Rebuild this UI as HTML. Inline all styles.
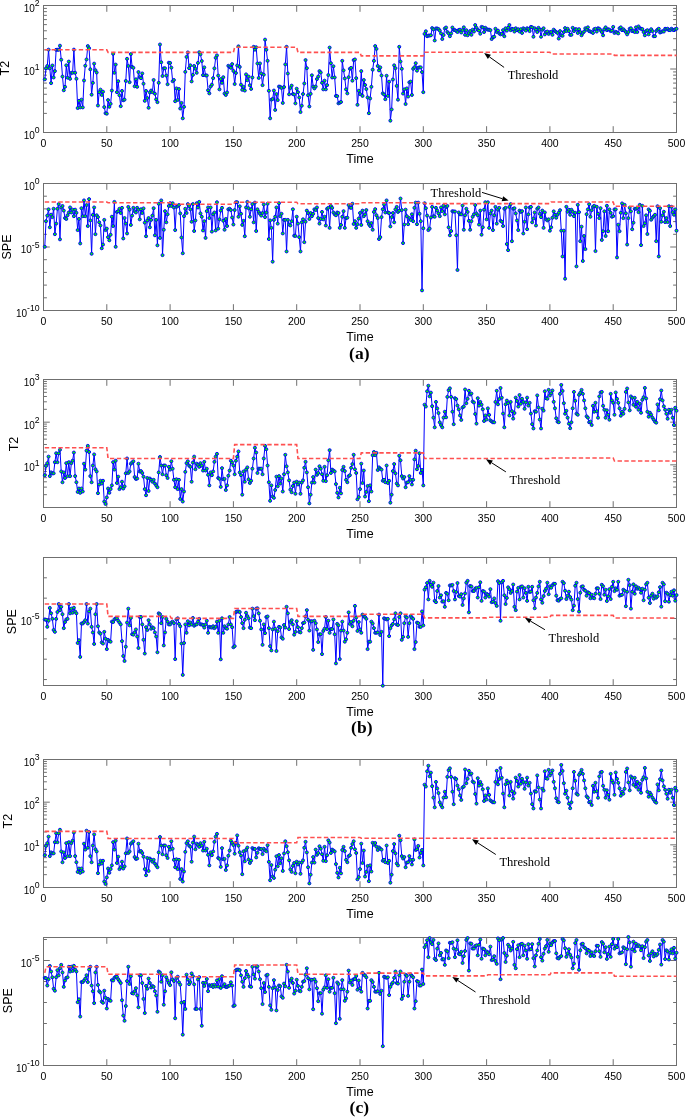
<!DOCTYPE html>
<html><head><meta charset="utf-8"><style>
html,body{margin:0;padding:0;background:#fff;}
svg{display:block;}
.tl{font-family:"Liberation Sans",Arial,sans-serif;font-size:10.5px;fill:#000;}
.tly{font-family:"Liberation Sans",Arial,sans-serif;font-size:10px;fill:#000;}
.sup{font-size:8.7px;}
.al{font-family:"Liberation Sans",Arial,sans-serif;font-size:12.5px;fill:#000;}
.th{font-family:"Liberation Serif","Times New Roman",serif;font-size:12.5px;fill:#000;}
.lt{font-family:"Liberation Serif","Times New Roman",serif;font-size:17.5px;font-weight:bold;fill:#000;}
</style></head><body>
<svg width="685" height="1119" viewBox="0 0 685 1119">
<rect width="685" height="1119" fill="#fff"/>
<path d="M43.5 132.5v-6.3M43.5 5.5v6.3M106.8 132.5v-6.3M106.8 5.5v6.3M170.1 132.5v-6.3M170.1 5.5v6.3M233.4 132.5v-6.3M233.4 5.5v6.3M296.7 132.5v-6.3M296.7 5.5v6.3M360 132.5v-6.3M360 5.5v6.3M423.3 132.5v-6.3M423.3 5.5v6.3M486.6 132.5v-6.3M486.6 5.5v6.3M549.9 132.5v-6.3M549.9 5.5v6.3M613.2 132.5v-6.3M613.2 5.5v6.3M676.5 132.5v-6.3M676.5 5.5v6.3M43.5 132.5h6.3M676.5 132.5h-6.3M43.5 113.38h3.4M676.5 113.38h-3.4M43.5 102.2h3.4M676.5 102.2h-3.4M43.5 94.27h3.4M676.5 94.27h-3.4M43.5 88.12h3.4M676.5 88.12h-3.4M43.5 83.09h3.4M676.5 83.09h-3.4M43.5 78.84h3.4M676.5 78.84h-3.4M43.5 75.15h3.4M676.5 75.15h-3.4M43.5 71.91h3.4M676.5 71.91h-3.4M43.5 69h6.3M676.5 69h-6.3M43.5 49.88h3.4M676.5 49.88h-3.4M43.5 38.7h3.4M676.5 38.7h-3.4M43.5 30.77h3.4M676.5 30.77h-3.4M43.5 24.62h3.4M676.5 24.62h-3.4M43.5 19.59h3.4M676.5 19.59h-3.4M43.5 15.34h3.4M676.5 15.34h-3.4M43.5 11.65h3.4M676.5 11.65h-3.4M43.5 8.41h3.4M676.5 8.41h-3.4M43.5 5.5h6.3M676.5 5.5h-6.3" stroke="#6f6f6f" stroke-width="1" fill="none"/>
<rect x="43.5" y="5.5" width="633" height="127" stroke="#6f6f6f" stroke-width="1" fill="none"/>
<text x="43.5" y="147" class="tl" text-anchor="middle">0</text>
<text x="106.8" y="147" class="tl" text-anchor="middle">50</text>
<text x="170.1" y="147" class="tl" text-anchor="middle">100</text>
<text x="233.4" y="147" class="tl" text-anchor="middle">150</text>
<text x="296.7" y="147" class="tl" text-anchor="middle">200</text>
<text x="360" y="147" class="tl" text-anchor="middle">250</text>
<text x="423.3" y="147" class="tl" text-anchor="middle">300</text>
<text x="486.6" y="147" class="tl" text-anchor="middle">350</text>
<text x="549.9" y="147" class="tl" text-anchor="middle">400</text>
<text x="613.2" y="147" class="tl" text-anchor="middle">450</text>
<text x="676.5" y="147" class="tl" text-anchor="middle">500</text>
<text x="360" y="163.3" class="al" text-anchor="middle">Time</text>
<text x="39.6" y="11.9" class="tly" text-anchor="end">10<tspan class="sup" dy="-5.6">2</tspan></text>
<text x="39.6" y="75.4" class="tly" text-anchor="end">10<tspan class="sup" dy="-5.6">1</tspan></text>
<text x="39.6" y="138.9" class="tly" text-anchor="end">10<tspan class="sup" dy="-5.6">0</tspan></text>
<text class="al" text-anchor="middle" transform="translate(8.9 68.2) rotate(-90)">T2</text>
<path d="M43.5 310.5v-6.3M43.5 183.5v6.3M106.8 310.5v-6.3M106.8 183.5v6.3M170.1 310.5v-6.3M170.1 183.5v6.3M233.4 310.5v-6.3M233.4 183.5v6.3M296.7 310.5v-6.3M296.7 183.5v6.3M360 310.5v-6.3M360 183.5v6.3M423.3 310.5v-6.3M423.3 183.5v6.3M486.6 310.5v-6.3M486.6 183.5v6.3M549.9 310.5v-6.3M549.9 183.5v6.3M613.2 310.5v-6.3M613.2 183.5v6.3M676.5 310.5v-6.3M676.5 183.5v6.3M43.5 310.5h6.3M676.5 310.5h-6.3M43.5 297.8h3.4M676.5 297.8h-3.4M43.5 285.1h3.4M676.5 285.1h-3.4M43.5 272.4h3.4M676.5 272.4h-3.4M43.5 259.7h3.4M676.5 259.7h-3.4M43.5 247h6.3M676.5 247h-6.3M43.5 234.3h3.4M676.5 234.3h-3.4M43.5 221.6h3.4M676.5 221.6h-3.4M43.5 208.9h3.4M676.5 208.9h-3.4M43.5 196.2h3.4M676.5 196.2h-3.4M43.5 183.5h6.3M676.5 183.5h-6.3" stroke="#6f6f6f" stroke-width="1" fill="none"/>
<rect x="43.5" y="183.5" width="633" height="127" stroke="#6f6f6f" stroke-width="1" fill="none"/>
<text x="43.5" y="325" class="tl" text-anchor="middle">0</text>
<text x="106.8" y="325" class="tl" text-anchor="middle">50</text>
<text x="170.1" y="325" class="tl" text-anchor="middle">100</text>
<text x="233.4" y="325" class="tl" text-anchor="middle">150</text>
<text x="296.7" y="325" class="tl" text-anchor="middle">200</text>
<text x="360" y="325" class="tl" text-anchor="middle">250</text>
<text x="423.3" y="325" class="tl" text-anchor="middle">300</text>
<text x="486.6" y="325" class="tl" text-anchor="middle">350</text>
<text x="549.9" y="325" class="tl" text-anchor="middle">400</text>
<text x="613.2" y="325" class="tl" text-anchor="middle">450</text>
<text x="676.5" y="325" class="tl" text-anchor="middle">500</text>
<text x="360" y="341.3" class="al" text-anchor="middle">Time</text>
<text x="39.6" y="189.9" class="tly" text-anchor="end">10<tspan class="sup" dy="-5.6">0</tspan></text>
<text x="39.6" y="253.4" class="tly" text-anchor="end">10<tspan class="sup" dy="-5.6">-5</tspan></text>
<text x="39.6" y="316.9" class="tly" text-anchor="end">10<tspan class="sup" dy="-5.6">-10</tspan></text>
<text class="al" text-anchor="middle" transform="translate(10.9 247) rotate(-90)">SPE</text>
<path d="M43.5 507.5v-6.3M43.5 379.5v6.3M106.8 507.5v-6.3M106.8 379.5v6.3M170.1 507.5v-6.3M170.1 379.5v6.3M233.4 507.5v-6.3M233.4 379.5v6.3M296.7 507.5v-6.3M296.7 379.5v6.3M360 507.5v-6.3M360 379.5v6.3M423.3 507.5v-6.3M423.3 379.5v6.3M486.6 507.5v-6.3M486.6 379.5v6.3M549.9 507.5v-6.3M549.9 379.5v6.3M613.2 507.5v-6.3M613.2 379.5v6.3M676.5 507.5v-6.3M676.5 379.5v6.3M43.5 507.5h3.4M676.5 507.5h-3.4M43.5 494.66h3.4M676.5 494.66h-3.4M43.5 487.14h3.4M676.5 487.14h-3.4M43.5 481.81h3.4M676.5 481.81h-3.4M43.5 477.68h3.4M676.5 477.68h-3.4M43.5 474.3h3.4M676.5 474.3h-3.4M43.5 471.44h3.4M676.5 471.44h-3.4M43.5 468.97h3.4M676.5 468.97h-3.4M43.5 466.79h3.4M676.5 466.79h-3.4M43.5 464.83h6.3M676.5 464.83h-6.3M43.5 451.99h3.4M676.5 451.99h-3.4M43.5 444.48h3.4M676.5 444.48h-3.4M43.5 439.15h3.4M676.5 439.15h-3.4M43.5 435.01h3.4M676.5 435.01h-3.4M43.5 431.63h3.4M676.5 431.63h-3.4M43.5 428.78h3.4M676.5 428.78h-3.4M43.5 426.3h3.4M676.5 426.3h-3.4M43.5 424.12h3.4M676.5 424.12h-3.4M43.5 422.17h6.3M676.5 422.17h-6.3M43.5 409.32h3.4M676.5 409.32h-3.4M43.5 401.81h3.4M676.5 401.81h-3.4M43.5 396.48h3.4M676.5 396.48h-3.4M43.5 392.34h3.4M676.5 392.34h-3.4M43.5 388.97h3.4M676.5 388.97h-3.4M43.5 386.11h3.4M676.5 386.11h-3.4M43.5 383.63h3.4M676.5 383.63h-3.4M43.5 381.45h3.4M676.5 381.45h-3.4M43.5 379.5h6.3M676.5 379.5h-6.3" stroke="#6f6f6f" stroke-width="1" fill="none"/>
<rect x="43.5" y="379.5" width="633" height="128" stroke="#6f6f6f" stroke-width="1" fill="none"/>
<text x="43.5" y="522" class="tl" text-anchor="middle">0</text>
<text x="106.8" y="522" class="tl" text-anchor="middle">50</text>
<text x="170.1" y="522" class="tl" text-anchor="middle">100</text>
<text x="233.4" y="522" class="tl" text-anchor="middle">150</text>
<text x="296.7" y="522" class="tl" text-anchor="middle">200</text>
<text x="360" y="522" class="tl" text-anchor="middle">250</text>
<text x="423.3" y="522" class="tl" text-anchor="middle">300</text>
<text x="486.6" y="522" class="tl" text-anchor="middle">350</text>
<text x="549.9" y="522" class="tl" text-anchor="middle">400</text>
<text x="613.2" y="522" class="tl" text-anchor="middle">450</text>
<text x="676.5" y="522" class="tl" text-anchor="middle">500</text>
<text x="360" y="538.3" class="al" text-anchor="middle">Time</text>
<text x="39.6" y="385.9" class="tly" text-anchor="end">10<tspan class="sup" dy="-5.6">3</tspan></text>
<text x="39.6" y="428.57" class="tly" text-anchor="end">10<tspan class="sup" dy="-5.6">2</tspan></text>
<text x="39.6" y="471.23" class="tly" text-anchor="end">10<tspan class="sup" dy="-5.6">1</tspan></text>
<text class="al" text-anchor="middle" transform="translate(17.9 444) rotate(-90)">T2</text>
<path d="M43.5 685.5v-6.3M43.5 557.5v6.3M106.8 685.5v-6.3M106.8 557.5v6.3M170.1 685.5v-6.3M170.1 557.5v6.3M233.4 685.5v-6.3M233.4 557.5v6.3M296.7 685.5v-6.3M296.7 557.5v6.3M360 685.5v-6.3M360 557.5v6.3M423.3 685.5v-6.3M423.3 557.5v6.3M486.6 685.5v-6.3M486.6 557.5v6.3M549.9 685.5v-6.3M549.9 557.5v6.3M613.2 685.5v-6.3M613.2 557.5v6.3M676.5 685.5v-6.3M676.5 557.5v6.3M43.5 679.55h3.4M676.5 679.55h-3.4M43.5 659.2h3.4M676.5 659.2h-3.4M43.5 638.85h3.4M676.5 638.85h-3.4M43.5 618.5h6.3M676.5 618.5h-6.3M43.5 598.15h3.4M676.5 598.15h-3.4M43.5 577.8h3.4M676.5 577.8h-3.4" stroke="#6f6f6f" stroke-width="1" fill="none"/>
<rect x="43.5" y="557.5" width="633" height="128" stroke="#6f6f6f" stroke-width="1" fill="none"/>
<text x="43.5" y="700" class="tl" text-anchor="middle">0</text>
<text x="106.8" y="700" class="tl" text-anchor="middle">50</text>
<text x="170.1" y="700" class="tl" text-anchor="middle">100</text>
<text x="233.4" y="700" class="tl" text-anchor="middle">150</text>
<text x="296.7" y="700" class="tl" text-anchor="middle">200</text>
<text x="360" y="700" class="tl" text-anchor="middle">250</text>
<text x="423.3" y="700" class="tl" text-anchor="middle">300</text>
<text x="486.6" y="700" class="tl" text-anchor="middle">350</text>
<text x="549.9" y="700" class="tl" text-anchor="middle">400</text>
<text x="613.2" y="700" class="tl" text-anchor="middle">450</text>
<text x="676.5" y="700" class="tl" text-anchor="middle">500</text>
<text x="360" y="716.3" class="al" text-anchor="middle">Time</text>
<text x="39.6" y="624.9" class="tly" text-anchor="end">10<tspan class="sup" dy="-5.6">-5</tspan></text>
<text class="al" text-anchor="middle" transform="translate(15.8 621.7) rotate(-90)">SPE</text>
<path d="M43.5 887.5v-6.3M43.5 759.5v6.3M106.8 887.5v-6.3M106.8 759.5v6.3M170.1 887.5v-6.3M170.1 759.5v6.3M233.4 887.5v-6.3M233.4 759.5v6.3M296.7 887.5v-6.3M296.7 759.5v6.3M360 887.5v-6.3M360 759.5v6.3M423.3 887.5v-6.3M423.3 759.5v6.3M486.6 887.5v-6.3M486.6 759.5v6.3M549.9 887.5v-6.3M549.9 759.5v6.3M613.2 887.5v-6.3M613.2 759.5v6.3M676.5 887.5v-6.3M676.5 759.5v6.3M43.5 887.5h6.3M676.5 887.5h-6.3M43.5 874.66h3.4M676.5 874.66h-3.4M43.5 867.14h3.4M676.5 867.14h-3.4M43.5 861.81h3.4M676.5 861.81h-3.4M43.5 857.68h3.4M676.5 857.68h-3.4M43.5 854.3h3.4M676.5 854.3h-3.4M43.5 851.44h3.4M676.5 851.44h-3.4M43.5 848.97h3.4M676.5 848.97h-3.4M43.5 846.79h3.4M676.5 846.79h-3.4M43.5 844.83h6.3M676.5 844.83h-6.3M43.5 831.99h3.4M676.5 831.99h-3.4M43.5 824.48h3.4M676.5 824.48h-3.4M43.5 819.15h3.4M676.5 819.15h-3.4M43.5 815.01h3.4M676.5 815.01h-3.4M43.5 811.63h3.4M676.5 811.63h-3.4M43.5 808.78h3.4M676.5 808.78h-3.4M43.5 806.3h3.4M676.5 806.3h-3.4M43.5 804.12h3.4M676.5 804.12h-3.4M43.5 802.17h6.3M676.5 802.17h-6.3M43.5 789.32h3.4M676.5 789.32h-3.4M43.5 781.81h3.4M676.5 781.81h-3.4M43.5 776.48h3.4M676.5 776.48h-3.4M43.5 772.34h3.4M676.5 772.34h-3.4M43.5 768.97h3.4M676.5 768.97h-3.4M43.5 766.11h3.4M676.5 766.11h-3.4M43.5 763.63h3.4M676.5 763.63h-3.4M43.5 761.45h3.4M676.5 761.45h-3.4M43.5 759.5h6.3M676.5 759.5h-6.3" stroke="#6f6f6f" stroke-width="1" fill="none"/>
<rect x="43.5" y="759.5" width="633" height="128" stroke="#6f6f6f" stroke-width="1" fill="none"/>
<text x="43.5" y="902" class="tl" text-anchor="middle">0</text>
<text x="106.8" y="902" class="tl" text-anchor="middle">50</text>
<text x="170.1" y="902" class="tl" text-anchor="middle">100</text>
<text x="233.4" y="902" class="tl" text-anchor="middle">150</text>
<text x="296.7" y="902" class="tl" text-anchor="middle">200</text>
<text x="360" y="902" class="tl" text-anchor="middle">250</text>
<text x="423.3" y="902" class="tl" text-anchor="middle">300</text>
<text x="486.6" y="902" class="tl" text-anchor="middle">350</text>
<text x="549.9" y="902" class="tl" text-anchor="middle">400</text>
<text x="613.2" y="902" class="tl" text-anchor="middle">450</text>
<text x="676.5" y="902" class="tl" text-anchor="middle">500</text>
<text x="360" y="918.3" class="al" text-anchor="middle">Time</text>
<text x="39.6" y="765.9" class="tly" text-anchor="end">10<tspan class="sup" dy="-5.6">3</tspan></text>
<text x="39.6" y="808.57" class="tly" text-anchor="end">10<tspan class="sup" dy="-5.6">2</tspan></text>
<text x="39.6" y="851.23" class="tly" text-anchor="end">10<tspan class="sup" dy="-5.6">1</tspan></text>
<text x="39.6" y="893.9" class="tly" text-anchor="end">10<tspan class="sup" dy="-5.6">0</tspan></text>
<text class="al" text-anchor="middle" transform="translate(11.8 821.2) rotate(-90)">T2</text>
<path d="M43.5 1065.5v-6.3M43.5 937.5v6.3M106.8 1065.5v-6.3M106.8 937.5v6.3M170.1 1065.5v-6.3M170.1 937.5v6.3M233.4 1065.5v-6.3M233.4 937.5v6.3M296.7 1065.5v-6.3M296.7 937.5v6.3M360 1065.5v-6.3M360 937.5v6.3M423.3 1065.5v-6.3M423.3 937.5v6.3M486.6 1065.5v-6.3M486.6 937.5v6.3M549.9 1065.5v-6.3M549.9 937.5v6.3M613.2 1065.5v-6.3M613.2 937.5v6.3M676.5 1065.5v-6.3M676.5 937.5v6.3M43.5 1065.5h6.3M676.5 1065.5h-6.3M43.5 1044.5h3.4M676.5 1044.5h-3.4M43.5 1023.5h3.4M676.5 1023.5h-3.4M43.5 1002.5h3.4M676.5 1002.5h-3.4M43.5 981.5h3.4M676.5 981.5h-3.4M43.5 960.5h6.3M676.5 960.5h-6.3M43.5 939.5h3.4M676.5 939.5h-3.4" stroke="#6f6f6f" stroke-width="1" fill="none"/>
<rect x="43.5" y="937.5" width="633" height="128" stroke="#6f6f6f" stroke-width="1" fill="none"/>
<text x="43.5" y="1080" class="tl" text-anchor="middle">0</text>
<text x="106.8" y="1080" class="tl" text-anchor="middle">50</text>
<text x="170.1" y="1080" class="tl" text-anchor="middle">100</text>
<text x="233.4" y="1080" class="tl" text-anchor="middle">150</text>
<text x="296.7" y="1080" class="tl" text-anchor="middle">200</text>
<text x="360" y="1080" class="tl" text-anchor="middle">250</text>
<text x="423.3" y="1080" class="tl" text-anchor="middle">300</text>
<text x="486.6" y="1080" class="tl" text-anchor="middle">350</text>
<text x="549.9" y="1080" class="tl" text-anchor="middle">400</text>
<text x="613.2" y="1080" class="tl" text-anchor="middle">450</text>
<text x="676.5" y="1080" class="tl" text-anchor="middle">500</text>
<text x="360" y="1096.3" class="al" text-anchor="middle">Time</text>
<text x="39.6" y="966.9" class="tly" text-anchor="end">10<tspan class="sup" dy="-5.6">-5</tspan></text>
<text x="39.6" y="1071.9" class="tly" text-anchor="end">10<tspan class="sup" dy="-5.6">-10</tspan></text>
<text class="al" text-anchor="middle" transform="translate(12.4 1000.7) rotate(-90)">SPE</text>
<polyline points="44.77,79.35 46.03,68.32 47.3,65.98 48.56,49.63 49.83,68.32 51.1,83.08 52.36,65.51 53.63,77.48 54.89,71.12 56.16,49.81 57.43,49.81 58.69,49.81 59.96,45.7 61.22,59.72 62.49,76.54 63.76,90.28 65.02,86.82 66.29,65.33 67.55,77.66 68.82,61.59 70.09,78.79 71.35,72.8 72.62,72.8 73.88,49.63 75.15,72.8 76.42,78.79 77.68,108.04 78.95,100.84 80.21,107.38 81.48,99.63 82.75,107.38 84.01,80.47 85.28,65.7 86.54,59.44 87.81,46.07 89.08,48.22 90.34,69.25 91.61,94.67 92.87,82.8 94.14,63.64 95.41,70.19 96.67,72.52 97.94,105.51 99.2,92.15 100.47,89.63 101.74,94.95 103,91.68 104.27,107.1 105.53,113.18 106.8,113.64 108.07,100.09 109.33,106.82 110.6,103.83 111.86,90.56 113.13,53.83 114.4,72.8 115.66,64.58 116.93,92.15 118.19,81.21 119.46,95.23 120.73,106.17 121.99,90.93 123.26,100.28 124.52,99.63 125.79,80.93 127.06,58.79 128.32,65.98 129.59,82.15 130.85,54.11 132.12,66.92 133.39,67.85 134.65,86.26 135.92,79.35 137.18,86.82 138.45,72.06 139.72,77.2 140.98,78.13 142.25,73.46 143.51,83.74 144.78,100.84 146.05,90.93 147.31,98.04 148.58,107.76 149.84,92.43 151.11,90.56 152.38,92.15 153.64,80 154.91,93.74 156.17,99.35 157.44,102.15 158.71,82.8 159.97,44.49 161.24,62.24 162.5,75.98 163.77,68.32 165.04,68.32 166.3,75.61 167.57,84.21 168.83,62.71 170.1,62.9 171.37,67.66 172.63,81.21 173.9,80 175.16,101.21 176.43,88.41 177.7,99.91 178.96,89.07 180.23,108.5 181.49,102.9 182.76,118.32 184.03,106.82 185.29,71.87 186.56,56.92 187.82,52.43 189.09,68.13 190.36,65.33 191.62,81.4 192.89,74.86 194.15,65.98 195.42,68.79 196.69,72.8 197.95,62.9 199.22,52.24 200.48,54.3 201.75,61.03 203.02,75.14 204.28,67.38 205.55,75.33 206.81,75.51 208.08,90.28 209.35,93.36 210.61,86.54 211.88,84.67 213.14,78.13 214.41,68.32 215.68,57.85 216.94,55.42 218.21,75.61 219.47,89.35 220.74,79.07 222.01,82.8 223.27,77.2 224.54,93.55 225.8,94.95 227.07,92.43 228.34,65.79 229.6,66.92 230.87,67.85 232.13,64.11 233.4,70.93 234.67,84.02 235.93,72.99 237.2,65.51 238.46,46.36 239.73,66.92 241,84.67 242.26,89.81 243.53,86.82 244.79,90.56 246.06,74.39 247.33,80.28 248.59,76.54 249.86,85.33 251.12,88.88 252.39,77.48 253.66,46.82 254.92,49.63 256.19,47.29 257.45,63.46 258.72,77.94 259.99,63.46 261.25,73.46 262.52,85.14 263.78,74.67 265.05,39.63 266.32,49.81 267.58,60.84 268.85,90.75 270.11,118.32 271.38,99.63 272.65,98.97 273.91,90.56 275.18,109.91 276.44,94.02 277.71,100.09 278.98,86.54 280.24,86.82 281.51,87.94 282.77,102.9 284.04,87.01 285.31,64.39 286.57,46.82 287.84,73.46 289.1,94.3 290.37,87.94 291.64,85.61 292.9,94.02 294.17,94.49 295.43,103.36 296.7,88.69 297.97,92.15 299.23,97.48 300.5,112.06 301.76,105.7 303.03,94.02 304.3,83.46 305.56,60.09 306.83,68.13 308.09,95.23 309.36,106.45 310.63,93.83 311.89,75.33 313.16,86.54 314.42,88.41 315.69,86.54 316.96,79.07 318.22,76.54 319.49,71.12 320.75,72.52 322.02,82.8 323.29,89.35 324.55,80.65 325.82,89.35 327.08,85.14 328.35,75.05 329.62,47.57 330.88,63.18 332.15,77.48 333.41,66.26 334.68,77.48 335.95,95.89 337.21,96.17 338.48,103.36 339.74,102.71 341.01,101.96 342.28,60.84 343.54,70.37 344.81,78.41 346.07,89.35 347.34,93.36 348.61,77.2 349.87,68.79 351.14,67.85 352.4,80.65 353.67,60.09 354.94,59.44 356.2,78.13 357.47,104.77 358.73,90.75 360,94.02 361.27,71.12 362.53,95.89 363.8,80 365.06,84.95 366.33,89.07 367.6,97.48 368.86,113.18 370.13,98.41 371.39,86.82 372.66,69.72 373.93,60.84 375.19,46.07 376.46,48.88 377.72,65.98 378.99,70.37 380.26,67.38 381.52,75.51 382.79,93.36 384.05,94.49 385.32,99.16 386.59,75.79 387.85,95.89 389.12,81.68 390.38,120.65 391.65,109.44 392.92,79.53 394.18,65.33 395.45,68.13 396.71,85.89 397.98,99.63 399.25,46.82 400.51,61.5 401.78,68.79 403.04,93.55 404.31,89.35 405.58,104.02 406.84,88.41 408.11,96.54 409.37,82.34 410.64,81.59 411.91,94.95 413.17,68.79 414.44,67.2 415.7,63.18 416.97,70.65 418.24,67.85 419.5,67.38 420.77,67.38 422.03,72.06 423.3,92.15 424.57,33.89 425.83,31.27 427.1,36.22 428.36,35.57 429.63,35.57 430.9,35.29 432.16,28.09 433.43,29.4 434.69,40.43 435.96,28.47 437.23,28.47 438.49,29.03 439.76,30.62 441.02,33.42 442.29,39.03 443.56,35.01 444.82,28.47 446.09,27.53 447.35,32.02 448.62,33.42 449.89,36.22 451.15,33.42 452.42,27.53 453.68,29.96 454.95,30.15 456.22,30.9 457.48,32.02 458.75,29.96 460.01,29.68 461.28,32.49 462.55,30.15 463.81,27.35 465.08,34.82 466.34,30.15 467.61,35.29 468.88,32.95 470.14,31.08 471.41,34.82 472.67,29.68 473.94,31.55 475.21,25.01 476.47,27.81 477.74,29.96 479,30.62 480.27,33.7 481.54,26.88 482.8,27.35 484.07,32.02 485.33,27.81 486.6,29.21 487.87,29.68 489.13,29.68 490.4,30.15 491.66,39.03 492.93,37.16 494.2,36.69 495.46,28.75 496.73,32.02 497.99,30.62 499.26,33.42 500.53,34.36 501.79,33.89 503.06,30.15 504.32,36.22 505.59,28.28 506.86,30.62 508.12,27.81 509.39,25.01 510.65,30.15 511.92,28.75 513.19,29.21 514.45,31.55 515.72,28.28 516.98,30.15 518.25,29.21 519.52,31.55 520.78,29.21 522.05,32.95 523.31,28.28 524.58,29.21 525.85,30.62 527.11,28.28 528.38,29.03 529.64,31.08 530.91,26.88 532.18,27.35 533.44,36.69 534.71,28.28 535.97,29.68 537.24,32.02 538.51,27.81 539.77,29.68 541.04,36.69 542.3,29.68 543.57,28.28 544.84,34.36 546.1,32.02 547.37,31.55 548.63,33.89 549.9,32.21 551.17,32.02 552.43,34.82 553.7,29.68 554.96,31.08 556.23,32.02 557.5,32.95 558.76,38.56 560.03,31.08 561.29,35.29 562.56,35.76 563.83,32.02 565.09,28.09 566.36,31.08 567.62,28.75 568.89,31.08 570.16,34.82 571.42,34.82 572.69,27.81 573.95,31.08 575.22,29.21 576.49,29.21 577.75,32.95 579.02,29.21 580.28,32.02 581.55,35.29 582.82,32.95 584.08,31.55 585.35,28.28 586.61,29.68 587.88,27.35 589.15,31.08 590.41,31.55 591.68,32.02 592.94,32.95 594.21,29.21 595.48,28.75 596.74,31.55 598.01,28.28 599.27,28.75 600.54,30.15 601.81,32.02 603.07,35.29 604.34,29.21 605.6,27.35 606.87,30.15 608.14,29.21 609.4,29.68 610.67,31.08 611.93,30.62 613.2,26.88 614.47,32.95 615.73,31.83 617,32.49 618.26,33.42 619.53,28.28 620.8,27.35 622.06,30.15 623.33,29.21 624.59,30.62 625.86,32.02 627.13,34.36 628.39,32.02 629.66,28.75 630.92,28.28 632.19,31.08 633.46,30.62 634.72,32.02 635.99,27.35 637.25,32.02 638.52,26.41 639.79,28.28 641.05,28.75 642.32,29.03 643.58,32.02 644.85,35.29 646.12,31.08 647.38,30.15 648.65,34.36 649.91,31.08 651.18,29.21 652.45,31.08 653.71,36.22 654.98,36.22 656.24,31.08 657.51,29.68 658.78,28.75 660.04,32.49 661.31,32.02 662.57,31.08 663.84,31.55 665.11,28.75 666.37,29.21 667.64,28.75 668.9,30.15 670.17,30.15 671.44,28.75 672.7,29.68 673.97,30.15 675.23,29.21 676.5,28.75" fill="none" stroke="#0000ff" stroke-width="1" stroke-linejoin="round"/>
<g fill="#00ff00" stroke="#0000ff" stroke-width="1"><circle cx="44.77" cy="79.35" r="1.5"/><circle cx="46.03" cy="68.32" r="1.5"/><circle cx="47.3" cy="65.98" r="1.5"/><circle cx="48.56" cy="49.63" r="1.5"/><circle cx="49.83" cy="68.32" r="1.5"/><circle cx="51.1" cy="83.08" r="1.5"/><circle cx="52.36" cy="65.51" r="1.5"/><circle cx="53.63" cy="77.48" r="1.5"/><circle cx="54.89" cy="71.12" r="1.5"/><circle cx="56.16" cy="49.81" r="1.5"/><circle cx="57.43" cy="49.81" r="1.5"/><circle cx="58.69" cy="49.81" r="1.5"/><circle cx="59.96" cy="45.7" r="1.5"/><circle cx="61.22" cy="59.72" r="1.5"/><circle cx="62.49" cy="76.54" r="1.5"/><circle cx="63.76" cy="90.28" r="1.5"/><circle cx="65.02" cy="86.82" r="1.5"/><circle cx="66.29" cy="65.33" r="1.5"/><circle cx="67.55" cy="77.66" r="1.5"/><circle cx="68.82" cy="61.59" r="1.5"/><circle cx="70.09" cy="78.79" r="1.5"/><circle cx="71.35" cy="72.8" r="1.5"/><circle cx="72.62" cy="72.8" r="1.5"/><circle cx="73.88" cy="49.63" r="1.5"/><circle cx="75.15" cy="72.8" r="1.5"/><circle cx="76.42" cy="78.79" r="1.5"/><circle cx="77.68" cy="108.04" r="1.5"/><circle cx="78.95" cy="100.84" r="1.5"/><circle cx="80.21" cy="107.38" r="1.5"/><circle cx="81.48" cy="99.63" r="1.5"/><circle cx="82.75" cy="107.38" r="1.5"/><circle cx="84.01" cy="80.47" r="1.5"/><circle cx="85.28" cy="65.7" r="1.5"/><circle cx="86.54" cy="59.44" r="1.5"/><circle cx="87.81" cy="46.07" r="1.5"/><circle cx="89.08" cy="48.22" r="1.5"/><circle cx="90.34" cy="69.25" r="1.5"/><circle cx="91.61" cy="94.67" r="1.5"/><circle cx="92.87" cy="82.8" r="1.5"/><circle cx="94.14" cy="63.64" r="1.5"/><circle cx="95.41" cy="70.19" r="1.5"/><circle cx="96.67" cy="72.52" r="1.5"/><circle cx="97.94" cy="105.51" r="1.5"/><circle cx="99.2" cy="92.15" r="1.5"/><circle cx="100.47" cy="89.63" r="1.5"/><circle cx="101.74" cy="94.95" r="1.5"/><circle cx="103" cy="91.68" r="1.5"/><circle cx="104.27" cy="107.1" r="1.5"/><circle cx="105.53" cy="113.18" r="1.5"/><circle cx="106.8" cy="113.64" r="1.5"/><circle cx="108.07" cy="100.09" r="1.5"/><circle cx="109.33" cy="106.82" r="1.5"/><circle cx="110.6" cy="103.83" r="1.5"/><circle cx="111.86" cy="90.56" r="1.5"/><circle cx="113.13" cy="53.83" r="1.5"/><circle cx="114.4" cy="72.8" r="1.5"/><circle cx="115.66" cy="64.58" r="1.5"/><circle cx="116.93" cy="92.15" r="1.5"/><circle cx="118.19" cy="81.21" r="1.5"/><circle cx="119.46" cy="95.23" r="1.5"/><circle cx="120.73" cy="106.17" r="1.5"/><circle cx="121.99" cy="90.93" r="1.5"/><circle cx="123.26" cy="100.28" r="1.5"/><circle cx="124.52" cy="99.63" r="1.5"/><circle cx="125.79" cy="80.93" r="1.5"/><circle cx="127.06" cy="58.79" r="1.5"/><circle cx="128.32" cy="65.98" r="1.5"/><circle cx="129.59" cy="82.15" r="1.5"/><circle cx="130.85" cy="54.11" r="1.5"/><circle cx="132.12" cy="66.92" r="1.5"/><circle cx="133.39" cy="67.85" r="1.5"/><circle cx="134.65" cy="86.26" r="1.5"/><circle cx="135.92" cy="79.35" r="1.5"/><circle cx="137.18" cy="86.82" r="1.5"/><circle cx="138.45" cy="72.06" r="1.5"/><circle cx="139.72" cy="77.2" r="1.5"/><circle cx="140.98" cy="78.13" r="1.5"/><circle cx="142.25" cy="73.46" r="1.5"/><circle cx="143.51" cy="83.74" r="1.5"/><circle cx="144.78" cy="100.84" r="1.5"/><circle cx="146.05" cy="90.93" r="1.5"/><circle cx="147.31" cy="98.04" r="1.5"/><circle cx="148.58" cy="107.76" r="1.5"/><circle cx="149.84" cy="92.43" r="1.5"/><circle cx="151.11" cy="90.56" r="1.5"/><circle cx="152.38" cy="92.15" r="1.5"/><circle cx="153.64" cy="80" r="1.5"/><circle cx="154.91" cy="93.74" r="1.5"/><circle cx="156.17" cy="99.35" r="1.5"/><circle cx="157.44" cy="102.15" r="1.5"/><circle cx="158.71" cy="82.8" r="1.5"/><circle cx="159.97" cy="44.49" r="1.5"/><circle cx="161.24" cy="62.24" r="1.5"/><circle cx="162.5" cy="75.98" r="1.5"/><circle cx="163.77" cy="68.32" r="1.5"/><circle cx="165.04" cy="68.32" r="1.5"/><circle cx="166.3" cy="75.61" r="1.5"/><circle cx="167.57" cy="84.21" r="1.5"/><circle cx="168.83" cy="62.71" r="1.5"/><circle cx="170.1" cy="62.9" r="1.5"/><circle cx="171.37" cy="67.66" r="1.5"/><circle cx="172.63" cy="81.21" r="1.5"/><circle cx="173.9" cy="80" r="1.5"/><circle cx="175.16" cy="101.21" r="1.5"/><circle cx="176.43" cy="88.41" r="1.5"/><circle cx="177.7" cy="99.91" r="1.5"/><circle cx="178.96" cy="89.07" r="1.5"/><circle cx="180.23" cy="108.5" r="1.5"/><circle cx="181.49" cy="102.9" r="1.5"/><circle cx="182.76" cy="118.32" r="1.5"/><circle cx="184.03" cy="106.82" r="1.5"/><circle cx="185.29" cy="71.87" r="1.5"/><circle cx="186.56" cy="56.92" r="1.5"/><circle cx="187.82" cy="52.43" r="1.5"/><circle cx="189.09" cy="68.13" r="1.5"/><circle cx="190.36" cy="65.33" r="1.5"/><circle cx="191.62" cy="81.4" r="1.5"/><circle cx="192.89" cy="74.86" r="1.5"/><circle cx="194.15" cy="65.98" r="1.5"/><circle cx="195.42" cy="68.79" r="1.5"/><circle cx="196.69" cy="72.8" r="1.5"/><circle cx="197.95" cy="62.9" r="1.5"/><circle cx="199.22" cy="52.24" r="1.5"/><circle cx="200.48" cy="54.3" r="1.5"/><circle cx="201.75" cy="61.03" r="1.5"/><circle cx="203.02" cy="75.14" r="1.5"/><circle cx="204.28" cy="67.38" r="1.5"/><circle cx="205.55" cy="75.33" r="1.5"/><circle cx="206.81" cy="75.51" r="1.5"/><circle cx="208.08" cy="90.28" r="1.5"/><circle cx="209.35" cy="93.36" r="1.5"/><circle cx="210.61" cy="86.54" r="1.5"/><circle cx="211.88" cy="84.67" r="1.5"/><circle cx="213.14" cy="78.13" r="1.5"/><circle cx="214.41" cy="68.32" r="1.5"/><circle cx="215.68" cy="57.85" r="1.5"/><circle cx="216.94" cy="55.42" r="1.5"/><circle cx="218.21" cy="75.61" r="1.5"/><circle cx="219.47" cy="89.35" r="1.5"/><circle cx="220.74" cy="79.07" r="1.5"/><circle cx="222.01" cy="82.8" r="1.5"/><circle cx="223.27" cy="77.2" r="1.5"/><circle cx="224.54" cy="93.55" r="1.5"/><circle cx="225.8" cy="94.95" r="1.5"/><circle cx="227.07" cy="92.43" r="1.5"/><circle cx="228.34" cy="65.79" r="1.5"/><circle cx="229.6" cy="66.92" r="1.5"/><circle cx="230.87" cy="67.85" r="1.5"/><circle cx="232.13" cy="64.11" r="1.5"/><circle cx="233.4" cy="70.93" r="1.5"/><circle cx="234.67" cy="84.02" r="1.5"/><circle cx="235.93" cy="72.99" r="1.5"/><circle cx="237.2" cy="65.51" r="1.5"/><circle cx="238.46" cy="46.36" r="1.5"/><circle cx="239.73" cy="66.92" r="1.5"/><circle cx="241" cy="84.67" r="1.5"/><circle cx="242.26" cy="89.81" r="1.5"/><circle cx="243.53" cy="86.82" r="1.5"/><circle cx="244.79" cy="90.56" r="1.5"/><circle cx="246.06" cy="74.39" r="1.5"/><circle cx="247.33" cy="80.28" r="1.5"/><circle cx="248.59" cy="76.54" r="1.5"/><circle cx="249.86" cy="85.33" r="1.5"/><circle cx="251.12" cy="88.88" r="1.5"/><circle cx="252.39" cy="77.48" r="1.5"/><circle cx="253.66" cy="46.82" r="1.5"/><circle cx="254.92" cy="49.63" r="1.5"/><circle cx="256.19" cy="47.29" r="1.5"/><circle cx="257.45" cy="63.46" r="1.5"/><circle cx="258.72" cy="77.94" r="1.5"/><circle cx="259.99" cy="63.46" r="1.5"/><circle cx="261.25" cy="73.46" r="1.5"/><circle cx="262.52" cy="85.14" r="1.5"/><circle cx="263.78" cy="74.67" r="1.5"/><circle cx="265.05" cy="39.63" r="1.5"/><circle cx="266.32" cy="49.81" r="1.5"/><circle cx="267.58" cy="60.84" r="1.5"/><circle cx="268.85" cy="90.75" r="1.5"/><circle cx="270.11" cy="118.32" r="1.5"/><circle cx="271.38" cy="99.63" r="1.5"/><circle cx="272.65" cy="98.97" r="1.5"/><circle cx="273.91" cy="90.56" r="1.5"/><circle cx="275.18" cy="109.91" r="1.5"/><circle cx="276.44" cy="94.02" r="1.5"/><circle cx="277.71" cy="100.09" r="1.5"/><circle cx="278.98" cy="86.54" r="1.5"/><circle cx="280.24" cy="86.82" r="1.5"/><circle cx="281.51" cy="87.94" r="1.5"/><circle cx="282.77" cy="102.9" r="1.5"/><circle cx="284.04" cy="87.01" r="1.5"/><circle cx="285.31" cy="64.39" r="1.5"/><circle cx="286.57" cy="46.82" r="1.5"/><circle cx="287.84" cy="73.46" r="1.5"/><circle cx="289.1" cy="94.3" r="1.5"/><circle cx="290.37" cy="87.94" r="1.5"/><circle cx="291.64" cy="85.61" r="1.5"/><circle cx="292.9" cy="94.02" r="1.5"/><circle cx="294.17" cy="94.49" r="1.5"/><circle cx="295.43" cy="103.36" r="1.5"/><circle cx="296.7" cy="88.69" r="1.5"/><circle cx="297.97" cy="92.15" r="1.5"/><circle cx="299.23" cy="97.48" r="1.5"/><circle cx="300.5" cy="112.06" r="1.5"/><circle cx="301.76" cy="105.7" r="1.5"/><circle cx="303.03" cy="94.02" r="1.5"/><circle cx="304.3" cy="83.46" r="1.5"/><circle cx="305.56" cy="60.09" r="1.5"/><circle cx="306.83" cy="68.13" r="1.5"/><circle cx="308.09" cy="95.23" r="1.5"/><circle cx="309.36" cy="106.45" r="1.5"/><circle cx="310.63" cy="93.83" r="1.5"/><circle cx="311.89" cy="75.33" r="1.5"/><circle cx="313.16" cy="86.54" r="1.5"/><circle cx="314.42" cy="88.41" r="1.5"/><circle cx="315.69" cy="86.54" r="1.5"/><circle cx="316.96" cy="79.07" r="1.5"/><circle cx="318.22" cy="76.54" r="1.5"/><circle cx="319.49" cy="71.12" r="1.5"/><circle cx="320.75" cy="72.52" r="1.5"/><circle cx="322.02" cy="82.8" r="1.5"/><circle cx="323.29" cy="89.35" r="1.5"/><circle cx="324.55" cy="80.65" r="1.5"/><circle cx="325.82" cy="89.35" r="1.5"/><circle cx="327.08" cy="85.14" r="1.5"/><circle cx="328.35" cy="75.05" r="1.5"/><circle cx="329.62" cy="47.57" r="1.5"/><circle cx="330.88" cy="63.18" r="1.5"/><circle cx="332.15" cy="77.48" r="1.5"/><circle cx="333.41" cy="66.26" r="1.5"/><circle cx="334.68" cy="77.48" r="1.5"/><circle cx="335.95" cy="95.89" r="1.5"/><circle cx="337.21" cy="96.17" r="1.5"/><circle cx="338.48" cy="103.36" r="1.5"/><circle cx="339.74" cy="102.71" r="1.5"/><circle cx="341.01" cy="101.96" r="1.5"/><circle cx="342.28" cy="60.84" r="1.5"/><circle cx="343.54" cy="70.37" r="1.5"/><circle cx="344.81" cy="78.41" r="1.5"/><circle cx="346.07" cy="89.35" r="1.5"/><circle cx="347.34" cy="93.36" r="1.5"/><circle cx="348.61" cy="77.2" r="1.5"/><circle cx="349.87" cy="68.79" r="1.5"/><circle cx="351.14" cy="67.85" r="1.5"/><circle cx="352.4" cy="80.65" r="1.5"/><circle cx="353.67" cy="60.09" r="1.5"/><circle cx="354.94" cy="59.44" r="1.5"/><circle cx="356.2" cy="78.13" r="1.5"/><circle cx="357.47" cy="104.77" r="1.5"/><circle cx="358.73" cy="90.75" r="1.5"/><circle cx="360" cy="94.02" r="1.5"/><circle cx="361.27" cy="71.12" r="1.5"/><circle cx="362.53" cy="95.89" r="1.5"/><circle cx="363.8" cy="80" r="1.5"/><circle cx="365.06" cy="84.95" r="1.5"/><circle cx="366.33" cy="89.07" r="1.5"/><circle cx="367.6" cy="97.48" r="1.5"/><circle cx="368.86" cy="113.18" r="1.5"/><circle cx="370.13" cy="98.41" r="1.5"/><circle cx="371.39" cy="86.82" r="1.5"/><circle cx="372.66" cy="69.72" r="1.5"/><circle cx="373.93" cy="60.84" r="1.5"/><circle cx="375.19" cy="46.07" r="1.5"/><circle cx="376.46" cy="48.88" r="1.5"/><circle cx="377.72" cy="65.98" r="1.5"/><circle cx="378.99" cy="70.37" r="1.5"/><circle cx="380.26" cy="67.38" r="1.5"/><circle cx="381.52" cy="75.51" r="1.5"/><circle cx="382.79" cy="93.36" r="1.5"/><circle cx="384.05" cy="94.49" r="1.5"/><circle cx="385.32" cy="99.16" r="1.5"/><circle cx="386.59" cy="75.79" r="1.5"/><circle cx="387.85" cy="95.89" r="1.5"/><circle cx="389.12" cy="81.68" r="1.5"/><circle cx="390.38" cy="120.65" r="1.5"/><circle cx="391.65" cy="109.44" r="1.5"/><circle cx="392.92" cy="79.53" r="1.5"/><circle cx="394.18" cy="65.33" r="1.5"/><circle cx="395.45" cy="68.13" r="1.5"/><circle cx="396.71" cy="85.89" r="1.5"/><circle cx="397.98" cy="99.63" r="1.5"/><circle cx="399.25" cy="46.82" r="1.5"/><circle cx="400.51" cy="61.5" r="1.5"/><circle cx="401.78" cy="68.79" r="1.5"/><circle cx="403.04" cy="93.55" r="1.5"/><circle cx="404.31" cy="89.35" r="1.5"/><circle cx="405.58" cy="104.02" r="1.5"/><circle cx="406.84" cy="88.41" r="1.5"/><circle cx="408.11" cy="96.54" r="1.5"/><circle cx="409.37" cy="82.34" r="1.5"/><circle cx="410.64" cy="81.59" r="1.5"/><circle cx="411.91" cy="94.95" r="1.5"/><circle cx="413.17" cy="68.79" r="1.5"/><circle cx="414.44" cy="67.2" r="1.5"/><circle cx="415.7" cy="63.18" r="1.5"/><circle cx="416.97" cy="70.65" r="1.5"/><circle cx="418.24" cy="67.85" r="1.5"/><circle cx="419.5" cy="67.38" r="1.5"/><circle cx="420.77" cy="67.38" r="1.5"/><circle cx="422.03" cy="72.06" r="1.5"/><circle cx="423.3" cy="92.15" r="1.5"/><circle cx="424.57" cy="33.89" r="1.5"/><circle cx="425.83" cy="31.27" r="1.5"/><circle cx="427.1" cy="36.22" r="1.5"/><circle cx="428.36" cy="35.57" r="1.5"/><circle cx="429.63" cy="35.57" r="1.5"/><circle cx="430.9" cy="35.29" r="1.5"/><circle cx="432.16" cy="28.09" r="1.5"/><circle cx="433.43" cy="29.4" r="1.5"/><circle cx="434.69" cy="40.43" r="1.5"/><circle cx="435.96" cy="28.47" r="1.5"/><circle cx="437.23" cy="28.47" r="1.5"/><circle cx="438.49" cy="29.03" r="1.5"/><circle cx="439.76" cy="30.62" r="1.5"/><circle cx="441.02" cy="33.42" r="1.5"/><circle cx="442.29" cy="39.03" r="1.5"/><circle cx="443.56" cy="35.01" r="1.5"/><circle cx="444.82" cy="28.47" r="1.5"/><circle cx="446.09" cy="27.53" r="1.5"/><circle cx="447.35" cy="32.02" r="1.5"/><circle cx="448.62" cy="33.42" r="1.5"/><circle cx="449.89" cy="36.22" r="1.5"/><circle cx="451.15" cy="33.42" r="1.5"/><circle cx="452.42" cy="27.53" r="1.5"/><circle cx="453.68" cy="29.96" r="1.5"/><circle cx="454.95" cy="30.15" r="1.5"/><circle cx="456.22" cy="30.9" r="1.5"/><circle cx="457.48" cy="32.02" r="1.5"/><circle cx="458.75" cy="29.96" r="1.5"/><circle cx="460.01" cy="29.68" r="1.5"/><circle cx="461.28" cy="32.49" r="1.5"/><circle cx="462.55" cy="30.15" r="1.5"/><circle cx="463.81" cy="27.35" r="1.5"/><circle cx="465.08" cy="34.82" r="1.5"/><circle cx="466.34" cy="30.15" r="1.5"/><circle cx="467.61" cy="35.29" r="1.5"/><circle cx="468.88" cy="32.95" r="1.5"/><circle cx="470.14" cy="31.08" r="1.5"/><circle cx="471.41" cy="34.82" r="1.5"/><circle cx="472.67" cy="29.68" r="1.5"/><circle cx="473.94" cy="31.55" r="1.5"/><circle cx="475.21" cy="25.01" r="1.5"/><circle cx="476.47" cy="27.81" r="1.5"/><circle cx="477.74" cy="29.96" r="1.5"/><circle cx="479" cy="30.62" r="1.5"/><circle cx="480.27" cy="33.7" r="1.5"/><circle cx="481.54" cy="26.88" r="1.5"/><circle cx="482.8" cy="27.35" r="1.5"/><circle cx="484.07" cy="32.02" r="1.5"/><circle cx="485.33" cy="27.81" r="1.5"/><circle cx="486.6" cy="29.21" r="1.5"/><circle cx="487.87" cy="29.68" r="1.5"/><circle cx="489.13" cy="29.68" r="1.5"/><circle cx="490.4" cy="30.15" r="1.5"/><circle cx="491.66" cy="39.03" r="1.5"/><circle cx="492.93" cy="37.16" r="1.5"/><circle cx="494.2" cy="36.69" r="1.5"/><circle cx="495.46" cy="28.75" r="1.5"/><circle cx="496.73" cy="32.02" r="1.5"/><circle cx="497.99" cy="30.62" r="1.5"/><circle cx="499.26" cy="33.42" r="1.5"/><circle cx="500.53" cy="34.36" r="1.5"/><circle cx="501.79" cy="33.89" r="1.5"/><circle cx="503.06" cy="30.15" r="1.5"/><circle cx="504.32" cy="36.22" r="1.5"/><circle cx="505.59" cy="28.28" r="1.5"/><circle cx="506.86" cy="30.62" r="1.5"/><circle cx="508.12" cy="27.81" r="1.5"/><circle cx="509.39" cy="25.01" r="1.5"/><circle cx="510.65" cy="30.15" r="1.5"/><circle cx="511.92" cy="28.75" r="1.5"/><circle cx="513.19" cy="29.21" r="1.5"/><circle cx="514.45" cy="31.55" r="1.5"/><circle cx="515.72" cy="28.28" r="1.5"/><circle cx="516.98" cy="30.15" r="1.5"/><circle cx="518.25" cy="29.21" r="1.5"/><circle cx="519.52" cy="31.55" r="1.5"/><circle cx="520.78" cy="29.21" r="1.5"/><circle cx="522.05" cy="32.95" r="1.5"/><circle cx="523.31" cy="28.28" r="1.5"/><circle cx="524.58" cy="29.21" r="1.5"/><circle cx="525.85" cy="30.62" r="1.5"/><circle cx="527.11" cy="28.28" r="1.5"/><circle cx="528.38" cy="29.03" r="1.5"/><circle cx="529.64" cy="31.08" r="1.5"/><circle cx="530.91" cy="26.88" r="1.5"/><circle cx="532.18" cy="27.35" r="1.5"/><circle cx="533.44" cy="36.69" r="1.5"/><circle cx="534.71" cy="28.28" r="1.5"/><circle cx="535.97" cy="29.68" r="1.5"/><circle cx="537.24" cy="32.02" r="1.5"/><circle cx="538.51" cy="27.81" r="1.5"/><circle cx="539.77" cy="29.68" r="1.5"/><circle cx="541.04" cy="36.69" r="1.5"/><circle cx="542.3" cy="29.68" r="1.5"/><circle cx="543.57" cy="28.28" r="1.5"/><circle cx="544.84" cy="34.36" r="1.5"/><circle cx="546.1" cy="32.02" r="1.5"/><circle cx="547.37" cy="31.55" r="1.5"/><circle cx="548.63" cy="33.89" r="1.5"/><circle cx="549.9" cy="32.21" r="1.5"/><circle cx="551.17" cy="32.02" r="1.5"/><circle cx="552.43" cy="34.82" r="1.5"/><circle cx="553.7" cy="29.68" r="1.5"/><circle cx="554.96" cy="31.08" r="1.5"/><circle cx="556.23" cy="32.02" r="1.5"/><circle cx="557.5" cy="32.95" r="1.5"/><circle cx="558.76" cy="38.56" r="1.5"/><circle cx="560.03" cy="31.08" r="1.5"/><circle cx="561.29" cy="35.29" r="1.5"/><circle cx="562.56" cy="35.76" r="1.5"/><circle cx="563.83" cy="32.02" r="1.5"/><circle cx="565.09" cy="28.09" r="1.5"/><circle cx="566.36" cy="31.08" r="1.5"/><circle cx="567.62" cy="28.75" r="1.5"/><circle cx="568.89" cy="31.08" r="1.5"/><circle cx="570.16" cy="34.82" r="1.5"/><circle cx="571.42" cy="34.82" r="1.5"/><circle cx="572.69" cy="27.81" r="1.5"/><circle cx="573.95" cy="31.08" r="1.5"/><circle cx="575.22" cy="29.21" r="1.5"/><circle cx="576.49" cy="29.21" r="1.5"/><circle cx="577.75" cy="32.95" r="1.5"/><circle cx="579.02" cy="29.21" r="1.5"/><circle cx="580.28" cy="32.02" r="1.5"/><circle cx="581.55" cy="35.29" r="1.5"/><circle cx="582.82" cy="32.95" r="1.5"/><circle cx="584.08" cy="31.55" r="1.5"/><circle cx="585.35" cy="28.28" r="1.5"/><circle cx="586.61" cy="29.68" r="1.5"/><circle cx="587.88" cy="27.35" r="1.5"/><circle cx="589.15" cy="31.08" r="1.5"/><circle cx="590.41" cy="31.55" r="1.5"/><circle cx="591.68" cy="32.02" r="1.5"/><circle cx="592.94" cy="32.95" r="1.5"/><circle cx="594.21" cy="29.21" r="1.5"/><circle cx="595.48" cy="28.75" r="1.5"/><circle cx="596.74" cy="31.55" r="1.5"/><circle cx="598.01" cy="28.28" r="1.5"/><circle cx="599.27" cy="28.75" r="1.5"/><circle cx="600.54" cy="30.15" r="1.5"/><circle cx="601.81" cy="32.02" r="1.5"/><circle cx="603.07" cy="35.29" r="1.5"/><circle cx="604.34" cy="29.21" r="1.5"/><circle cx="605.6" cy="27.35" r="1.5"/><circle cx="606.87" cy="30.15" r="1.5"/><circle cx="608.14" cy="29.21" r="1.5"/><circle cx="609.4" cy="29.68" r="1.5"/><circle cx="610.67" cy="31.08" r="1.5"/><circle cx="611.93" cy="30.62" r="1.5"/><circle cx="613.2" cy="26.88" r="1.5"/><circle cx="614.47" cy="32.95" r="1.5"/><circle cx="615.73" cy="31.83" r="1.5"/><circle cx="617" cy="32.49" r="1.5"/><circle cx="618.26" cy="33.42" r="1.5"/><circle cx="619.53" cy="28.28" r="1.5"/><circle cx="620.8" cy="27.35" r="1.5"/><circle cx="622.06" cy="30.15" r="1.5"/><circle cx="623.33" cy="29.21" r="1.5"/><circle cx="624.59" cy="30.62" r="1.5"/><circle cx="625.86" cy="32.02" r="1.5"/><circle cx="627.13" cy="34.36" r="1.5"/><circle cx="628.39" cy="32.02" r="1.5"/><circle cx="629.66" cy="28.75" r="1.5"/><circle cx="630.92" cy="28.28" r="1.5"/><circle cx="632.19" cy="31.08" r="1.5"/><circle cx="633.46" cy="30.62" r="1.5"/><circle cx="634.72" cy="32.02" r="1.5"/><circle cx="635.99" cy="27.35" r="1.5"/><circle cx="637.25" cy="32.02" r="1.5"/><circle cx="638.52" cy="26.41" r="1.5"/><circle cx="639.79" cy="28.28" r="1.5"/><circle cx="641.05" cy="28.75" r="1.5"/><circle cx="642.32" cy="29.03" r="1.5"/><circle cx="643.58" cy="32.02" r="1.5"/><circle cx="644.85" cy="35.29" r="1.5"/><circle cx="646.12" cy="31.08" r="1.5"/><circle cx="647.38" cy="30.15" r="1.5"/><circle cx="648.65" cy="34.36" r="1.5"/><circle cx="649.91" cy="31.08" r="1.5"/><circle cx="651.18" cy="29.21" r="1.5"/><circle cx="652.45" cy="31.08" r="1.5"/><circle cx="653.71" cy="36.22" r="1.5"/><circle cx="654.98" cy="36.22" r="1.5"/><circle cx="656.24" cy="31.08" r="1.5"/><circle cx="657.51" cy="29.68" r="1.5"/><circle cx="658.78" cy="28.75" r="1.5"/><circle cx="660.04" cy="32.49" r="1.5"/><circle cx="661.31" cy="32.02" r="1.5"/><circle cx="662.57" cy="31.08" r="1.5"/><circle cx="663.84" cy="31.55" r="1.5"/><circle cx="665.11" cy="28.75" r="1.5"/><circle cx="666.37" cy="29.21" r="1.5"/><circle cx="667.64" cy="28.75" r="1.5"/><circle cx="668.9" cy="30.15" r="1.5"/><circle cx="670.17" cy="30.15" r="1.5"/><circle cx="671.44" cy="28.75" r="1.5"/><circle cx="672.7" cy="29.68" r="1.5"/><circle cx="673.97" cy="30.15" r="1.5"/><circle cx="675.23" cy="29.21" r="1.5"/><circle cx="676.5" cy="28.75" r="1.5"/></g>
<polyline points="44.77,49.8 106.8,49.8 108.07,52.4 170.1,52.4 171.37,52.4 233.4,52.4 234.67,47.2 296.7,47.2 297.97,52.4 360,52.4 361.27,55.9 423.3,55.9 424.57,52.3 486.6,52.3 487.87,52.3 549.9,52.3 551.17,54 613.2,54 614.47,55.4 676.5,55.4" fill="none" stroke="#ff5050" stroke-width="1.6" stroke-dasharray="4.4 2.4"/>
<polyline points="44.77,246.79 46.03,221.19 47.3,215.62 48.56,209.31 49.83,227.31 51.1,214.69 52.36,217.11 53.63,208.76 54.89,234.17 56.16,223.6 57.43,208.76 58.69,204.12 59.96,239.37 61.22,207.46 62.49,205.97 63.76,210.61 65.02,218.03 66.29,218.96 67.55,215.25 68.82,212.47 70.09,207.46 71.35,212.47 72.62,209.68 73.88,216.18 75.15,209.68 76.42,212.84 77.68,230.09 78.95,218.96 80.21,243.45 81.48,208.2 82.75,216.18 84.01,200.41 85.28,216.18 86.54,205.05 87.81,226.01 89.08,199.11 90.34,220.45 91.61,253.84 92.87,214.88 94.14,207.46 95.41,234.17 96.67,215.25 97.94,217.11 99.2,222.3 100.47,225.45 101.74,248.27 103,244.56 104.27,219.89 105.53,230.09 106.8,228.61 108.07,237.14 109.33,240.3 110.6,234.73 111.86,216.73 113.13,226.01 114.4,201.89 115.66,246.79 116.93,211.91 118.19,211.17 119.46,208.76 120.73,213.02 121.99,207.83 123.26,238.44 124.52,218.03 125.79,223.6 127.06,233.43 128.32,206.9 129.59,209.68 130.85,224.9 132.12,215.62 133.39,207.83 134.65,211.17 135.92,212.47 137.18,207.83 138.45,209.68 139.72,219.33 140.98,209.31 142.25,213.02 143.51,208.39 144.78,222.67 146.05,236.22 147.31,220.45 148.58,218.03 149.84,227.31 151.11,219.89 152.38,215.62 153.64,208.2 154.91,235.29 156.17,219.89 157.44,245.31 158.71,203.75 159.97,237.88 161.24,200.41 162.5,255.14 163.77,229.72 165.04,211.17 166.3,222.3 167.57,214.32 168.83,205.97 170.1,203.19 171.37,205.97 172.63,203.19 173.9,207.46 175.16,230.09 176.43,206.9 177.7,205.97 178.96,205.05 180.23,213.4 181.49,237.51 182.76,253.28 184.03,216.18 185.29,208.76 186.56,213.02 187.82,204.12 189.09,205.97 190.36,209.31 191.62,221.74 192.89,204.12 194.15,231.02 195.42,220.45 196.69,203.19 197.95,207.46 199.22,201.89 200.48,213.4 201.75,216.73 203.02,230.46 204.28,221.19 205.55,237.88 206.81,211.17 208.08,207.46 209.35,218.03 210.61,207.46 211.88,231.58 213.14,214.32 214.41,212.47 215.68,230.46 216.94,202.26 218.21,228.61 219.47,219.33 220.74,210.61 222.01,207.83 223.27,220.82 224.54,229.72 225.8,218.96 227.07,226.01 228.34,209.31 229.6,208.76 230.87,210.06 232.13,217.48 233.4,224.53 234.67,210.06 235.93,202.26 237.2,202.26 238.46,216.73 239.73,206.35 241,213.77 242.26,224.9 243.53,220.82 244.79,236.22 246.06,207.46 247.33,201.89 248.59,208.2 249.86,216.73 251.12,209.31 252.39,204.12 253.66,222.3 254.92,202.63 256.19,231.02 257.45,209.31 258.72,211.91 259.99,213.77 261.25,215.62 262.52,213.02 263.78,204.49 265.05,217.11 266.32,212.47 267.58,203.75 268.85,239 270.11,220.45 271.38,227.87 272.65,261.63 273.91,219.89 275.18,216.73 276.44,207.46 277.71,223.6 278.98,203.19 280.24,216.18 281.51,213.77 282.77,233.43 284.04,219.89 285.31,219.89 286.57,251.43 287.84,219.89 289.1,224.53 290.37,225.45 291.64,221.19 292.9,209.31 294.17,235.66 295.43,236.03 296.7,216.73 297.97,223.6 299.23,237.14 300.5,251.43 301.76,222.3 303.03,219.33 304.3,242.15 305.56,221.74 306.83,210.61 308.09,213.02 309.36,218.96 310.63,213.02 311.89,216.18 313.16,213.77 314.42,209.31 315.69,210.06 316.96,207.46 318.22,218.03 319.49,223.6 320.75,218.96 322.02,211.91 323.29,219.33 324.55,216.73 325.82,225.45 327.08,208.76 328.35,207.83 329.62,227.87 330.88,205.97 332.15,207.83 333.41,212.47 334.68,214.32 335.95,215.25 337.21,212.47 338.48,213.02 339.74,227.87 341.01,224.9 342.28,216.73 343.54,211.17 344.81,227.87 346.07,218.03 347.34,217.66 348.61,205.05 349.87,207.46 351.14,207.83 352.4,203.75 353.67,223.97 354.94,221.19 356.2,227.87 357.47,224.16 358.73,218.59 360,213.02 361.27,224.9 362.53,210.61 363.8,216.18 365.06,214.32 366.33,210.06 367.6,221.19 368.86,224.16 370.13,226.01 371.39,223.04 372.66,229.72 373.93,211.91 375.19,209.13 376.46,215.25 377.72,218.03 378.99,239 380.26,237.14 381.52,217.11 382.79,209.31 384.05,204.49 385.32,212.47 386.59,200.41 387.85,212.47 389.12,213.02 390.38,226.38 391.65,217.11 392.92,213.02 394.18,222.3 395.45,209.31 396.71,206.9 397.98,211.91 399.25,210.61 400.51,198.55 401.78,210.06 403.04,243.08 404.31,224.53 405.58,209.68 406.84,216.18 408.11,224.16 409.37,218.03 410.64,219.89 411.91,214.32 413.17,221.19 414.44,207.83 415.7,202.63 416.97,224.16 418.24,202.63 419.5,213.77 420.77,221.19 422.03,290.39 423.3,228.24 424.57,203.19 425.83,208.2 427.1,215.62 428.36,230.09 429.63,228.61 430.9,217.48 432.16,206.9 433.43,216.18 434.69,216.73 435.96,207.83 437.23,210.61 438.49,213.4 439.76,216.18 441.02,207.46 442.29,211.17 443.56,205.6 444.82,214.32 446.09,206.9 447.35,205.97 448.62,227.31 449.89,235.29 451.15,231.02 452.42,211.17 453.68,211.54 454.95,211.54 456.22,235.29 457.48,269.98 458.75,212.47 460.01,214.32 461.28,214.32 462.55,205.6 463.81,229.72 465.08,215.25 466.34,208.76 467.61,211.91 468.88,220.82 470.14,229.72 471.41,221.19 472.67,216.73 473.94,214.32 475.21,205.05 476.47,213.4 477.74,215.25 479,224.53 480.27,210.61 481.54,234.73 482.8,227.31 484.07,209.68 485.33,202.26 486.6,219.33 487.87,202.26 489.13,227.87 490.4,213.4 491.66,210.61 492.93,230.09 494.2,215.25 495.46,206.9 496.73,223.6 497.99,209.68 499.26,207.83 500.53,220.82 501.79,221.74 503.06,226.01 504.32,208.76 505.59,207.83 506.86,244.01 508.12,250.13 509.39,206.9 510.65,204.12 511.92,241.22 513.19,208.76 514.45,208.2 515.72,213.4 516.98,220.45 518.25,230.09 519.52,210.61 520.78,211.91 522.05,211.17 523.31,233.43 524.58,221.74 525.85,207.46 527.11,229.17 528.38,214.32 529.64,207.46 530.91,206.9 532.18,222.3 533.44,218.59 534.71,212.47 535.97,225.45 537.24,208.76 538.51,207.46 539.77,213.77 541.04,217.11 542.3,210.61 543.57,227.87 544.84,212.47 546.1,219.33 547.37,220.45 548.63,219.33 549.9,230.63 551.17,227.25 552.43,217.72 553.7,211.37 554.96,214.74 556.23,217.72 557.5,214.74 558.76,212.76 560.03,210.18 561.29,230.63 562.56,256.43 563.83,230.63 565.09,278.67 566.36,206.8 567.62,211.76 568.89,209.78 570.16,214.74 571.42,209.78 572.69,211.76 573.95,216.13 575.22,212.76 576.49,266.36 577.75,204.82 579.02,212.16 580.28,241.15 581.55,226.65 582.82,261 584.08,235.99 585.35,249.09 586.61,214.15 587.88,209.38 589.15,204.22 590.41,216.73 591.68,210.18 592.94,206.8 594.21,205.81 595.48,251.07 596.74,206.8 598.01,213.75 599.27,218.12 600.54,208.19 601.81,239.96 603.07,231.22 604.34,211.37 605.6,235.99 606.87,205.81 608.14,231.22 609.4,209.38 610.67,212.76 611.93,216.73 613.2,216.13 614.47,209.38 615.73,209.38 617,257.43 618.26,224.67 619.53,231.22 620.8,212.76 622.06,203.43 623.33,218.12 624.59,204.82 625.86,213.35 627.13,244.52 628.39,218.12 629.66,207.79 630.92,211.37 632.19,229.24 633.46,222.68 634.72,208.79 635.99,208.79 637.25,207.79 638.52,212.16 639.79,204.82 641.05,245.12 642.32,205.81 643.58,226.06 644.85,223.28 646.12,215.34 647.38,234 648.65,209.38 649.91,210.77 651.18,219.71 652.45,217.72 653.71,216.13 654.98,214.74 656.24,241.15 657.51,206.21 658.78,256.43 660.04,208.19 661.31,221.69 662.57,215.34 663.84,211.76 665.11,222.09 666.37,218.12 667.64,222.09 668.9,206.21 670.17,226.06 671.44,206.8 672.7,212.16 673.97,214.74 675.23,209.38 676.5,230.63" fill="none" stroke="#0000ff" stroke-width="1" stroke-linejoin="round"/>
<g fill="#00ff00" stroke="#0000ff" stroke-width="1"><circle cx="44.77" cy="246.79" r="1.5"/><circle cx="46.03" cy="221.19" r="1.5"/><circle cx="47.3" cy="215.62" r="1.5"/><circle cx="48.56" cy="209.31" r="1.5"/><circle cx="49.83" cy="227.31" r="1.5"/><circle cx="51.1" cy="214.69" r="1.5"/><circle cx="52.36" cy="217.11" r="1.5"/><circle cx="53.63" cy="208.76" r="1.5"/><circle cx="54.89" cy="234.17" r="1.5"/><circle cx="56.16" cy="223.6" r="1.5"/><circle cx="57.43" cy="208.76" r="1.5"/><circle cx="58.69" cy="204.12" r="1.5"/><circle cx="59.96" cy="239.37" r="1.5"/><circle cx="61.22" cy="207.46" r="1.5"/><circle cx="62.49" cy="205.97" r="1.5"/><circle cx="63.76" cy="210.61" r="1.5"/><circle cx="65.02" cy="218.03" r="1.5"/><circle cx="66.29" cy="218.96" r="1.5"/><circle cx="67.55" cy="215.25" r="1.5"/><circle cx="68.82" cy="212.47" r="1.5"/><circle cx="70.09" cy="207.46" r="1.5"/><circle cx="71.35" cy="212.47" r="1.5"/><circle cx="72.62" cy="209.68" r="1.5"/><circle cx="73.88" cy="216.18" r="1.5"/><circle cx="75.15" cy="209.68" r="1.5"/><circle cx="76.42" cy="212.84" r="1.5"/><circle cx="77.68" cy="230.09" r="1.5"/><circle cx="78.95" cy="218.96" r="1.5"/><circle cx="80.21" cy="243.45" r="1.5"/><circle cx="81.48" cy="208.2" r="1.5"/><circle cx="82.75" cy="216.18" r="1.5"/><circle cx="84.01" cy="200.41" r="1.5"/><circle cx="85.28" cy="216.18" r="1.5"/><circle cx="86.54" cy="205.05" r="1.5"/><circle cx="87.81" cy="226.01" r="1.5"/><circle cx="89.08" cy="199.11" r="1.5"/><circle cx="90.34" cy="220.45" r="1.5"/><circle cx="91.61" cy="253.84" r="1.5"/><circle cx="92.87" cy="214.88" r="1.5"/><circle cx="94.14" cy="207.46" r="1.5"/><circle cx="95.41" cy="234.17" r="1.5"/><circle cx="96.67" cy="215.25" r="1.5"/><circle cx="97.94" cy="217.11" r="1.5"/><circle cx="99.2" cy="222.3" r="1.5"/><circle cx="100.47" cy="225.45" r="1.5"/><circle cx="101.74" cy="248.27" r="1.5"/><circle cx="103" cy="244.56" r="1.5"/><circle cx="104.27" cy="219.89" r="1.5"/><circle cx="105.53" cy="230.09" r="1.5"/><circle cx="106.8" cy="228.61" r="1.5"/><circle cx="108.07" cy="237.14" r="1.5"/><circle cx="109.33" cy="240.3" r="1.5"/><circle cx="110.6" cy="234.73" r="1.5"/><circle cx="111.86" cy="216.73" r="1.5"/><circle cx="113.13" cy="226.01" r="1.5"/><circle cx="114.4" cy="201.89" r="1.5"/><circle cx="115.66" cy="246.79" r="1.5"/><circle cx="116.93" cy="211.91" r="1.5"/><circle cx="118.19" cy="211.17" r="1.5"/><circle cx="119.46" cy="208.76" r="1.5"/><circle cx="120.73" cy="213.02" r="1.5"/><circle cx="121.99" cy="207.83" r="1.5"/><circle cx="123.26" cy="238.44" r="1.5"/><circle cx="124.52" cy="218.03" r="1.5"/><circle cx="125.79" cy="223.6" r="1.5"/><circle cx="127.06" cy="233.43" r="1.5"/><circle cx="128.32" cy="206.9" r="1.5"/><circle cx="129.59" cy="209.68" r="1.5"/><circle cx="130.85" cy="224.9" r="1.5"/><circle cx="132.12" cy="215.62" r="1.5"/><circle cx="133.39" cy="207.83" r="1.5"/><circle cx="134.65" cy="211.17" r="1.5"/><circle cx="135.92" cy="212.47" r="1.5"/><circle cx="137.18" cy="207.83" r="1.5"/><circle cx="138.45" cy="209.68" r="1.5"/><circle cx="139.72" cy="219.33" r="1.5"/><circle cx="140.98" cy="209.31" r="1.5"/><circle cx="142.25" cy="213.02" r="1.5"/><circle cx="143.51" cy="208.39" r="1.5"/><circle cx="144.78" cy="222.67" r="1.5"/><circle cx="146.05" cy="236.22" r="1.5"/><circle cx="147.31" cy="220.45" r="1.5"/><circle cx="148.58" cy="218.03" r="1.5"/><circle cx="149.84" cy="227.31" r="1.5"/><circle cx="151.11" cy="219.89" r="1.5"/><circle cx="152.38" cy="215.62" r="1.5"/><circle cx="153.64" cy="208.2" r="1.5"/><circle cx="154.91" cy="235.29" r="1.5"/><circle cx="156.17" cy="219.89" r="1.5"/><circle cx="157.44" cy="245.31" r="1.5"/><circle cx="158.71" cy="203.75" r="1.5"/><circle cx="159.97" cy="237.88" r="1.5"/><circle cx="161.24" cy="200.41" r="1.5"/><circle cx="162.5" cy="255.14" r="1.5"/><circle cx="163.77" cy="229.72" r="1.5"/><circle cx="165.04" cy="211.17" r="1.5"/><circle cx="166.3" cy="222.3" r="1.5"/><circle cx="167.57" cy="214.32" r="1.5"/><circle cx="168.83" cy="205.97" r="1.5"/><circle cx="170.1" cy="203.19" r="1.5"/><circle cx="171.37" cy="205.97" r="1.5"/><circle cx="172.63" cy="203.19" r="1.5"/><circle cx="173.9" cy="207.46" r="1.5"/><circle cx="175.16" cy="230.09" r="1.5"/><circle cx="176.43" cy="206.9" r="1.5"/><circle cx="177.7" cy="205.97" r="1.5"/><circle cx="178.96" cy="205.05" r="1.5"/><circle cx="180.23" cy="213.4" r="1.5"/><circle cx="181.49" cy="237.51" r="1.5"/><circle cx="182.76" cy="253.28" r="1.5"/><circle cx="184.03" cy="216.18" r="1.5"/><circle cx="185.29" cy="208.76" r="1.5"/><circle cx="186.56" cy="213.02" r="1.5"/><circle cx="187.82" cy="204.12" r="1.5"/><circle cx="189.09" cy="205.97" r="1.5"/><circle cx="190.36" cy="209.31" r="1.5"/><circle cx="191.62" cy="221.74" r="1.5"/><circle cx="192.89" cy="204.12" r="1.5"/><circle cx="194.15" cy="231.02" r="1.5"/><circle cx="195.42" cy="220.45" r="1.5"/><circle cx="196.69" cy="203.19" r="1.5"/><circle cx="197.95" cy="207.46" r="1.5"/><circle cx="199.22" cy="201.89" r="1.5"/><circle cx="200.48" cy="213.4" r="1.5"/><circle cx="201.75" cy="216.73" r="1.5"/><circle cx="203.02" cy="230.46" r="1.5"/><circle cx="204.28" cy="221.19" r="1.5"/><circle cx="205.55" cy="237.88" r="1.5"/><circle cx="206.81" cy="211.17" r="1.5"/><circle cx="208.08" cy="207.46" r="1.5"/><circle cx="209.35" cy="218.03" r="1.5"/><circle cx="210.61" cy="207.46" r="1.5"/><circle cx="211.88" cy="231.58" r="1.5"/><circle cx="213.14" cy="214.32" r="1.5"/><circle cx="214.41" cy="212.47" r="1.5"/><circle cx="215.68" cy="230.46" r="1.5"/><circle cx="216.94" cy="202.26" r="1.5"/><circle cx="218.21" cy="228.61" r="1.5"/><circle cx="219.47" cy="219.33" r="1.5"/><circle cx="220.74" cy="210.61" r="1.5"/><circle cx="222.01" cy="207.83" r="1.5"/><circle cx="223.27" cy="220.82" r="1.5"/><circle cx="224.54" cy="229.72" r="1.5"/><circle cx="225.8" cy="218.96" r="1.5"/><circle cx="227.07" cy="226.01" r="1.5"/><circle cx="228.34" cy="209.31" r="1.5"/><circle cx="229.6" cy="208.76" r="1.5"/><circle cx="230.87" cy="210.06" r="1.5"/><circle cx="232.13" cy="217.48" r="1.5"/><circle cx="233.4" cy="224.53" r="1.5"/><circle cx="234.67" cy="210.06" r="1.5"/><circle cx="235.93" cy="202.26" r="1.5"/><circle cx="237.2" cy="202.26" r="1.5"/><circle cx="238.46" cy="216.73" r="1.5"/><circle cx="239.73" cy="206.35" r="1.5"/><circle cx="241" cy="213.77" r="1.5"/><circle cx="242.26" cy="224.9" r="1.5"/><circle cx="243.53" cy="220.82" r="1.5"/><circle cx="244.79" cy="236.22" r="1.5"/><circle cx="246.06" cy="207.46" r="1.5"/><circle cx="247.33" cy="201.89" r="1.5"/><circle cx="248.59" cy="208.2" r="1.5"/><circle cx="249.86" cy="216.73" r="1.5"/><circle cx="251.12" cy="209.31" r="1.5"/><circle cx="252.39" cy="204.12" r="1.5"/><circle cx="253.66" cy="222.3" r="1.5"/><circle cx="254.92" cy="202.63" r="1.5"/><circle cx="256.19" cy="231.02" r="1.5"/><circle cx="257.45" cy="209.31" r="1.5"/><circle cx="258.72" cy="211.91" r="1.5"/><circle cx="259.99" cy="213.77" r="1.5"/><circle cx="261.25" cy="215.62" r="1.5"/><circle cx="262.52" cy="213.02" r="1.5"/><circle cx="263.78" cy="204.49" r="1.5"/><circle cx="265.05" cy="217.11" r="1.5"/><circle cx="266.32" cy="212.47" r="1.5"/><circle cx="267.58" cy="203.75" r="1.5"/><circle cx="268.85" cy="239" r="1.5"/><circle cx="270.11" cy="220.45" r="1.5"/><circle cx="271.38" cy="227.87" r="1.5"/><circle cx="272.65" cy="261.63" r="1.5"/><circle cx="273.91" cy="219.89" r="1.5"/><circle cx="275.18" cy="216.73" r="1.5"/><circle cx="276.44" cy="207.46" r="1.5"/><circle cx="277.71" cy="223.6" r="1.5"/><circle cx="278.98" cy="203.19" r="1.5"/><circle cx="280.24" cy="216.18" r="1.5"/><circle cx="281.51" cy="213.77" r="1.5"/><circle cx="282.77" cy="233.43" r="1.5"/><circle cx="284.04" cy="219.89" r="1.5"/><circle cx="285.31" cy="219.89" r="1.5"/><circle cx="286.57" cy="251.43" r="1.5"/><circle cx="287.84" cy="219.89" r="1.5"/><circle cx="289.1" cy="224.53" r="1.5"/><circle cx="290.37" cy="225.45" r="1.5"/><circle cx="291.64" cy="221.19" r="1.5"/><circle cx="292.9" cy="209.31" r="1.5"/><circle cx="294.17" cy="235.66" r="1.5"/><circle cx="295.43" cy="236.03" r="1.5"/><circle cx="296.7" cy="216.73" r="1.5"/><circle cx="297.97" cy="223.6" r="1.5"/><circle cx="299.23" cy="237.14" r="1.5"/><circle cx="300.5" cy="251.43" r="1.5"/><circle cx="301.76" cy="222.3" r="1.5"/><circle cx="303.03" cy="219.33" r="1.5"/><circle cx="304.3" cy="242.15" r="1.5"/><circle cx="305.56" cy="221.74" r="1.5"/><circle cx="306.83" cy="210.61" r="1.5"/><circle cx="308.09" cy="213.02" r="1.5"/><circle cx="309.36" cy="218.96" r="1.5"/><circle cx="310.63" cy="213.02" r="1.5"/><circle cx="311.89" cy="216.18" r="1.5"/><circle cx="313.16" cy="213.77" r="1.5"/><circle cx="314.42" cy="209.31" r="1.5"/><circle cx="315.69" cy="210.06" r="1.5"/><circle cx="316.96" cy="207.46" r="1.5"/><circle cx="318.22" cy="218.03" r="1.5"/><circle cx="319.49" cy="223.6" r="1.5"/><circle cx="320.75" cy="218.96" r="1.5"/><circle cx="322.02" cy="211.91" r="1.5"/><circle cx="323.29" cy="219.33" r="1.5"/><circle cx="324.55" cy="216.73" r="1.5"/><circle cx="325.82" cy="225.45" r="1.5"/><circle cx="327.08" cy="208.76" r="1.5"/><circle cx="328.35" cy="207.83" r="1.5"/><circle cx="329.62" cy="227.87" r="1.5"/><circle cx="330.88" cy="205.97" r="1.5"/><circle cx="332.15" cy="207.83" r="1.5"/><circle cx="333.41" cy="212.47" r="1.5"/><circle cx="334.68" cy="214.32" r="1.5"/><circle cx="335.95" cy="215.25" r="1.5"/><circle cx="337.21" cy="212.47" r="1.5"/><circle cx="338.48" cy="213.02" r="1.5"/><circle cx="339.74" cy="227.87" r="1.5"/><circle cx="341.01" cy="224.9" r="1.5"/><circle cx="342.28" cy="216.73" r="1.5"/><circle cx="343.54" cy="211.17" r="1.5"/><circle cx="344.81" cy="227.87" r="1.5"/><circle cx="346.07" cy="218.03" r="1.5"/><circle cx="347.34" cy="217.66" r="1.5"/><circle cx="348.61" cy="205.05" r="1.5"/><circle cx="349.87" cy="207.46" r="1.5"/><circle cx="351.14" cy="207.83" r="1.5"/><circle cx="352.4" cy="203.75" r="1.5"/><circle cx="353.67" cy="223.97" r="1.5"/><circle cx="354.94" cy="221.19" r="1.5"/><circle cx="356.2" cy="227.87" r="1.5"/><circle cx="357.47" cy="224.16" r="1.5"/><circle cx="358.73" cy="218.59" r="1.5"/><circle cx="360" cy="213.02" r="1.5"/><circle cx="361.27" cy="224.9" r="1.5"/><circle cx="362.53" cy="210.61" r="1.5"/><circle cx="363.8" cy="216.18" r="1.5"/><circle cx="365.06" cy="214.32" r="1.5"/><circle cx="366.33" cy="210.06" r="1.5"/><circle cx="367.6" cy="221.19" r="1.5"/><circle cx="368.86" cy="224.16" r="1.5"/><circle cx="370.13" cy="226.01" r="1.5"/><circle cx="371.39" cy="223.04" r="1.5"/><circle cx="372.66" cy="229.72" r="1.5"/><circle cx="373.93" cy="211.91" r="1.5"/><circle cx="375.19" cy="209.13" r="1.5"/><circle cx="376.46" cy="215.25" r="1.5"/><circle cx="377.72" cy="218.03" r="1.5"/><circle cx="378.99" cy="239" r="1.5"/><circle cx="380.26" cy="237.14" r="1.5"/><circle cx="381.52" cy="217.11" r="1.5"/><circle cx="382.79" cy="209.31" r="1.5"/><circle cx="384.05" cy="204.49" r="1.5"/><circle cx="385.32" cy="212.47" r="1.5"/><circle cx="386.59" cy="200.41" r="1.5"/><circle cx="387.85" cy="212.47" r="1.5"/><circle cx="389.12" cy="213.02" r="1.5"/><circle cx="390.38" cy="226.38" r="1.5"/><circle cx="391.65" cy="217.11" r="1.5"/><circle cx="392.92" cy="213.02" r="1.5"/><circle cx="394.18" cy="222.3" r="1.5"/><circle cx="395.45" cy="209.31" r="1.5"/><circle cx="396.71" cy="206.9" r="1.5"/><circle cx="397.98" cy="211.91" r="1.5"/><circle cx="399.25" cy="210.61" r="1.5"/><circle cx="400.51" cy="198.55" r="1.5"/><circle cx="401.78" cy="210.06" r="1.5"/><circle cx="403.04" cy="243.08" r="1.5"/><circle cx="404.31" cy="224.53" r="1.5"/><circle cx="405.58" cy="209.68" r="1.5"/><circle cx="406.84" cy="216.18" r="1.5"/><circle cx="408.11" cy="224.16" r="1.5"/><circle cx="409.37" cy="218.03" r="1.5"/><circle cx="410.64" cy="219.89" r="1.5"/><circle cx="411.91" cy="214.32" r="1.5"/><circle cx="413.17" cy="221.19" r="1.5"/><circle cx="414.44" cy="207.83" r="1.5"/><circle cx="415.7" cy="202.63" r="1.5"/><circle cx="416.97" cy="224.16" r="1.5"/><circle cx="418.24" cy="202.63" r="1.5"/><circle cx="419.5" cy="213.77" r="1.5"/><circle cx="420.77" cy="221.19" r="1.5"/><circle cx="422.03" cy="290.39" r="1.5"/><circle cx="423.3" cy="228.24" r="1.5"/><circle cx="424.57" cy="203.19" r="1.5"/><circle cx="425.83" cy="208.2" r="1.5"/><circle cx="427.1" cy="215.62" r="1.5"/><circle cx="428.36" cy="230.09" r="1.5"/><circle cx="429.63" cy="228.61" r="1.5"/><circle cx="430.9" cy="217.48" r="1.5"/><circle cx="432.16" cy="206.9" r="1.5"/><circle cx="433.43" cy="216.18" r="1.5"/><circle cx="434.69" cy="216.73" r="1.5"/><circle cx="435.96" cy="207.83" r="1.5"/><circle cx="437.23" cy="210.61" r="1.5"/><circle cx="438.49" cy="213.4" r="1.5"/><circle cx="439.76" cy="216.18" r="1.5"/><circle cx="441.02" cy="207.46" r="1.5"/><circle cx="442.29" cy="211.17" r="1.5"/><circle cx="443.56" cy="205.6" r="1.5"/><circle cx="444.82" cy="214.32" r="1.5"/><circle cx="446.09" cy="206.9" r="1.5"/><circle cx="447.35" cy="205.97" r="1.5"/><circle cx="448.62" cy="227.31" r="1.5"/><circle cx="449.89" cy="235.29" r="1.5"/><circle cx="451.15" cy="231.02" r="1.5"/><circle cx="452.42" cy="211.17" r="1.5"/><circle cx="453.68" cy="211.54" r="1.5"/><circle cx="454.95" cy="211.54" r="1.5"/><circle cx="456.22" cy="235.29" r="1.5"/><circle cx="457.48" cy="269.98" r="1.5"/><circle cx="458.75" cy="212.47" r="1.5"/><circle cx="460.01" cy="214.32" r="1.5"/><circle cx="461.28" cy="214.32" r="1.5"/><circle cx="462.55" cy="205.6" r="1.5"/><circle cx="463.81" cy="229.72" r="1.5"/><circle cx="465.08" cy="215.25" r="1.5"/><circle cx="466.34" cy="208.76" r="1.5"/><circle cx="467.61" cy="211.91" r="1.5"/><circle cx="468.88" cy="220.82" r="1.5"/><circle cx="470.14" cy="229.72" r="1.5"/><circle cx="471.41" cy="221.19" r="1.5"/><circle cx="472.67" cy="216.73" r="1.5"/><circle cx="473.94" cy="214.32" r="1.5"/><circle cx="475.21" cy="205.05" r="1.5"/><circle cx="476.47" cy="213.4" r="1.5"/><circle cx="477.74" cy="215.25" r="1.5"/><circle cx="479" cy="224.53" r="1.5"/><circle cx="480.27" cy="210.61" r="1.5"/><circle cx="481.54" cy="234.73" r="1.5"/><circle cx="482.8" cy="227.31" r="1.5"/><circle cx="484.07" cy="209.68" r="1.5"/><circle cx="485.33" cy="202.26" r="1.5"/><circle cx="486.6" cy="219.33" r="1.5"/><circle cx="487.87" cy="202.26" r="1.5"/><circle cx="489.13" cy="227.87" r="1.5"/><circle cx="490.4" cy="213.4" r="1.5"/><circle cx="491.66" cy="210.61" r="1.5"/><circle cx="492.93" cy="230.09" r="1.5"/><circle cx="494.2" cy="215.25" r="1.5"/><circle cx="495.46" cy="206.9" r="1.5"/><circle cx="496.73" cy="223.6" r="1.5"/><circle cx="497.99" cy="209.68" r="1.5"/><circle cx="499.26" cy="207.83" r="1.5"/><circle cx="500.53" cy="220.82" r="1.5"/><circle cx="501.79" cy="221.74" r="1.5"/><circle cx="503.06" cy="226.01" r="1.5"/><circle cx="504.32" cy="208.76" r="1.5"/><circle cx="505.59" cy="207.83" r="1.5"/><circle cx="506.86" cy="244.01" r="1.5"/><circle cx="508.12" cy="250.13" r="1.5"/><circle cx="509.39" cy="206.9" r="1.5"/><circle cx="510.65" cy="204.12" r="1.5"/><circle cx="511.92" cy="241.22" r="1.5"/><circle cx="513.19" cy="208.76" r="1.5"/><circle cx="514.45" cy="208.2" r="1.5"/><circle cx="515.72" cy="213.4" r="1.5"/><circle cx="516.98" cy="220.45" r="1.5"/><circle cx="518.25" cy="230.09" r="1.5"/><circle cx="519.52" cy="210.61" r="1.5"/><circle cx="520.78" cy="211.91" r="1.5"/><circle cx="522.05" cy="211.17" r="1.5"/><circle cx="523.31" cy="233.43" r="1.5"/><circle cx="524.58" cy="221.74" r="1.5"/><circle cx="525.85" cy="207.46" r="1.5"/><circle cx="527.11" cy="229.17" r="1.5"/><circle cx="528.38" cy="214.32" r="1.5"/><circle cx="529.64" cy="207.46" r="1.5"/><circle cx="530.91" cy="206.9" r="1.5"/><circle cx="532.18" cy="222.3" r="1.5"/><circle cx="533.44" cy="218.59" r="1.5"/><circle cx="534.71" cy="212.47" r="1.5"/><circle cx="535.97" cy="225.45" r="1.5"/><circle cx="537.24" cy="208.76" r="1.5"/><circle cx="538.51" cy="207.46" r="1.5"/><circle cx="539.77" cy="213.77" r="1.5"/><circle cx="541.04" cy="217.11" r="1.5"/><circle cx="542.3" cy="210.61" r="1.5"/><circle cx="543.57" cy="227.87" r="1.5"/><circle cx="544.84" cy="212.47" r="1.5"/><circle cx="546.1" cy="219.33" r="1.5"/><circle cx="547.37" cy="220.45" r="1.5"/><circle cx="548.63" cy="219.33" r="1.5"/><circle cx="549.9" cy="230.63" r="1.5"/><circle cx="551.17" cy="227.25" r="1.5"/><circle cx="552.43" cy="217.72" r="1.5"/><circle cx="553.7" cy="211.37" r="1.5"/><circle cx="554.96" cy="214.74" r="1.5"/><circle cx="556.23" cy="217.72" r="1.5"/><circle cx="557.5" cy="214.74" r="1.5"/><circle cx="558.76" cy="212.76" r="1.5"/><circle cx="560.03" cy="210.18" r="1.5"/><circle cx="561.29" cy="230.63" r="1.5"/><circle cx="562.56" cy="256.43" r="1.5"/><circle cx="563.83" cy="230.63" r="1.5"/><circle cx="565.09" cy="278.67" r="1.5"/><circle cx="566.36" cy="206.8" r="1.5"/><circle cx="567.62" cy="211.76" r="1.5"/><circle cx="568.89" cy="209.78" r="1.5"/><circle cx="570.16" cy="214.74" r="1.5"/><circle cx="571.42" cy="209.78" r="1.5"/><circle cx="572.69" cy="211.76" r="1.5"/><circle cx="573.95" cy="216.13" r="1.5"/><circle cx="575.22" cy="212.76" r="1.5"/><circle cx="576.49" cy="266.36" r="1.5"/><circle cx="577.75" cy="204.82" r="1.5"/><circle cx="579.02" cy="212.16" r="1.5"/><circle cx="580.28" cy="241.15" r="1.5"/><circle cx="581.55" cy="226.65" r="1.5"/><circle cx="582.82" cy="261" r="1.5"/><circle cx="584.08" cy="235.99" r="1.5"/><circle cx="585.35" cy="249.09" r="1.5"/><circle cx="586.61" cy="214.15" r="1.5"/><circle cx="587.88" cy="209.38" r="1.5"/><circle cx="589.15" cy="204.22" r="1.5"/><circle cx="590.41" cy="216.73" r="1.5"/><circle cx="591.68" cy="210.18" r="1.5"/><circle cx="592.94" cy="206.8" r="1.5"/><circle cx="594.21" cy="205.81" r="1.5"/><circle cx="595.48" cy="251.07" r="1.5"/><circle cx="596.74" cy="206.8" r="1.5"/><circle cx="598.01" cy="213.75" r="1.5"/><circle cx="599.27" cy="218.12" r="1.5"/><circle cx="600.54" cy="208.19" r="1.5"/><circle cx="601.81" cy="239.96" r="1.5"/><circle cx="603.07" cy="231.22" r="1.5"/><circle cx="604.34" cy="211.37" r="1.5"/><circle cx="605.6" cy="235.99" r="1.5"/><circle cx="606.87" cy="205.81" r="1.5"/><circle cx="608.14" cy="231.22" r="1.5"/><circle cx="609.4" cy="209.38" r="1.5"/><circle cx="610.67" cy="212.76" r="1.5"/><circle cx="611.93" cy="216.73" r="1.5"/><circle cx="613.2" cy="216.13" r="1.5"/><circle cx="614.47" cy="209.38" r="1.5"/><circle cx="615.73" cy="209.38" r="1.5"/><circle cx="617" cy="257.43" r="1.5"/><circle cx="618.26" cy="224.67" r="1.5"/><circle cx="619.53" cy="231.22" r="1.5"/><circle cx="620.8" cy="212.76" r="1.5"/><circle cx="622.06" cy="203.43" r="1.5"/><circle cx="623.33" cy="218.12" r="1.5"/><circle cx="624.59" cy="204.82" r="1.5"/><circle cx="625.86" cy="213.35" r="1.5"/><circle cx="627.13" cy="244.52" r="1.5"/><circle cx="628.39" cy="218.12" r="1.5"/><circle cx="629.66" cy="207.79" r="1.5"/><circle cx="630.92" cy="211.37" r="1.5"/><circle cx="632.19" cy="229.24" r="1.5"/><circle cx="633.46" cy="222.68" r="1.5"/><circle cx="634.72" cy="208.79" r="1.5"/><circle cx="635.99" cy="208.79" r="1.5"/><circle cx="637.25" cy="207.79" r="1.5"/><circle cx="638.52" cy="212.16" r="1.5"/><circle cx="639.79" cy="204.82" r="1.5"/><circle cx="641.05" cy="245.12" r="1.5"/><circle cx="642.32" cy="205.81" r="1.5"/><circle cx="643.58" cy="226.06" r="1.5"/><circle cx="644.85" cy="223.28" r="1.5"/><circle cx="646.12" cy="215.34" r="1.5"/><circle cx="647.38" cy="234" r="1.5"/><circle cx="648.65" cy="209.38" r="1.5"/><circle cx="649.91" cy="210.77" r="1.5"/><circle cx="651.18" cy="219.71" r="1.5"/><circle cx="652.45" cy="217.72" r="1.5"/><circle cx="653.71" cy="216.13" r="1.5"/><circle cx="654.98" cy="214.74" r="1.5"/><circle cx="656.24" cy="241.15" r="1.5"/><circle cx="657.51" cy="206.21" r="1.5"/><circle cx="658.78" cy="256.43" r="1.5"/><circle cx="660.04" cy="208.19" r="1.5"/><circle cx="661.31" cy="221.69" r="1.5"/><circle cx="662.57" cy="215.34" r="1.5"/><circle cx="663.84" cy="211.76" r="1.5"/><circle cx="665.11" cy="222.09" r="1.5"/><circle cx="666.37" cy="218.12" r="1.5"/><circle cx="667.64" cy="222.09" r="1.5"/><circle cx="668.9" cy="206.21" r="1.5"/><circle cx="670.17" cy="226.06" r="1.5"/><circle cx="671.44" cy="206.8" r="1.5"/><circle cx="672.7" cy="212.16" r="1.5"/><circle cx="673.97" cy="214.74" r="1.5"/><circle cx="675.23" cy="209.38" r="1.5"/><circle cx="676.5" cy="230.63" r="1.5"/></g>
<polyline points="44.77,202 106.8,202 108.07,202.7 170.1,202.7 171.37,204.3 233.4,204.3 234.67,202.3 296.7,202.3 297.97,203.7 360,203.7 361.27,202.8 423.3,202.8 424.57,203.6 486.6,203.6 487.87,203.6 549.9,203.6 551.17,202 613.2,202 614.47,206.2 676.5,206.2" fill="none" stroke="#ff5050" stroke-width="1.6" stroke-dasharray="4.4 2.4"/>
<polyline points="44.77,475.19 46.03,465.91 47.3,463.13 48.56,456.63 49.83,476.11 51.1,472.4 52.36,473.33 53.63,473.33 54.89,462.2 56.16,453.29 57.43,462.2 58.69,453.29 59.96,449.77 61.22,471.47 62.49,482.24 63.76,472.4 65.02,477.97 66.29,463.13 67.55,476.11 68.82,462.2 70.09,476.11 71.35,463.13 72.62,460.71 73.88,452.55 75.15,476.11 76.42,482.24 77.68,491.88 78.95,488.54 80.21,492.81 81.48,488.54 82.75,491.51 84.01,463.68 85.28,469.62 86.54,450.7 87.81,445.87 89.08,451.99 90.34,476.11 91.61,482.24 92.87,465.54 94.14,454.41 95.41,469.25 96.67,471.47 97.94,493.18 99.2,484.46 100.47,480.75 101.74,483.53 103,480.75 104.27,501.53 105.53,503.94 106.8,497.45 108.07,488.54 109.33,492.81 110.6,489.1 111.86,485.39 113.13,462.2 114.4,469.62 115.66,460.71 116.93,482.98 118.19,476.67 119.46,489.1 120.73,487.24 121.99,481.68 123.26,488.54 124.52,486.32 125.79,473.33 127.06,458.49 128.32,472.96 129.59,471.47 130.85,463.68 132.12,462.57 133.39,461.27 134.65,477.04 135.92,478.9 137.18,478.53 138.45,463.68 139.72,471.47 140.98,471.1 142.25,472.96 143.51,476.67 144.78,489.1 146.05,495.22 147.31,477.97 148.58,490.96 149.84,478.53 151.11,479.82 152.38,481.68 153.64,479.82 154.91,483.53 156.17,485.39 157.44,487.24 158.71,472.4 159.97,457 161.24,465.54 162.5,474.26 163.77,465.54 165.04,465.54 166.3,475.19 167.57,477.97 168.83,466.84 170.1,469.62 171.37,461.27 172.63,468.69 173.9,479.82 175.16,487.24 176.43,479.27 177.7,489.1 178.96,479.82 180.23,498.93 181.49,489.1 182.76,501.53 184.03,491.51 185.29,471.85 186.56,463.13 187.82,461.27 189.09,465.54 190.36,466.84 191.62,481.68 192.89,462.57 194.15,456.63 195.42,469.25 196.69,463.68 197.95,464.98 199.22,466.84 200.48,463.13 201.75,465.54 203.02,470.55 204.28,461.83 205.55,470.55 206.81,468.69 208.08,474.81 209.35,485.39 210.61,472.4 211.88,475.19 213.14,471.47 214.41,461.83 215.68,456.63 216.94,453.85 218.21,477.97 219.47,478.9 220.74,486.87 222.01,468.14 223.27,479.27 224.54,478.9 225.8,490.03 227.07,485.39 228.34,475.74 229.6,470.55 230.87,460.71 232.13,462.57 233.4,465.54 234.67,474.26 235.93,460.71 237.2,456.63 238.46,451.44 239.73,472.4 241,475.19 242.26,494.67 243.53,471.47 244.79,481.68 246.06,469.62 247.33,467.39 248.59,479.27 249.86,482.98 251.12,480.75 252.39,468.69 253.66,458.49 254.92,447.73 256.19,452.55 257.45,472.96 258.72,468.69 259.99,468.69 261.25,468.69 262.52,474.26 263.78,458.49 265.05,445.87 266.32,449.21 267.58,465.54 268.85,482.24 270.11,500.79 271.38,485.39 272.65,496.52 273.91,497.82 275.18,490.03 276.44,476.67 277.71,486.32 278.98,476.11 280.24,483.53 281.51,478.53 282.77,491.51 284.04,474.26 285.31,454.78 286.57,466.28 287.84,472.4 289.1,480.38 290.37,489.66 291.64,492.25 292.9,485.95 294.17,482.61 295.43,493.74 296.7,481.68 297.97,484.46 299.23,482.61 300.5,493.74 301.76,482.61 303.03,480.38 304.3,467.76 305.56,461.83 306.83,472.4 308.09,487.24 309.36,503.39 310.63,494.67 311.89,482.61 313.16,477.04 314.42,482.61 315.69,469.62 316.96,474.81 318.22,472.96 319.49,466.28 320.75,468.69 322.02,474.26 323.29,480.75 324.55,466.84 325.82,481.12 327.08,475.19 328.35,460.34 329.62,450.14 330.88,472.96 332.15,469.62 333.41,470.55 334.68,471.47 335.95,484.09 337.21,492.81 338.48,497.45 339.74,487.8 341.01,493.37 342.28,469.99 343.54,466.84 344.81,471.1 346.07,479.82 347.34,482.24 348.61,476.11 349.87,475.19 351.14,467.76 352.4,464.05 353.67,454.78 354.94,469.25 356.2,472.96 357.47,499.3 358.73,497.08 360,489.1 361.27,463.68 362.53,482.98 363.8,470.55 365.06,496.52 366.33,491.88 367.6,485.95 368.86,501.16 370.13,485.39 371.39,491.51 372.66,455.15 373.93,451.99 375.19,455.15 376.46,452.92 377.72,469.99 378.99,467.39 380.26,468.69 381.52,469.62 382.79,480.75 384.05,479.82 385.32,482.24 386.59,465.54 387.85,482.98 389.12,480.75 390.38,502.64 391.65,494.67 392.92,471.1 394.18,464.05 395.45,473.33 396.71,483.53 397.98,485.39 399.25,455.71 400.51,460.34 401.78,476.11 403.04,478.53 404.31,477.04 405.58,487.24 406.84,482.61 408.11,482.24 409.37,476.11 410.64,479.82 411.91,484.46 413.17,479.82 414.44,459.42 415.7,450.7 416.97,469.25 418.24,465.91 419.5,453.29 420.77,472.96 422.03,469.99 423.3,485.39 424.57,404.68 425.83,406.54 427.1,391.33 428.36,385.76 429.63,396.34 430.9,392.63 432.16,406.17 433.43,417.67 434.69,427.32 435.96,401.9 437.23,408.4 438.49,413.03 439.76,422.31 441.02,425.09 442.29,427.32 443.56,417.67 444.82,411.73 446.09,417.3 447.35,396.89 448.62,390.21 449.89,388.36 451.15,396.89 452.42,411.73 453.68,424.17 454.95,398.19 456.22,399.12 457.48,405.61 458.75,409.32 460.01,415.45 461.28,419.9 462.55,407.47 463.81,406.54 465.08,389.47 466.34,403.2 467.61,398.75 468.88,390.77 470.14,394.48 471.41,393.55 472.67,401.53 473.94,402.46 475.21,413.96 476.47,423.61 477.74,398.19 479,405.61 480.27,401.9 481.54,404.68 482.8,409.32 484.07,421.01 485.33,415.45 486.6,419.53 487.87,408.4 489.13,414.89 490.4,420.45 491.66,421.38 492.93,422.31 494.2,422.31 495.46,401.9 496.73,390.77 497.99,404.31 499.26,399.12 500.53,387.99 501.79,397.63 503.06,413.59 504.32,427.32 505.59,404.31 506.86,400.6 508.12,403.2 509.39,415.45 510.65,401.9 511.92,411.18 513.19,418.6 514.45,413.03 515.72,397.63 516.98,400.97 518.25,406.54 519.52,395.04 520.78,403.76 522.05,398.75 523.31,401.9 524.58,408.77 525.85,402.46 527.11,397.63 528.38,405.61 529.64,402.83 530.91,413.59 532.18,424.17 533.44,428.43 534.71,411.18 535.97,411.73 537.24,395.41 538.51,407.47 539.77,419.53 541.04,428.43 542.3,408.77 543.57,410.62 544.84,391.33 546.1,398.19 547.37,398.75 548.63,389.84 549.9,395.41 551.17,393.26 552.43,390.49 553.7,401.8 554.96,408.35 556.23,418.28 557.5,421.65 558.76,422.25 560.03,393.86 561.29,384.93 562.56,390.88 563.83,403.19 565.09,413.71 566.36,410.74 567.62,417.68 568.89,423.64 570.16,428.21 571.42,422.25 572.69,408.35 573.95,391.88 575.22,400.81 576.49,413.71 577.75,414.71 579.02,394.85 580.28,392.87 581.55,389.89 582.82,393.86 584.08,400.41 585.35,408.35 586.61,416.29 587.88,417.68 589.15,422.25 590.41,421.65 591.68,425.03 592.94,405.77 594.21,411.73 595.48,402.79 596.74,411.13 598.01,417.68 599.27,396.44 600.54,392.47 601.81,391.88 603.07,405.77 604.34,409.74 605.6,417.68 606.87,410.34 608.14,414.71 609.4,419.67 610.67,393.86 611.93,400.41 613.2,402.79 614.47,414.71 615.73,392.47 617,398.82 618.26,402.79 619.53,408.35 620.8,415.7 622.06,411.73 623.33,413.71 624.59,408.75 625.86,391.88 627.13,388.5 628.39,402.4 629.66,410.34 630.92,396.44 632.19,397.83 633.46,404.78 634.72,397.83 635.99,406.76 637.25,401.8 638.52,409.74 639.79,403.79 641.05,412.72 642.32,399.82 643.58,397.24 644.85,387.9 646.12,398.43 647.38,411.73 648.65,416.69 649.91,412.72 651.18,414.71 652.45,417.68 653.71,419.67 654.98,421.65 656.24,422.65 657.51,404.38 658.78,410.34 660.04,399.22 661.31,390.49 662.57,400.41 663.84,406.37 665.11,409.74 666.37,413.71 667.64,418.68 668.9,409.74 670.17,412.72 671.44,409.74 672.7,417.68 673.97,425.03 675.23,407.76 676.5,410.74" fill="none" stroke="#0000ff" stroke-width="1" stroke-linejoin="round"/>
<g fill="#00ff00" stroke="#0000ff" stroke-width="1"><circle cx="44.77" cy="475.19" r="1.5"/><circle cx="46.03" cy="465.91" r="1.5"/><circle cx="47.3" cy="463.13" r="1.5"/><circle cx="48.56" cy="456.63" r="1.5"/><circle cx="49.83" cy="476.11" r="1.5"/><circle cx="51.1" cy="472.4" r="1.5"/><circle cx="52.36" cy="473.33" r="1.5"/><circle cx="53.63" cy="473.33" r="1.5"/><circle cx="54.89" cy="462.2" r="1.5"/><circle cx="56.16" cy="453.29" r="1.5"/><circle cx="57.43" cy="462.2" r="1.5"/><circle cx="58.69" cy="453.29" r="1.5"/><circle cx="59.96" cy="449.77" r="1.5"/><circle cx="61.22" cy="471.47" r="1.5"/><circle cx="62.49" cy="482.24" r="1.5"/><circle cx="63.76" cy="472.4" r="1.5"/><circle cx="65.02" cy="477.97" r="1.5"/><circle cx="66.29" cy="463.13" r="1.5"/><circle cx="67.55" cy="476.11" r="1.5"/><circle cx="68.82" cy="462.2" r="1.5"/><circle cx="70.09" cy="476.11" r="1.5"/><circle cx="71.35" cy="463.13" r="1.5"/><circle cx="72.62" cy="460.71" r="1.5"/><circle cx="73.88" cy="452.55" r="1.5"/><circle cx="75.15" cy="476.11" r="1.5"/><circle cx="76.42" cy="482.24" r="1.5"/><circle cx="77.68" cy="491.88" r="1.5"/><circle cx="78.95" cy="488.54" r="1.5"/><circle cx="80.21" cy="492.81" r="1.5"/><circle cx="81.48" cy="488.54" r="1.5"/><circle cx="82.75" cy="491.51" r="1.5"/><circle cx="84.01" cy="463.68" r="1.5"/><circle cx="85.28" cy="469.62" r="1.5"/><circle cx="86.54" cy="450.7" r="1.5"/><circle cx="87.81" cy="445.87" r="1.5"/><circle cx="89.08" cy="451.99" r="1.5"/><circle cx="90.34" cy="476.11" r="1.5"/><circle cx="91.61" cy="482.24" r="1.5"/><circle cx="92.87" cy="465.54" r="1.5"/><circle cx="94.14" cy="454.41" r="1.5"/><circle cx="95.41" cy="469.25" r="1.5"/><circle cx="96.67" cy="471.47" r="1.5"/><circle cx="97.94" cy="493.18" r="1.5"/><circle cx="99.2" cy="484.46" r="1.5"/><circle cx="100.47" cy="480.75" r="1.5"/><circle cx="101.74" cy="483.53" r="1.5"/><circle cx="103" cy="480.75" r="1.5"/><circle cx="104.27" cy="501.53" r="1.5"/><circle cx="105.53" cy="503.94" r="1.5"/><circle cx="106.8" cy="497.45" r="1.5"/><circle cx="108.07" cy="488.54" r="1.5"/><circle cx="109.33" cy="492.81" r="1.5"/><circle cx="110.6" cy="489.1" r="1.5"/><circle cx="111.86" cy="485.39" r="1.5"/><circle cx="113.13" cy="462.2" r="1.5"/><circle cx="114.4" cy="469.62" r="1.5"/><circle cx="115.66" cy="460.71" r="1.5"/><circle cx="116.93" cy="482.98" r="1.5"/><circle cx="118.19" cy="476.67" r="1.5"/><circle cx="119.46" cy="489.1" r="1.5"/><circle cx="120.73" cy="487.24" r="1.5"/><circle cx="121.99" cy="481.68" r="1.5"/><circle cx="123.26" cy="488.54" r="1.5"/><circle cx="124.52" cy="486.32" r="1.5"/><circle cx="125.79" cy="473.33" r="1.5"/><circle cx="127.06" cy="458.49" r="1.5"/><circle cx="128.32" cy="472.96" r="1.5"/><circle cx="129.59" cy="471.47" r="1.5"/><circle cx="130.85" cy="463.68" r="1.5"/><circle cx="132.12" cy="462.57" r="1.5"/><circle cx="133.39" cy="461.27" r="1.5"/><circle cx="134.65" cy="477.04" r="1.5"/><circle cx="135.92" cy="478.9" r="1.5"/><circle cx="137.18" cy="478.53" r="1.5"/><circle cx="138.45" cy="463.68" r="1.5"/><circle cx="139.72" cy="471.47" r="1.5"/><circle cx="140.98" cy="471.1" r="1.5"/><circle cx="142.25" cy="472.96" r="1.5"/><circle cx="143.51" cy="476.67" r="1.5"/><circle cx="144.78" cy="489.1" r="1.5"/><circle cx="146.05" cy="495.22" r="1.5"/><circle cx="147.31" cy="477.97" r="1.5"/><circle cx="148.58" cy="490.96" r="1.5"/><circle cx="149.84" cy="478.53" r="1.5"/><circle cx="151.11" cy="479.82" r="1.5"/><circle cx="152.38" cy="481.68" r="1.5"/><circle cx="153.64" cy="479.82" r="1.5"/><circle cx="154.91" cy="483.53" r="1.5"/><circle cx="156.17" cy="485.39" r="1.5"/><circle cx="157.44" cy="487.24" r="1.5"/><circle cx="158.71" cy="472.4" r="1.5"/><circle cx="159.97" cy="457" r="1.5"/><circle cx="161.24" cy="465.54" r="1.5"/><circle cx="162.5" cy="474.26" r="1.5"/><circle cx="163.77" cy="465.54" r="1.5"/><circle cx="165.04" cy="465.54" r="1.5"/><circle cx="166.3" cy="475.19" r="1.5"/><circle cx="167.57" cy="477.97" r="1.5"/><circle cx="168.83" cy="466.84" r="1.5"/><circle cx="170.1" cy="469.62" r="1.5"/><circle cx="171.37" cy="461.27" r="1.5"/><circle cx="172.63" cy="468.69" r="1.5"/><circle cx="173.9" cy="479.82" r="1.5"/><circle cx="175.16" cy="487.24" r="1.5"/><circle cx="176.43" cy="479.27" r="1.5"/><circle cx="177.7" cy="489.1" r="1.5"/><circle cx="178.96" cy="479.82" r="1.5"/><circle cx="180.23" cy="498.93" r="1.5"/><circle cx="181.49" cy="489.1" r="1.5"/><circle cx="182.76" cy="501.53" r="1.5"/><circle cx="184.03" cy="491.51" r="1.5"/><circle cx="185.29" cy="471.85" r="1.5"/><circle cx="186.56" cy="463.13" r="1.5"/><circle cx="187.82" cy="461.27" r="1.5"/><circle cx="189.09" cy="465.54" r="1.5"/><circle cx="190.36" cy="466.84" r="1.5"/><circle cx="191.62" cy="481.68" r="1.5"/><circle cx="192.89" cy="462.57" r="1.5"/><circle cx="194.15" cy="456.63" r="1.5"/><circle cx="195.42" cy="469.25" r="1.5"/><circle cx="196.69" cy="463.68" r="1.5"/><circle cx="197.95" cy="464.98" r="1.5"/><circle cx="199.22" cy="466.84" r="1.5"/><circle cx="200.48" cy="463.13" r="1.5"/><circle cx="201.75" cy="465.54" r="1.5"/><circle cx="203.02" cy="470.55" r="1.5"/><circle cx="204.28" cy="461.83" r="1.5"/><circle cx="205.55" cy="470.55" r="1.5"/><circle cx="206.81" cy="468.69" r="1.5"/><circle cx="208.08" cy="474.81" r="1.5"/><circle cx="209.35" cy="485.39" r="1.5"/><circle cx="210.61" cy="472.4" r="1.5"/><circle cx="211.88" cy="475.19" r="1.5"/><circle cx="213.14" cy="471.47" r="1.5"/><circle cx="214.41" cy="461.83" r="1.5"/><circle cx="215.68" cy="456.63" r="1.5"/><circle cx="216.94" cy="453.85" r="1.5"/><circle cx="218.21" cy="477.97" r="1.5"/><circle cx="219.47" cy="478.9" r="1.5"/><circle cx="220.74" cy="486.87" r="1.5"/><circle cx="222.01" cy="468.14" r="1.5"/><circle cx="223.27" cy="479.27" r="1.5"/><circle cx="224.54" cy="478.9" r="1.5"/><circle cx="225.8" cy="490.03" r="1.5"/><circle cx="227.07" cy="485.39" r="1.5"/><circle cx="228.34" cy="475.74" r="1.5"/><circle cx="229.6" cy="470.55" r="1.5"/><circle cx="230.87" cy="460.71" r="1.5"/><circle cx="232.13" cy="462.57" r="1.5"/><circle cx="233.4" cy="465.54" r="1.5"/><circle cx="234.67" cy="474.26" r="1.5"/><circle cx="235.93" cy="460.71" r="1.5"/><circle cx="237.2" cy="456.63" r="1.5"/><circle cx="238.46" cy="451.44" r="1.5"/><circle cx="239.73" cy="472.4" r="1.5"/><circle cx="241" cy="475.19" r="1.5"/><circle cx="242.26" cy="494.67" r="1.5"/><circle cx="243.53" cy="471.47" r="1.5"/><circle cx="244.79" cy="481.68" r="1.5"/><circle cx="246.06" cy="469.62" r="1.5"/><circle cx="247.33" cy="467.39" r="1.5"/><circle cx="248.59" cy="479.27" r="1.5"/><circle cx="249.86" cy="482.98" r="1.5"/><circle cx="251.12" cy="480.75" r="1.5"/><circle cx="252.39" cy="468.69" r="1.5"/><circle cx="253.66" cy="458.49" r="1.5"/><circle cx="254.92" cy="447.73" r="1.5"/><circle cx="256.19" cy="452.55" r="1.5"/><circle cx="257.45" cy="472.96" r="1.5"/><circle cx="258.72" cy="468.69" r="1.5"/><circle cx="259.99" cy="468.69" r="1.5"/><circle cx="261.25" cy="468.69" r="1.5"/><circle cx="262.52" cy="474.26" r="1.5"/><circle cx="263.78" cy="458.49" r="1.5"/><circle cx="265.05" cy="445.87" r="1.5"/><circle cx="266.32" cy="449.21" r="1.5"/><circle cx="267.58" cy="465.54" r="1.5"/><circle cx="268.85" cy="482.24" r="1.5"/><circle cx="270.11" cy="500.79" r="1.5"/><circle cx="271.38" cy="485.39" r="1.5"/><circle cx="272.65" cy="496.52" r="1.5"/><circle cx="273.91" cy="497.82" r="1.5"/><circle cx="275.18" cy="490.03" r="1.5"/><circle cx="276.44" cy="476.67" r="1.5"/><circle cx="277.71" cy="486.32" r="1.5"/><circle cx="278.98" cy="476.11" r="1.5"/><circle cx="280.24" cy="483.53" r="1.5"/><circle cx="281.51" cy="478.53" r="1.5"/><circle cx="282.77" cy="491.51" r="1.5"/><circle cx="284.04" cy="474.26" r="1.5"/><circle cx="285.31" cy="454.78" r="1.5"/><circle cx="286.57" cy="466.28" r="1.5"/><circle cx="287.84" cy="472.4" r="1.5"/><circle cx="289.1" cy="480.38" r="1.5"/><circle cx="290.37" cy="489.66" r="1.5"/><circle cx="291.64" cy="492.25" r="1.5"/><circle cx="292.9" cy="485.95" r="1.5"/><circle cx="294.17" cy="482.61" r="1.5"/><circle cx="295.43" cy="493.74" r="1.5"/><circle cx="296.7" cy="481.68" r="1.5"/><circle cx="297.97" cy="484.46" r="1.5"/><circle cx="299.23" cy="482.61" r="1.5"/><circle cx="300.5" cy="493.74" r="1.5"/><circle cx="301.76" cy="482.61" r="1.5"/><circle cx="303.03" cy="480.38" r="1.5"/><circle cx="304.3" cy="467.76" r="1.5"/><circle cx="305.56" cy="461.83" r="1.5"/><circle cx="306.83" cy="472.4" r="1.5"/><circle cx="308.09" cy="487.24" r="1.5"/><circle cx="309.36" cy="503.39" r="1.5"/><circle cx="310.63" cy="494.67" r="1.5"/><circle cx="311.89" cy="482.61" r="1.5"/><circle cx="313.16" cy="477.04" r="1.5"/><circle cx="314.42" cy="482.61" r="1.5"/><circle cx="315.69" cy="469.62" r="1.5"/><circle cx="316.96" cy="474.81" r="1.5"/><circle cx="318.22" cy="472.96" r="1.5"/><circle cx="319.49" cy="466.28" r="1.5"/><circle cx="320.75" cy="468.69" r="1.5"/><circle cx="322.02" cy="474.26" r="1.5"/><circle cx="323.29" cy="480.75" r="1.5"/><circle cx="324.55" cy="466.84" r="1.5"/><circle cx="325.82" cy="481.12" r="1.5"/><circle cx="327.08" cy="475.19" r="1.5"/><circle cx="328.35" cy="460.34" r="1.5"/><circle cx="329.62" cy="450.14" r="1.5"/><circle cx="330.88" cy="472.96" r="1.5"/><circle cx="332.15" cy="469.62" r="1.5"/><circle cx="333.41" cy="470.55" r="1.5"/><circle cx="334.68" cy="471.47" r="1.5"/><circle cx="335.95" cy="484.09" r="1.5"/><circle cx="337.21" cy="492.81" r="1.5"/><circle cx="338.48" cy="497.45" r="1.5"/><circle cx="339.74" cy="487.8" r="1.5"/><circle cx="341.01" cy="493.37" r="1.5"/><circle cx="342.28" cy="469.99" r="1.5"/><circle cx="343.54" cy="466.84" r="1.5"/><circle cx="344.81" cy="471.1" r="1.5"/><circle cx="346.07" cy="479.82" r="1.5"/><circle cx="347.34" cy="482.24" r="1.5"/><circle cx="348.61" cy="476.11" r="1.5"/><circle cx="349.87" cy="475.19" r="1.5"/><circle cx="351.14" cy="467.76" r="1.5"/><circle cx="352.4" cy="464.05" r="1.5"/><circle cx="353.67" cy="454.78" r="1.5"/><circle cx="354.94" cy="469.25" r="1.5"/><circle cx="356.2" cy="472.96" r="1.5"/><circle cx="357.47" cy="499.3" r="1.5"/><circle cx="358.73" cy="497.08" r="1.5"/><circle cx="360" cy="489.1" r="1.5"/><circle cx="361.27" cy="463.68" r="1.5"/><circle cx="362.53" cy="482.98" r="1.5"/><circle cx="363.8" cy="470.55" r="1.5"/><circle cx="365.06" cy="496.52" r="1.5"/><circle cx="366.33" cy="491.88" r="1.5"/><circle cx="367.6" cy="485.95" r="1.5"/><circle cx="368.86" cy="501.16" r="1.5"/><circle cx="370.13" cy="485.39" r="1.5"/><circle cx="371.39" cy="491.51" r="1.5"/><circle cx="372.66" cy="455.15" r="1.5"/><circle cx="373.93" cy="451.99" r="1.5"/><circle cx="375.19" cy="455.15" r="1.5"/><circle cx="376.46" cy="452.92" r="1.5"/><circle cx="377.72" cy="469.99" r="1.5"/><circle cx="378.99" cy="467.39" r="1.5"/><circle cx="380.26" cy="468.69" r="1.5"/><circle cx="381.52" cy="469.62" r="1.5"/><circle cx="382.79" cy="480.75" r="1.5"/><circle cx="384.05" cy="479.82" r="1.5"/><circle cx="385.32" cy="482.24" r="1.5"/><circle cx="386.59" cy="465.54" r="1.5"/><circle cx="387.85" cy="482.98" r="1.5"/><circle cx="389.12" cy="480.75" r="1.5"/><circle cx="390.38" cy="502.64" r="1.5"/><circle cx="391.65" cy="494.67" r="1.5"/><circle cx="392.92" cy="471.1" r="1.5"/><circle cx="394.18" cy="464.05" r="1.5"/><circle cx="395.45" cy="473.33" r="1.5"/><circle cx="396.71" cy="483.53" r="1.5"/><circle cx="397.98" cy="485.39" r="1.5"/><circle cx="399.25" cy="455.71" r="1.5"/><circle cx="400.51" cy="460.34" r="1.5"/><circle cx="401.78" cy="476.11" r="1.5"/><circle cx="403.04" cy="478.53" r="1.5"/><circle cx="404.31" cy="477.04" r="1.5"/><circle cx="405.58" cy="487.24" r="1.5"/><circle cx="406.84" cy="482.61" r="1.5"/><circle cx="408.11" cy="482.24" r="1.5"/><circle cx="409.37" cy="476.11" r="1.5"/><circle cx="410.64" cy="479.82" r="1.5"/><circle cx="411.91" cy="484.46" r="1.5"/><circle cx="413.17" cy="479.82" r="1.5"/><circle cx="414.44" cy="459.42" r="1.5"/><circle cx="415.7" cy="450.7" r="1.5"/><circle cx="416.97" cy="469.25" r="1.5"/><circle cx="418.24" cy="465.91" r="1.5"/><circle cx="419.5" cy="453.29" r="1.5"/><circle cx="420.77" cy="472.96" r="1.5"/><circle cx="422.03" cy="469.99" r="1.5"/><circle cx="423.3" cy="485.39" r="1.5"/><circle cx="424.57" cy="404.68" r="1.5"/><circle cx="425.83" cy="406.54" r="1.5"/><circle cx="427.1" cy="391.33" r="1.5"/><circle cx="428.36" cy="385.76" r="1.5"/><circle cx="429.63" cy="396.34" r="1.5"/><circle cx="430.9" cy="392.63" r="1.5"/><circle cx="432.16" cy="406.17" r="1.5"/><circle cx="433.43" cy="417.67" r="1.5"/><circle cx="434.69" cy="427.32" r="1.5"/><circle cx="435.96" cy="401.9" r="1.5"/><circle cx="437.23" cy="408.4" r="1.5"/><circle cx="438.49" cy="413.03" r="1.5"/><circle cx="439.76" cy="422.31" r="1.5"/><circle cx="441.02" cy="425.09" r="1.5"/><circle cx="442.29" cy="427.32" r="1.5"/><circle cx="443.56" cy="417.67" r="1.5"/><circle cx="444.82" cy="411.73" r="1.5"/><circle cx="446.09" cy="417.3" r="1.5"/><circle cx="447.35" cy="396.89" r="1.5"/><circle cx="448.62" cy="390.21" r="1.5"/><circle cx="449.89" cy="388.36" r="1.5"/><circle cx="451.15" cy="396.89" r="1.5"/><circle cx="452.42" cy="411.73" r="1.5"/><circle cx="453.68" cy="424.17" r="1.5"/><circle cx="454.95" cy="398.19" r="1.5"/><circle cx="456.22" cy="399.12" r="1.5"/><circle cx="457.48" cy="405.61" r="1.5"/><circle cx="458.75" cy="409.32" r="1.5"/><circle cx="460.01" cy="415.45" r="1.5"/><circle cx="461.28" cy="419.9" r="1.5"/><circle cx="462.55" cy="407.47" r="1.5"/><circle cx="463.81" cy="406.54" r="1.5"/><circle cx="465.08" cy="389.47" r="1.5"/><circle cx="466.34" cy="403.2" r="1.5"/><circle cx="467.61" cy="398.75" r="1.5"/><circle cx="468.88" cy="390.77" r="1.5"/><circle cx="470.14" cy="394.48" r="1.5"/><circle cx="471.41" cy="393.55" r="1.5"/><circle cx="472.67" cy="401.53" r="1.5"/><circle cx="473.94" cy="402.46" r="1.5"/><circle cx="475.21" cy="413.96" r="1.5"/><circle cx="476.47" cy="423.61" r="1.5"/><circle cx="477.74" cy="398.19" r="1.5"/><circle cx="479" cy="405.61" r="1.5"/><circle cx="480.27" cy="401.9" r="1.5"/><circle cx="481.54" cy="404.68" r="1.5"/><circle cx="482.8" cy="409.32" r="1.5"/><circle cx="484.07" cy="421.01" r="1.5"/><circle cx="485.33" cy="415.45" r="1.5"/><circle cx="486.6" cy="419.53" r="1.5"/><circle cx="487.87" cy="408.4" r="1.5"/><circle cx="489.13" cy="414.89" r="1.5"/><circle cx="490.4" cy="420.45" r="1.5"/><circle cx="491.66" cy="421.38" r="1.5"/><circle cx="492.93" cy="422.31" r="1.5"/><circle cx="494.2" cy="422.31" r="1.5"/><circle cx="495.46" cy="401.9" r="1.5"/><circle cx="496.73" cy="390.77" r="1.5"/><circle cx="497.99" cy="404.31" r="1.5"/><circle cx="499.26" cy="399.12" r="1.5"/><circle cx="500.53" cy="387.99" r="1.5"/><circle cx="501.79" cy="397.63" r="1.5"/><circle cx="503.06" cy="413.59" r="1.5"/><circle cx="504.32" cy="427.32" r="1.5"/><circle cx="505.59" cy="404.31" r="1.5"/><circle cx="506.86" cy="400.6" r="1.5"/><circle cx="508.12" cy="403.2" r="1.5"/><circle cx="509.39" cy="415.45" r="1.5"/><circle cx="510.65" cy="401.9" r="1.5"/><circle cx="511.92" cy="411.18" r="1.5"/><circle cx="513.19" cy="418.6" r="1.5"/><circle cx="514.45" cy="413.03" r="1.5"/><circle cx="515.72" cy="397.63" r="1.5"/><circle cx="516.98" cy="400.97" r="1.5"/><circle cx="518.25" cy="406.54" r="1.5"/><circle cx="519.52" cy="395.04" r="1.5"/><circle cx="520.78" cy="403.76" r="1.5"/><circle cx="522.05" cy="398.75" r="1.5"/><circle cx="523.31" cy="401.9" r="1.5"/><circle cx="524.58" cy="408.77" r="1.5"/><circle cx="525.85" cy="402.46" r="1.5"/><circle cx="527.11" cy="397.63" r="1.5"/><circle cx="528.38" cy="405.61" r="1.5"/><circle cx="529.64" cy="402.83" r="1.5"/><circle cx="530.91" cy="413.59" r="1.5"/><circle cx="532.18" cy="424.17" r="1.5"/><circle cx="533.44" cy="428.43" r="1.5"/><circle cx="534.71" cy="411.18" r="1.5"/><circle cx="535.97" cy="411.73" r="1.5"/><circle cx="537.24" cy="395.41" r="1.5"/><circle cx="538.51" cy="407.47" r="1.5"/><circle cx="539.77" cy="419.53" r="1.5"/><circle cx="541.04" cy="428.43" r="1.5"/><circle cx="542.3" cy="408.77" r="1.5"/><circle cx="543.57" cy="410.62" r="1.5"/><circle cx="544.84" cy="391.33" r="1.5"/><circle cx="546.1" cy="398.19" r="1.5"/><circle cx="547.37" cy="398.75" r="1.5"/><circle cx="548.63" cy="389.84" r="1.5"/><circle cx="549.9" cy="395.41" r="1.5"/><circle cx="551.17" cy="393.26" r="1.5"/><circle cx="552.43" cy="390.49" r="1.5"/><circle cx="553.7" cy="401.8" r="1.5"/><circle cx="554.96" cy="408.35" r="1.5"/><circle cx="556.23" cy="418.28" r="1.5"/><circle cx="557.5" cy="421.65" r="1.5"/><circle cx="558.76" cy="422.25" r="1.5"/><circle cx="560.03" cy="393.86" r="1.5"/><circle cx="561.29" cy="384.93" r="1.5"/><circle cx="562.56" cy="390.88" r="1.5"/><circle cx="563.83" cy="403.19" r="1.5"/><circle cx="565.09" cy="413.71" r="1.5"/><circle cx="566.36" cy="410.74" r="1.5"/><circle cx="567.62" cy="417.68" r="1.5"/><circle cx="568.89" cy="423.64" r="1.5"/><circle cx="570.16" cy="428.21" r="1.5"/><circle cx="571.42" cy="422.25" r="1.5"/><circle cx="572.69" cy="408.35" r="1.5"/><circle cx="573.95" cy="391.88" r="1.5"/><circle cx="575.22" cy="400.81" r="1.5"/><circle cx="576.49" cy="413.71" r="1.5"/><circle cx="577.75" cy="414.71" r="1.5"/><circle cx="579.02" cy="394.85" r="1.5"/><circle cx="580.28" cy="392.87" r="1.5"/><circle cx="581.55" cy="389.89" r="1.5"/><circle cx="582.82" cy="393.86" r="1.5"/><circle cx="584.08" cy="400.41" r="1.5"/><circle cx="585.35" cy="408.35" r="1.5"/><circle cx="586.61" cy="416.29" r="1.5"/><circle cx="587.88" cy="417.68" r="1.5"/><circle cx="589.15" cy="422.25" r="1.5"/><circle cx="590.41" cy="421.65" r="1.5"/><circle cx="591.68" cy="425.03" r="1.5"/><circle cx="592.94" cy="405.77" r="1.5"/><circle cx="594.21" cy="411.73" r="1.5"/><circle cx="595.48" cy="402.79" r="1.5"/><circle cx="596.74" cy="411.13" r="1.5"/><circle cx="598.01" cy="417.68" r="1.5"/><circle cx="599.27" cy="396.44" r="1.5"/><circle cx="600.54" cy="392.47" r="1.5"/><circle cx="601.81" cy="391.88" r="1.5"/><circle cx="603.07" cy="405.77" r="1.5"/><circle cx="604.34" cy="409.74" r="1.5"/><circle cx="605.6" cy="417.68" r="1.5"/><circle cx="606.87" cy="410.34" r="1.5"/><circle cx="608.14" cy="414.71" r="1.5"/><circle cx="609.4" cy="419.67" r="1.5"/><circle cx="610.67" cy="393.86" r="1.5"/><circle cx="611.93" cy="400.41" r="1.5"/><circle cx="613.2" cy="402.79" r="1.5"/><circle cx="614.47" cy="414.71" r="1.5"/><circle cx="615.73" cy="392.47" r="1.5"/><circle cx="617" cy="398.82" r="1.5"/><circle cx="618.26" cy="402.79" r="1.5"/><circle cx="619.53" cy="408.35" r="1.5"/><circle cx="620.8" cy="415.7" r="1.5"/><circle cx="622.06" cy="411.73" r="1.5"/><circle cx="623.33" cy="413.71" r="1.5"/><circle cx="624.59" cy="408.75" r="1.5"/><circle cx="625.86" cy="391.88" r="1.5"/><circle cx="627.13" cy="388.5" r="1.5"/><circle cx="628.39" cy="402.4" r="1.5"/><circle cx="629.66" cy="410.34" r="1.5"/><circle cx="630.92" cy="396.44" r="1.5"/><circle cx="632.19" cy="397.83" r="1.5"/><circle cx="633.46" cy="404.78" r="1.5"/><circle cx="634.72" cy="397.83" r="1.5"/><circle cx="635.99" cy="406.76" r="1.5"/><circle cx="637.25" cy="401.8" r="1.5"/><circle cx="638.52" cy="409.74" r="1.5"/><circle cx="639.79" cy="403.79" r="1.5"/><circle cx="641.05" cy="412.72" r="1.5"/><circle cx="642.32" cy="399.82" r="1.5"/><circle cx="643.58" cy="397.24" r="1.5"/><circle cx="644.85" cy="387.9" r="1.5"/><circle cx="646.12" cy="398.43" r="1.5"/><circle cx="647.38" cy="411.73" r="1.5"/><circle cx="648.65" cy="416.69" r="1.5"/><circle cx="649.91" cy="412.72" r="1.5"/><circle cx="651.18" cy="414.71" r="1.5"/><circle cx="652.45" cy="417.68" r="1.5"/><circle cx="653.71" cy="419.67" r="1.5"/><circle cx="654.98" cy="421.65" r="1.5"/><circle cx="656.24" cy="422.65" r="1.5"/><circle cx="657.51" cy="404.38" r="1.5"/><circle cx="658.78" cy="410.34" r="1.5"/><circle cx="660.04" cy="399.22" r="1.5"/><circle cx="661.31" cy="390.49" r="1.5"/><circle cx="662.57" cy="400.41" r="1.5"/><circle cx="663.84" cy="406.37" r="1.5"/><circle cx="665.11" cy="409.74" r="1.5"/><circle cx="666.37" cy="413.71" r="1.5"/><circle cx="667.64" cy="418.68" r="1.5"/><circle cx="668.9" cy="409.74" r="1.5"/><circle cx="670.17" cy="412.72" r="1.5"/><circle cx="671.44" cy="409.74" r="1.5"/><circle cx="672.7" cy="417.68" r="1.5"/><circle cx="673.97" cy="425.03" r="1.5"/><circle cx="675.23" cy="407.76" r="1.5"/><circle cx="676.5" cy="410.74" r="1.5"/></g>
<polyline points="44.77,447.7 106.8,447.7 108.07,458.5 170.1,458.5 171.37,458.5 233.4,458.5 234.67,444.6 296.7,444.6 297.97,458.5 360,458.5 361.27,452.9 423.3,452.9 424.57,458.5 486.6,458.5 487.87,458.5 549.9,458.5 551.17,458 613.2,458 614.47,461 676.5,461" fill="none" stroke="#ff5050" stroke-width="1.6" stroke-dasharray="4.4 2.4"/>
<polyline points="44.77,619.42 46.03,619.79 47.3,626.84 48.56,620.72 49.83,607.92 51.1,613.3 52.36,618.86 53.63,629.99 54.89,631.85 56.16,618.86 57.43,612 58.69,604.02 59.96,610.14 61.22,606.8 62.49,614.22 63.76,628.14 65.02,622.02 66.29,619.42 67.55,618.86 68.82,604.02 70.09,613.3 71.35,608.66 72.62,612.74 73.88,607.73 75.15,611.44 76.42,613.3 77.68,642.98 78.95,640.2 80.21,656.9 81.48,623.5 82.75,623.5 84.01,622.02 85.28,620.16 86.54,604.02 87.81,623.5 89.08,611.44 90.34,608.66 91.61,626.84 92.87,632.41 94.14,643.91 95.41,614.22 96.67,604.02 97.94,626.28 99.2,632.41 100.47,633.71 101.74,642.42 103,643.54 104.27,631.85 105.53,638.71 106.8,649.1 108.07,639.83 109.33,641.13 110.6,641.68 111.86,621.65 113.13,622.02 114.4,619.42 115.66,618.31 116.93,618.31 118.19,620.72 119.46,622.57 120.73,624.43 121.99,641.13 123.26,655.97 124.52,660.98 125.79,646.69 127.06,622.57 128.32,608.66 129.59,625.36 130.85,617.94 132.12,634.26 133.39,634.63 134.65,632.41 135.92,629.44 137.18,636.49 138.45,647.99 139.72,617.01 140.98,617.01 142.25,624.43 143.51,639.83 144.78,653.56 146.05,627.21 147.31,629.99 148.58,620.16 149.84,624.43 151.11,628.7 152.38,627.21 153.64,628.14 154.91,632.41 156.17,636.49 157.44,652.26 158.71,613.3 159.97,614.22 161.24,623.13 162.5,617.01 163.77,645.39 165.04,632.41 166.3,618.86 167.57,621.65 168.83,624.43 170.1,624.43 171.37,622.57 172.63,621.65 173.9,623.13 175.16,659.12 176.43,619.42 177.7,618.31 178.96,623.87 180.23,626.28 181.49,643.54 182.76,674.89 184.03,642.98 185.29,624.43 186.56,632.78 187.82,621.27 189.09,625.36 190.36,622.57 191.62,624.43 192.89,617.94 194.15,625.73 195.42,624.43 196.69,624.43 197.95,621.65 199.22,618.86 200.48,624.43 201.75,624.43 203.02,624.99 204.28,627.58 205.55,624.43 206.81,620.72 208.08,632.78 209.35,626.84 210.61,627.21 211.88,627.58 213.14,626.28 214.41,628.14 215.68,626.84 216.94,621.65 218.21,632.78 219.47,620.72 220.74,659.31 222.01,618.31 223.27,632.78 224.54,626.28 225.8,628.14 227.07,628.7 228.34,624.43 229.6,617.01 230.87,624.43 232.13,627.21 233.4,647.25 234.67,646.14 235.93,612 237.2,611.44 238.46,611.44 239.73,612 241,617.01 242.26,623.13 243.53,628.14 244.79,619.79 246.06,612.74 247.33,616.08 248.59,618.31 249.86,627.58 251.12,628.14 252.39,608.66 253.66,616.08 254.92,620.16 256.19,608.66 257.45,608.29 258.72,613.3 259.99,620.72 261.25,629.44 262.52,644.84 263.78,624.43 265.05,633.15 266.32,617.01 267.58,616.45 268.85,628.14 270.11,646.14 271.38,650.4 272.65,629.44 273.91,621.65 275.18,628.7 276.44,650.96 277.71,631.29 278.98,626.84 280.24,627.58 281.51,637.42 282.77,638.71 284.04,624.99 285.31,627.58 286.57,606.8 287.84,613.3 289.1,629.07 290.37,622.02 291.64,620.16 292.9,624.43 294.17,634.63 295.43,631.85 296.7,621.27 297.97,627.21 299.23,631.85 300.5,632.41 301.76,628.14 303.03,623.13 304.3,622.57 305.56,616.45 306.83,610.14 308.09,619.79 309.36,630.55 310.63,621.27 311.89,621.27 313.16,649.85 314.42,620.72 315.69,623.13 316.96,629.44 318.22,642.05 319.49,634.26 320.75,634.26 322.02,654.11 323.29,630.92 324.55,628.7 325.82,617.01 327.08,629.07 328.35,620.72 329.62,632.78 330.88,629.07 332.15,629.07 333.41,619.42 334.68,634.26 335.95,663.39 337.21,623.87 338.48,625.36 339.74,659.12 341.01,630.55 342.28,621.65 343.54,630.55 344.81,641.68 346.07,639.27 347.34,632.78 348.61,612.37 349.87,623.87 351.14,622.02 352.4,626.28 353.67,620.72 354.94,605.88 356.2,617.56 357.47,630.92 358.73,622.02 360,629.44 361.27,632.78 362.53,614.6 363.8,616.45 365.06,617.01 366.33,618.86 367.6,649.1 368.86,641.68 370.13,641.68 371.39,621.65 372.66,623.5 373.93,628.14 375.19,632.78 376.46,632.78 377.72,632.41 378.99,614.6 380.26,635 381.52,631.85 382.79,685.65 384.05,618.31 385.32,618.86 386.59,619.42 387.85,618.86 389.12,636.12 390.38,628.14 391.65,625.36 392.92,623.87 394.18,619.42 395.45,613.3 396.71,624.43 397.98,624.99 399.25,617.01 400.51,613.3 401.78,639.83 403.04,636.86 404.31,623.13 405.58,616.45 406.84,617.56 408.11,636.86 409.37,623.13 410.64,616.08 411.91,617.56 413.17,618.86 414.44,649.1 415.7,642.05 416.97,622.57 418.24,623.13 419.5,626.84 420.77,626.84 422.03,611.44 423.3,625.36 424.57,589.73 425.83,587.32 427.1,583.06 428.36,599.38 429.63,580.83 430.9,584.91 432.16,586.77 433.43,582.68 434.69,600.87 435.96,602.17 437.23,591.03 438.49,586.02 439.76,597.53 441.02,595.3 442.29,601.61 443.56,601.24 444.82,606.8 446.09,592.89 447.35,593.82 448.62,600.31 449.89,585.47 451.15,585.47 452.42,584.91 453.68,591.03 454.95,599.38 456.22,591.96 457.48,583.06 458.75,596.04 460.01,596.6 461.28,594.19 462.55,604.95 463.81,598.45 465.08,593.45 466.34,582.68 467.61,580.83 468.88,612.37 470.14,586.02 471.41,586.4 472.67,591.03 473.94,591.03 475.21,588.62 476.47,587.88 477.74,597.53 479,587.32 480.27,582.31 481.54,600.87 482.8,591.03 484.07,591.59 485.33,597.53 486.6,593.82 487.87,594.74 489.13,596.6 490.4,589.18 491.66,602.17 492.93,601.61 494.2,598.45 495.46,603.09 496.73,605.88 497.99,581.2 499.26,583.06 500.53,620.72 501.79,582.31 503.06,580.83 504.32,595.3 505.59,604.02 506.86,597.9 508.12,587.32 509.39,589.18 510.65,592.89 511.92,591.03 513.19,584.54 514.45,606.8 515.72,610.14 516.98,591.59 518.25,587.88 519.52,599.38 520.78,586.77 522.05,586.4 523.31,597.53 524.58,588.25 525.85,592.89 527.11,600.87 528.38,586.77 529.64,591.96 530.91,591.59 532.18,586.77 533.44,600.31 534.71,608.29 535.97,597.53 537.24,592.89 538.51,586.4 539.77,581.76 541.04,599.38 542.3,602.72 543.57,596.04 544.84,591.03 546.1,588.62 547.37,582.68 548.63,594.19 549.9,586.4 551.17,587.74 552.43,585.16 553.7,583.77 554.96,583.77 556.23,595.68 557.5,600.25 558.76,600.65 560.03,599.06 561.29,598.27 562.56,581.79 563.83,583.18 565.09,590.72 566.36,599.06 567.62,595.68 568.89,591.71 570.16,597.07 571.42,599.65 572.69,610.18 573.95,605.61 575.22,585.76 576.49,582.78 577.75,599.06 579.02,611.57 580.28,592.71 581.55,586.75 582.82,586.35 584.08,589.73 585.35,590.72 586.61,595.68 587.88,592.31 589.15,593.1 590.41,598.27 591.68,594.69 592.94,597.67 594.21,598.27 595.48,593.7 596.74,588.34 598.01,588.34 599.27,593.7 600.54,599.06 601.81,584.76 603.07,586.35 604.34,594.69 605.6,589.73 606.87,601.04 608.14,596.28 609.4,589.13 610.67,599.06 611.93,586.75 613.2,581.79 614.47,591.12 615.73,588.34 617,589.73 618.26,581.79 619.53,595.68 620.8,595.09 622.06,594.69 623.33,589.73 624.59,590.72 625.86,606.21 627.13,591.71 628.39,579.8 629.66,585.16 630.92,608.59 632.19,591.71 633.46,584.37 634.72,593.7 635.99,586.35 637.25,588.74 638.52,587.74 639.79,589.13 641.05,592.71 642.32,588.74 643.58,600.25 644.85,589.73 646.12,584.37 647.38,582.78 648.65,597.67 649.91,603.03 651.18,595.68 652.45,593.7 653.71,598.66 654.98,596.28 656.24,597.67 657.51,596.28 658.78,592.31 660.04,587.15 661.31,606.6 662.57,582.78 663.84,584.37 665.11,601.24 666.37,592.71 667.64,593.7 668.9,601.64 670.17,595.09 671.44,591.71 672.7,595.68 673.97,590.32 675.23,600.65 676.5,595.09" fill="none" stroke="#0000ff" stroke-width="1" stroke-linejoin="round"/>
<g fill="#00ff00" stroke="#0000ff" stroke-width="1"><circle cx="44.77" cy="619.42" r="1.5"/><circle cx="46.03" cy="619.79" r="1.5"/><circle cx="47.3" cy="626.84" r="1.5"/><circle cx="48.56" cy="620.72" r="1.5"/><circle cx="49.83" cy="607.92" r="1.5"/><circle cx="51.1" cy="613.3" r="1.5"/><circle cx="52.36" cy="618.86" r="1.5"/><circle cx="53.63" cy="629.99" r="1.5"/><circle cx="54.89" cy="631.85" r="1.5"/><circle cx="56.16" cy="618.86" r="1.5"/><circle cx="57.43" cy="612" r="1.5"/><circle cx="58.69" cy="604.02" r="1.5"/><circle cx="59.96" cy="610.14" r="1.5"/><circle cx="61.22" cy="606.8" r="1.5"/><circle cx="62.49" cy="614.22" r="1.5"/><circle cx="63.76" cy="628.14" r="1.5"/><circle cx="65.02" cy="622.02" r="1.5"/><circle cx="66.29" cy="619.42" r="1.5"/><circle cx="67.55" cy="618.86" r="1.5"/><circle cx="68.82" cy="604.02" r="1.5"/><circle cx="70.09" cy="613.3" r="1.5"/><circle cx="71.35" cy="608.66" r="1.5"/><circle cx="72.62" cy="612.74" r="1.5"/><circle cx="73.88" cy="607.73" r="1.5"/><circle cx="75.15" cy="611.44" r="1.5"/><circle cx="76.42" cy="613.3" r="1.5"/><circle cx="77.68" cy="642.98" r="1.5"/><circle cx="78.95" cy="640.2" r="1.5"/><circle cx="80.21" cy="656.9" r="1.5"/><circle cx="81.48" cy="623.5" r="1.5"/><circle cx="82.75" cy="623.5" r="1.5"/><circle cx="84.01" cy="622.02" r="1.5"/><circle cx="85.28" cy="620.16" r="1.5"/><circle cx="86.54" cy="604.02" r="1.5"/><circle cx="87.81" cy="623.5" r="1.5"/><circle cx="89.08" cy="611.44" r="1.5"/><circle cx="90.34" cy="608.66" r="1.5"/><circle cx="91.61" cy="626.84" r="1.5"/><circle cx="92.87" cy="632.41" r="1.5"/><circle cx="94.14" cy="643.91" r="1.5"/><circle cx="95.41" cy="614.22" r="1.5"/><circle cx="96.67" cy="604.02" r="1.5"/><circle cx="97.94" cy="626.28" r="1.5"/><circle cx="99.2" cy="632.41" r="1.5"/><circle cx="100.47" cy="633.71" r="1.5"/><circle cx="101.74" cy="642.42" r="1.5"/><circle cx="103" cy="643.54" r="1.5"/><circle cx="104.27" cy="631.85" r="1.5"/><circle cx="105.53" cy="638.71" r="1.5"/><circle cx="106.8" cy="649.1" r="1.5"/><circle cx="108.07" cy="639.83" r="1.5"/><circle cx="109.33" cy="641.13" r="1.5"/><circle cx="110.6" cy="641.68" r="1.5"/><circle cx="111.86" cy="621.65" r="1.5"/><circle cx="113.13" cy="622.02" r="1.5"/><circle cx="114.4" cy="619.42" r="1.5"/><circle cx="115.66" cy="618.31" r="1.5"/><circle cx="116.93" cy="618.31" r="1.5"/><circle cx="118.19" cy="620.72" r="1.5"/><circle cx="119.46" cy="622.57" r="1.5"/><circle cx="120.73" cy="624.43" r="1.5"/><circle cx="121.99" cy="641.13" r="1.5"/><circle cx="123.26" cy="655.97" r="1.5"/><circle cx="124.52" cy="660.98" r="1.5"/><circle cx="125.79" cy="646.69" r="1.5"/><circle cx="127.06" cy="622.57" r="1.5"/><circle cx="128.32" cy="608.66" r="1.5"/><circle cx="129.59" cy="625.36" r="1.5"/><circle cx="130.85" cy="617.94" r="1.5"/><circle cx="132.12" cy="634.26" r="1.5"/><circle cx="133.39" cy="634.63" r="1.5"/><circle cx="134.65" cy="632.41" r="1.5"/><circle cx="135.92" cy="629.44" r="1.5"/><circle cx="137.18" cy="636.49" r="1.5"/><circle cx="138.45" cy="647.99" r="1.5"/><circle cx="139.72" cy="617.01" r="1.5"/><circle cx="140.98" cy="617.01" r="1.5"/><circle cx="142.25" cy="624.43" r="1.5"/><circle cx="143.51" cy="639.83" r="1.5"/><circle cx="144.78" cy="653.56" r="1.5"/><circle cx="146.05" cy="627.21" r="1.5"/><circle cx="147.31" cy="629.99" r="1.5"/><circle cx="148.58" cy="620.16" r="1.5"/><circle cx="149.84" cy="624.43" r="1.5"/><circle cx="151.11" cy="628.7" r="1.5"/><circle cx="152.38" cy="627.21" r="1.5"/><circle cx="153.64" cy="628.14" r="1.5"/><circle cx="154.91" cy="632.41" r="1.5"/><circle cx="156.17" cy="636.49" r="1.5"/><circle cx="157.44" cy="652.26" r="1.5"/><circle cx="158.71" cy="613.3" r="1.5"/><circle cx="159.97" cy="614.22" r="1.5"/><circle cx="161.24" cy="623.13" r="1.5"/><circle cx="162.5" cy="617.01" r="1.5"/><circle cx="163.77" cy="645.39" r="1.5"/><circle cx="165.04" cy="632.41" r="1.5"/><circle cx="166.3" cy="618.86" r="1.5"/><circle cx="167.57" cy="621.65" r="1.5"/><circle cx="168.83" cy="624.43" r="1.5"/><circle cx="170.1" cy="624.43" r="1.5"/><circle cx="171.37" cy="622.57" r="1.5"/><circle cx="172.63" cy="621.65" r="1.5"/><circle cx="173.9" cy="623.13" r="1.5"/><circle cx="175.16" cy="659.12" r="1.5"/><circle cx="176.43" cy="619.42" r="1.5"/><circle cx="177.7" cy="618.31" r="1.5"/><circle cx="178.96" cy="623.87" r="1.5"/><circle cx="180.23" cy="626.28" r="1.5"/><circle cx="181.49" cy="643.54" r="1.5"/><circle cx="182.76" cy="674.89" r="1.5"/><circle cx="184.03" cy="642.98" r="1.5"/><circle cx="185.29" cy="624.43" r="1.5"/><circle cx="186.56" cy="632.78" r="1.5"/><circle cx="187.82" cy="621.27" r="1.5"/><circle cx="189.09" cy="625.36" r="1.5"/><circle cx="190.36" cy="622.57" r="1.5"/><circle cx="191.62" cy="624.43" r="1.5"/><circle cx="192.89" cy="617.94" r="1.5"/><circle cx="194.15" cy="625.73" r="1.5"/><circle cx="195.42" cy="624.43" r="1.5"/><circle cx="196.69" cy="624.43" r="1.5"/><circle cx="197.95" cy="621.65" r="1.5"/><circle cx="199.22" cy="618.86" r="1.5"/><circle cx="200.48" cy="624.43" r="1.5"/><circle cx="201.75" cy="624.43" r="1.5"/><circle cx="203.02" cy="624.99" r="1.5"/><circle cx="204.28" cy="627.58" r="1.5"/><circle cx="205.55" cy="624.43" r="1.5"/><circle cx="206.81" cy="620.72" r="1.5"/><circle cx="208.08" cy="632.78" r="1.5"/><circle cx="209.35" cy="626.84" r="1.5"/><circle cx="210.61" cy="627.21" r="1.5"/><circle cx="211.88" cy="627.58" r="1.5"/><circle cx="213.14" cy="626.28" r="1.5"/><circle cx="214.41" cy="628.14" r="1.5"/><circle cx="215.68" cy="626.84" r="1.5"/><circle cx="216.94" cy="621.65" r="1.5"/><circle cx="218.21" cy="632.78" r="1.5"/><circle cx="219.47" cy="620.72" r="1.5"/><circle cx="220.74" cy="659.31" r="1.5"/><circle cx="222.01" cy="618.31" r="1.5"/><circle cx="223.27" cy="632.78" r="1.5"/><circle cx="224.54" cy="626.28" r="1.5"/><circle cx="225.8" cy="628.14" r="1.5"/><circle cx="227.07" cy="628.7" r="1.5"/><circle cx="228.34" cy="624.43" r="1.5"/><circle cx="229.6" cy="617.01" r="1.5"/><circle cx="230.87" cy="624.43" r="1.5"/><circle cx="232.13" cy="627.21" r="1.5"/><circle cx="233.4" cy="647.25" r="1.5"/><circle cx="234.67" cy="646.14" r="1.5"/><circle cx="235.93" cy="612" r="1.5"/><circle cx="237.2" cy="611.44" r="1.5"/><circle cx="238.46" cy="611.44" r="1.5"/><circle cx="239.73" cy="612" r="1.5"/><circle cx="241" cy="617.01" r="1.5"/><circle cx="242.26" cy="623.13" r="1.5"/><circle cx="243.53" cy="628.14" r="1.5"/><circle cx="244.79" cy="619.79" r="1.5"/><circle cx="246.06" cy="612.74" r="1.5"/><circle cx="247.33" cy="616.08" r="1.5"/><circle cx="248.59" cy="618.31" r="1.5"/><circle cx="249.86" cy="627.58" r="1.5"/><circle cx="251.12" cy="628.14" r="1.5"/><circle cx="252.39" cy="608.66" r="1.5"/><circle cx="253.66" cy="616.08" r="1.5"/><circle cx="254.92" cy="620.16" r="1.5"/><circle cx="256.19" cy="608.66" r="1.5"/><circle cx="257.45" cy="608.29" r="1.5"/><circle cx="258.72" cy="613.3" r="1.5"/><circle cx="259.99" cy="620.72" r="1.5"/><circle cx="261.25" cy="629.44" r="1.5"/><circle cx="262.52" cy="644.84" r="1.5"/><circle cx="263.78" cy="624.43" r="1.5"/><circle cx="265.05" cy="633.15" r="1.5"/><circle cx="266.32" cy="617.01" r="1.5"/><circle cx="267.58" cy="616.45" r="1.5"/><circle cx="268.85" cy="628.14" r="1.5"/><circle cx="270.11" cy="646.14" r="1.5"/><circle cx="271.38" cy="650.4" r="1.5"/><circle cx="272.65" cy="629.44" r="1.5"/><circle cx="273.91" cy="621.65" r="1.5"/><circle cx="275.18" cy="628.7" r="1.5"/><circle cx="276.44" cy="650.96" r="1.5"/><circle cx="277.71" cy="631.29" r="1.5"/><circle cx="278.98" cy="626.84" r="1.5"/><circle cx="280.24" cy="627.58" r="1.5"/><circle cx="281.51" cy="637.42" r="1.5"/><circle cx="282.77" cy="638.71" r="1.5"/><circle cx="284.04" cy="624.99" r="1.5"/><circle cx="285.31" cy="627.58" r="1.5"/><circle cx="286.57" cy="606.8" r="1.5"/><circle cx="287.84" cy="613.3" r="1.5"/><circle cx="289.1" cy="629.07" r="1.5"/><circle cx="290.37" cy="622.02" r="1.5"/><circle cx="291.64" cy="620.16" r="1.5"/><circle cx="292.9" cy="624.43" r="1.5"/><circle cx="294.17" cy="634.63" r="1.5"/><circle cx="295.43" cy="631.85" r="1.5"/><circle cx="296.7" cy="621.27" r="1.5"/><circle cx="297.97" cy="627.21" r="1.5"/><circle cx="299.23" cy="631.85" r="1.5"/><circle cx="300.5" cy="632.41" r="1.5"/><circle cx="301.76" cy="628.14" r="1.5"/><circle cx="303.03" cy="623.13" r="1.5"/><circle cx="304.3" cy="622.57" r="1.5"/><circle cx="305.56" cy="616.45" r="1.5"/><circle cx="306.83" cy="610.14" r="1.5"/><circle cx="308.09" cy="619.79" r="1.5"/><circle cx="309.36" cy="630.55" r="1.5"/><circle cx="310.63" cy="621.27" r="1.5"/><circle cx="311.89" cy="621.27" r="1.5"/><circle cx="313.16" cy="649.85" r="1.5"/><circle cx="314.42" cy="620.72" r="1.5"/><circle cx="315.69" cy="623.13" r="1.5"/><circle cx="316.96" cy="629.44" r="1.5"/><circle cx="318.22" cy="642.05" r="1.5"/><circle cx="319.49" cy="634.26" r="1.5"/><circle cx="320.75" cy="634.26" r="1.5"/><circle cx="322.02" cy="654.11" r="1.5"/><circle cx="323.29" cy="630.92" r="1.5"/><circle cx="324.55" cy="628.7" r="1.5"/><circle cx="325.82" cy="617.01" r="1.5"/><circle cx="327.08" cy="629.07" r="1.5"/><circle cx="328.35" cy="620.72" r="1.5"/><circle cx="329.62" cy="632.78" r="1.5"/><circle cx="330.88" cy="629.07" r="1.5"/><circle cx="332.15" cy="629.07" r="1.5"/><circle cx="333.41" cy="619.42" r="1.5"/><circle cx="334.68" cy="634.26" r="1.5"/><circle cx="335.95" cy="663.39" r="1.5"/><circle cx="337.21" cy="623.87" r="1.5"/><circle cx="338.48" cy="625.36" r="1.5"/><circle cx="339.74" cy="659.12" r="1.5"/><circle cx="341.01" cy="630.55" r="1.5"/><circle cx="342.28" cy="621.65" r="1.5"/><circle cx="343.54" cy="630.55" r="1.5"/><circle cx="344.81" cy="641.68" r="1.5"/><circle cx="346.07" cy="639.27" r="1.5"/><circle cx="347.34" cy="632.78" r="1.5"/><circle cx="348.61" cy="612.37" r="1.5"/><circle cx="349.87" cy="623.87" r="1.5"/><circle cx="351.14" cy="622.02" r="1.5"/><circle cx="352.4" cy="626.28" r="1.5"/><circle cx="353.67" cy="620.72" r="1.5"/><circle cx="354.94" cy="605.88" r="1.5"/><circle cx="356.2" cy="617.56" r="1.5"/><circle cx="357.47" cy="630.92" r="1.5"/><circle cx="358.73" cy="622.02" r="1.5"/><circle cx="360" cy="629.44" r="1.5"/><circle cx="361.27" cy="632.78" r="1.5"/><circle cx="362.53" cy="614.6" r="1.5"/><circle cx="363.8" cy="616.45" r="1.5"/><circle cx="365.06" cy="617.01" r="1.5"/><circle cx="366.33" cy="618.86" r="1.5"/><circle cx="367.6" cy="649.1" r="1.5"/><circle cx="368.86" cy="641.68" r="1.5"/><circle cx="370.13" cy="641.68" r="1.5"/><circle cx="371.39" cy="621.65" r="1.5"/><circle cx="372.66" cy="623.5" r="1.5"/><circle cx="373.93" cy="628.14" r="1.5"/><circle cx="375.19" cy="632.78" r="1.5"/><circle cx="376.46" cy="632.78" r="1.5"/><circle cx="377.72" cy="632.41" r="1.5"/><circle cx="378.99" cy="614.6" r="1.5"/><circle cx="380.26" cy="635" r="1.5"/><circle cx="381.52" cy="631.85" r="1.5"/><circle cx="382.79" cy="685.65" r="1.5"/><circle cx="384.05" cy="618.31" r="1.5"/><circle cx="385.32" cy="618.86" r="1.5"/><circle cx="386.59" cy="619.42" r="1.5"/><circle cx="387.85" cy="618.86" r="1.5"/><circle cx="389.12" cy="636.12" r="1.5"/><circle cx="390.38" cy="628.14" r="1.5"/><circle cx="391.65" cy="625.36" r="1.5"/><circle cx="392.92" cy="623.87" r="1.5"/><circle cx="394.18" cy="619.42" r="1.5"/><circle cx="395.45" cy="613.3" r="1.5"/><circle cx="396.71" cy="624.43" r="1.5"/><circle cx="397.98" cy="624.99" r="1.5"/><circle cx="399.25" cy="617.01" r="1.5"/><circle cx="400.51" cy="613.3" r="1.5"/><circle cx="401.78" cy="639.83" r="1.5"/><circle cx="403.04" cy="636.86" r="1.5"/><circle cx="404.31" cy="623.13" r="1.5"/><circle cx="405.58" cy="616.45" r="1.5"/><circle cx="406.84" cy="617.56" r="1.5"/><circle cx="408.11" cy="636.86" r="1.5"/><circle cx="409.37" cy="623.13" r="1.5"/><circle cx="410.64" cy="616.08" r="1.5"/><circle cx="411.91" cy="617.56" r="1.5"/><circle cx="413.17" cy="618.86" r="1.5"/><circle cx="414.44" cy="649.1" r="1.5"/><circle cx="415.7" cy="642.05" r="1.5"/><circle cx="416.97" cy="622.57" r="1.5"/><circle cx="418.24" cy="623.13" r="1.5"/><circle cx="419.5" cy="626.84" r="1.5"/><circle cx="420.77" cy="626.84" r="1.5"/><circle cx="422.03" cy="611.44" r="1.5"/><circle cx="423.3" cy="625.36" r="1.5"/><circle cx="424.57" cy="589.73" r="1.5"/><circle cx="425.83" cy="587.32" r="1.5"/><circle cx="427.1" cy="583.06" r="1.5"/><circle cx="428.36" cy="599.38" r="1.5"/><circle cx="429.63" cy="580.83" r="1.5"/><circle cx="430.9" cy="584.91" r="1.5"/><circle cx="432.16" cy="586.77" r="1.5"/><circle cx="433.43" cy="582.68" r="1.5"/><circle cx="434.69" cy="600.87" r="1.5"/><circle cx="435.96" cy="602.17" r="1.5"/><circle cx="437.23" cy="591.03" r="1.5"/><circle cx="438.49" cy="586.02" r="1.5"/><circle cx="439.76" cy="597.53" r="1.5"/><circle cx="441.02" cy="595.3" r="1.5"/><circle cx="442.29" cy="601.61" r="1.5"/><circle cx="443.56" cy="601.24" r="1.5"/><circle cx="444.82" cy="606.8" r="1.5"/><circle cx="446.09" cy="592.89" r="1.5"/><circle cx="447.35" cy="593.82" r="1.5"/><circle cx="448.62" cy="600.31" r="1.5"/><circle cx="449.89" cy="585.47" r="1.5"/><circle cx="451.15" cy="585.47" r="1.5"/><circle cx="452.42" cy="584.91" r="1.5"/><circle cx="453.68" cy="591.03" r="1.5"/><circle cx="454.95" cy="599.38" r="1.5"/><circle cx="456.22" cy="591.96" r="1.5"/><circle cx="457.48" cy="583.06" r="1.5"/><circle cx="458.75" cy="596.04" r="1.5"/><circle cx="460.01" cy="596.6" r="1.5"/><circle cx="461.28" cy="594.19" r="1.5"/><circle cx="462.55" cy="604.95" r="1.5"/><circle cx="463.81" cy="598.45" r="1.5"/><circle cx="465.08" cy="593.45" r="1.5"/><circle cx="466.34" cy="582.68" r="1.5"/><circle cx="467.61" cy="580.83" r="1.5"/><circle cx="468.88" cy="612.37" r="1.5"/><circle cx="470.14" cy="586.02" r="1.5"/><circle cx="471.41" cy="586.4" r="1.5"/><circle cx="472.67" cy="591.03" r="1.5"/><circle cx="473.94" cy="591.03" r="1.5"/><circle cx="475.21" cy="588.62" r="1.5"/><circle cx="476.47" cy="587.88" r="1.5"/><circle cx="477.74" cy="597.53" r="1.5"/><circle cx="479" cy="587.32" r="1.5"/><circle cx="480.27" cy="582.31" r="1.5"/><circle cx="481.54" cy="600.87" r="1.5"/><circle cx="482.8" cy="591.03" r="1.5"/><circle cx="484.07" cy="591.59" r="1.5"/><circle cx="485.33" cy="597.53" r="1.5"/><circle cx="486.6" cy="593.82" r="1.5"/><circle cx="487.87" cy="594.74" r="1.5"/><circle cx="489.13" cy="596.6" r="1.5"/><circle cx="490.4" cy="589.18" r="1.5"/><circle cx="491.66" cy="602.17" r="1.5"/><circle cx="492.93" cy="601.61" r="1.5"/><circle cx="494.2" cy="598.45" r="1.5"/><circle cx="495.46" cy="603.09" r="1.5"/><circle cx="496.73" cy="605.88" r="1.5"/><circle cx="497.99" cy="581.2" r="1.5"/><circle cx="499.26" cy="583.06" r="1.5"/><circle cx="500.53" cy="620.72" r="1.5"/><circle cx="501.79" cy="582.31" r="1.5"/><circle cx="503.06" cy="580.83" r="1.5"/><circle cx="504.32" cy="595.3" r="1.5"/><circle cx="505.59" cy="604.02" r="1.5"/><circle cx="506.86" cy="597.9" r="1.5"/><circle cx="508.12" cy="587.32" r="1.5"/><circle cx="509.39" cy="589.18" r="1.5"/><circle cx="510.65" cy="592.89" r="1.5"/><circle cx="511.92" cy="591.03" r="1.5"/><circle cx="513.19" cy="584.54" r="1.5"/><circle cx="514.45" cy="606.8" r="1.5"/><circle cx="515.72" cy="610.14" r="1.5"/><circle cx="516.98" cy="591.59" r="1.5"/><circle cx="518.25" cy="587.88" r="1.5"/><circle cx="519.52" cy="599.38" r="1.5"/><circle cx="520.78" cy="586.77" r="1.5"/><circle cx="522.05" cy="586.4" r="1.5"/><circle cx="523.31" cy="597.53" r="1.5"/><circle cx="524.58" cy="588.25" r="1.5"/><circle cx="525.85" cy="592.89" r="1.5"/><circle cx="527.11" cy="600.87" r="1.5"/><circle cx="528.38" cy="586.77" r="1.5"/><circle cx="529.64" cy="591.96" r="1.5"/><circle cx="530.91" cy="591.59" r="1.5"/><circle cx="532.18" cy="586.77" r="1.5"/><circle cx="533.44" cy="600.31" r="1.5"/><circle cx="534.71" cy="608.29" r="1.5"/><circle cx="535.97" cy="597.53" r="1.5"/><circle cx="537.24" cy="592.89" r="1.5"/><circle cx="538.51" cy="586.4" r="1.5"/><circle cx="539.77" cy="581.76" r="1.5"/><circle cx="541.04" cy="599.38" r="1.5"/><circle cx="542.3" cy="602.72" r="1.5"/><circle cx="543.57" cy="596.04" r="1.5"/><circle cx="544.84" cy="591.03" r="1.5"/><circle cx="546.1" cy="588.62" r="1.5"/><circle cx="547.37" cy="582.68" r="1.5"/><circle cx="548.63" cy="594.19" r="1.5"/><circle cx="549.9" cy="586.4" r="1.5"/><circle cx="551.17" cy="587.74" r="1.5"/><circle cx="552.43" cy="585.16" r="1.5"/><circle cx="553.7" cy="583.77" r="1.5"/><circle cx="554.96" cy="583.77" r="1.5"/><circle cx="556.23" cy="595.68" r="1.5"/><circle cx="557.5" cy="600.25" r="1.5"/><circle cx="558.76" cy="600.65" r="1.5"/><circle cx="560.03" cy="599.06" r="1.5"/><circle cx="561.29" cy="598.27" r="1.5"/><circle cx="562.56" cy="581.79" r="1.5"/><circle cx="563.83" cy="583.18" r="1.5"/><circle cx="565.09" cy="590.72" r="1.5"/><circle cx="566.36" cy="599.06" r="1.5"/><circle cx="567.62" cy="595.68" r="1.5"/><circle cx="568.89" cy="591.71" r="1.5"/><circle cx="570.16" cy="597.07" r="1.5"/><circle cx="571.42" cy="599.65" r="1.5"/><circle cx="572.69" cy="610.18" r="1.5"/><circle cx="573.95" cy="605.61" r="1.5"/><circle cx="575.22" cy="585.76" r="1.5"/><circle cx="576.49" cy="582.78" r="1.5"/><circle cx="577.75" cy="599.06" r="1.5"/><circle cx="579.02" cy="611.57" r="1.5"/><circle cx="580.28" cy="592.71" r="1.5"/><circle cx="581.55" cy="586.75" r="1.5"/><circle cx="582.82" cy="586.35" r="1.5"/><circle cx="584.08" cy="589.73" r="1.5"/><circle cx="585.35" cy="590.72" r="1.5"/><circle cx="586.61" cy="595.68" r="1.5"/><circle cx="587.88" cy="592.31" r="1.5"/><circle cx="589.15" cy="593.1" r="1.5"/><circle cx="590.41" cy="598.27" r="1.5"/><circle cx="591.68" cy="594.69" r="1.5"/><circle cx="592.94" cy="597.67" r="1.5"/><circle cx="594.21" cy="598.27" r="1.5"/><circle cx="595.48" cy="593.7" r="1.5"/><circle cx="596.74" cy="588.34" r="1.5"/><circle cx="598.01" cy="588.34" r="1.5"/><circle cx="599.27" cy="593.7" r="1.5"/><circle cx="600.54" cy="599.06" r="1.5"/><circle cx="601.81" cy="584.76" r="1.5"/><circle cx="603.07" cy="586.35" r="1.5"/><circle cx="604.34" cy="594.69" r="1.5"/><circle cx="605.6" cy="589.73" r="1.5"/><circle cx="606.87" cy="601.04" r="1.5"/><circle cx="608.14" cy="596.28" r="1.5"/><circle cx="609.4" cy="589.13" r="1.5"/><circle cx="610.67" cy="599.06" r="1.5"/><circle cx="611.93" cy="586.75" r="1.5"/><circle cx="613.2" cy="581.79" r="1.5"/><circle cx="614.47" cy="591.12" r="1.5"/><circle cx="615.73" cy="588.34" r="1.5"/><circle cx="617" cy="589.73" r="1.5"/><circle cx="618.26" cy="581.79" r="1.5"/><circle cx="619.53" cy="595.68" r="1.5"/><circle cx="620.8" cy="595.09" r="1.5"/><circle cx="622.06" cy="594.69" r="1.5"/><circle cx="623.33" cy="589.73" r="1.5"/><circle cx="624.59" cy="590.72" r="1.5"/><circle cx="625.86" cy="606.21" r="1.5"/><circle cx="627.13" cy="591.71" r="1.5"/><circle cx="628.39" cy="579.8" r="1.5"/><circle cx="629.66" cy="585.16" r="1.5"/><circle cx="630.92" cy="608.59" r="1.5"/><circle cx="632.19" cy="591.71" r="1.5"/><circle cx="633.46" cy="584.37" r="1.5"/><circle cx="634.72" cy="593.7" r="1.5"/><circle cx="635.99" cy="586.35" r="1.5"/><circle cx="637.25" cy="588.74" r="1.5"/><circle cx="638.52" cy="587.74" r="1.5"/><circle cx="639.79" cy="589.13" r="1.5"/><circle cx="641.05" cy="592.71" r="1.5"/><circle cx="642.32" cy="588.74" r="1.5"/><circle cx="643.58" cy="600.25" r="1.5"/><circle cx="644.85" cy="589.73" r="1.5"/><circle cx="646.12" cy="584.37" r="1.5"/><circle cx="647.38" cy="582.78" r="1.5"/><circle cx="648.65" cy="597.67" r="1.5"/><circle cx="649.91" cy="603.03" r="1.5"/><circle cx="651.18" cy="595.68" r="1.5"/><circle cx="652.45" cy="593.7" r="1.5"/><circle cx="653.71" cy="598.66" r="1.5"/><circle cx="654.98" cy="596.28" r="1.5"/><circle cx="656.24" cy="597.67" r="1.5"/><circle cx="657.51" cy="596.28" r="1.5"/><circle cx="658.78" cy="592.31" r="1.5"/><circle cx="660.04" cy="587.15" r="1.5"/><circle cx="661.31" cy="606.6" r="1.5"/><circle cx="662.57" cy="582.78" r="1.5"/><circle cx="663.84" cy="584.37" r="1.5"/><circle cx="665.11" cy="601.24" r="1.5"/><circle cx="666.37" cy="592.71" r="1.5"/><circle cx="667.64" cy="593.7" r="1.5"/><circle cx="668.9" cy="601.64" r="1.5"/><circle cx="670.17" cy="595.09" r="1.5"/><circle cx="671.44" cy="591.71" r="1.5"/><circle cx="672.7" cy="595.68" r="1.5"/><circle cx="673.97" cy="590.32" r="1.5"/><circle cx="675.23" cy="600.65" r="1.5"/><circle cx="676.5" cy="595.09" r="1.5"/></g>
<polyline points="44.77,604 106.8,604 108.07,616.4 170.1,616.4 171.37,618.4 233.4,618.4 234.67,608.5 296.7,608.5 297.97,616.4 360,616.4 361.27,614.2 423.3,614.2 424.57,617.9 486.6,617.9 487.87,617.3 549.9,617.3 551.17,615.4 613.2,615.4 614.47,618 676.5,618" fill="none" stroke="#ff5050" stroke-width="1.6" stroke-dasharray="4.4 2.4"/>
<polyline points="44.77,855.19 46.03,845.91 47.3,843.13 48.56,836.63 49.83,856.11 51.1,852.4 52.36,853.33 53.63,853.33 54.89,842.2 56.16,833.29 57.43,842.2 58.69,833.29 59.96,829.77 61.22,851.47 62.49,862.24 63.76,852.4 65.02,857.97 66.29,843.13 67.55,856.11 68.82,842.2 70.09,856.11 71.35,843.13 72.62,840.71 73.88,832.55 75.15,856.11 76.42,862.24 77.68,871.88 78.95,868.54 80.21,872.81 81.48,868.54 82.75,871.51 84.01,843.68 85.28,849.62 86.54,830.7 87.81,847.7 89.08,831.99 90.34,856.11 91.61,862.24 92.87,845.54 94.14,834.41 95.41,849.25 96.67,851.47 97.94,873.18 99.2,864.46 100.47,860.75 101.74,863.53 103,860.75 104.27,881.53 105.53,883.94 106.8,877.45 108.07,868.54 109.33,872.81 110.6,869.1 111.86,865.39 113.13,842.2 114.4,849.62 115.66,840.71 116.93,862.98 118.19,856.67 119.46,869.1 120.73,867.24 121.99,861.68 123.26,868.54 124.52,866.32 125.79,853.33 127.06,838.49 128.32,852.96 129.59,851.47 130.85,843.68 132.12,842.57 133.39,841.27 134.65,857.04 135.92,858.9 137.18,858.53 138.45,843.68 139.72,851.47 140.98,851.1 142.25,852.96 143.51,856.67 144.78,869.1 146.05,875.22 147.31,857.97 148.58,870.96 149.84,858.53 151.11,859.82 152.38,861.68 153.64,859.82 154.91,863.53 156.17,865.39 157.44,867.24 158.71,852.4 159.97,837 161.24,845.54 162.5,854.26 163.77,845.54 165.04,845.54 166.3,855.19 167.57,857.97 168.83,846.84 170.1,849.62 171.37,841.27 172.63,848.69 173.9,859.82 175.16,867.24 176.43,859.27 177.7,869.1 178.96,859.82 180.23,878.93 181.49,869.1 182.76,881.53 184.03,871.51 185.29,851.85 186.56,843.13 187.82,841.27 189.09,845.54 190.36,846.84 191.62,861.68 192.89,842.57 194.15,836.63 195.42,849.25 196.69,843.68 197.95,844.98 199.22,846.84 200.48,843.13 201.75,845.54 203.02,850.55 204.28,841.83 205.55,850.55 206.81,848.69 208.08,854.81 209.35,865.39 210.61,852.4 211.88,855.19 213.14,851.47 214.41,841.83 215.68,836.63 216.94,833.85 218.21,857.97 219.47,858.9 220.74,866.87 222.01,848.14 223.27,859.27 224.54,858.9 225.8,870.03 227.07,865.39 228.34,855.74 229.6,850.55 230.87,840.71 232.13,842.9 233.4,845.05 234.67,853.64 235.93,842.9 237.2,835.42 238.46,845.7 239.73,852.24 241,855.51 242.26,874.21 243.53,851.31 244.79,861.31 246.06,849.91 247.33,847.57 248.59,859.44 249.86,862.99 251.12,860.65 252.39,848.04 253.66,848.97 254.92,848.97 256.19,857.38 257.45,852.71 258.72,848.22 259.99,848.97 261.25,848.97 262.52,854.11 263.78,848.79 265.05,850.37 266.32,851.31 267.58,845.23 268.85,861.87 270.11,880.28 271.38,865.05 272.65,876.54 273.91,877.94 275.18,869.72 276.44,856.26 277.71,866.26 278.98,855.05 280.24,863.18 281.51,858.32 282.77,870.93 284.04,853.46 285.31,841.31 286.57,846.17 287.84,852.24 289.1,860.37 290.37,869.35 291.64,871.87 292.9,865.79 294.17,862.99 295.43,873.27 296.7,861.68 297.97,864.46 299.23,862.61 300.5,873.74 301.76,862.61 303.03,860.38 304.3,847.76 305.56,841.83 306.83,852.4 308.09,867.24 309.36,883.39 310.63,874.67 311.89,862.61 313.16,857.04 314.42,862.61 315.69,849.62 316.96,854.81 318.22,852.96 319.49,846.28 320.75,848.69 322.02,854.26 323.29,860.75 324.55,846.84 325.82,861.12 327.08,855.19 328.35,840.34 329.62,842.6 330.88,852.96 332.15,849.62 333.41,850.55 334.68,851.47 335.95,864.09 337.21,872.81 338.48,877.45 339.74,867.8 341.01,873.37 342.28,849.99 343.54,846.84 344.81,851.1 346.07,859.82 347.34,862.24 348.61,856.11 349.87,855.19 351.14,847.76 352.4,844.05 353.67,841.3 354.94,849.25 356.2,852.96 357.47,879.3 358.73,877.08 360,869.1 361.27,843.68 362.53,862.98 363.8,850.55 365.06,876.52 366.33,871.88 367.6,865.95 368.86,881.16 370.13,865.39 371.39,871.51 372.66,842.8 373.93,844.7 375.19,843 376.46,846.7 377.72,849.99 378.99,847.39 380.26,848.69 381.52,849.62 382.79,860.75 384.05,859.82 385.32,862.24 386.59,845.54 387.85,862.98 389.12,860.75 390.38,882.64 391.65,874.67 392.92,851.1 394.18,844.05 395.45,853.33 396.71,863.53 397.98,865.39 399.25,835.71 400.51,840.34 401.78,856.11 403.04,858.53 404.31,857.04 405.58,867.24 406.84,862.61 408.11,862.24 409.37,856.11 410.64,859.82 411.91,864.46 413.17,859.82 414.44,839.42 415.7,850 416.97,849.25 418.24,845.91 419.5,857.5 420.77,852.96 422.03,849.99 423.3,865.39 424.57,784.68 425.83,786.54 427.1,771.33 428.36,765.76 429.63,776.34 430.9,772.63 432.16,786.17 433.43,797.67 434.69,807.32 435.96,781.9 437.23,788.4 438.49,793.03 439.76,802.31 441.02,805.09 442.29,807.32 443.56,797.67 444.82,791.73 446.09,797.3 447.35,776.89 448.62,770.21 449.89,768.36 451.15,776.89 452.42,791.73 453.68,804.17 454.95,778.19 456.22,779.12 457.48,785.61 458.75,789.32 460.01,795.45 461.28,799.9 462.55,787.47 463.81,786.54 465.08,769.47 466.34,783.2 467.61,778.75 468.88,770.77 470.14,774.48 471.41,773.55 472.67,781.53 473.94,782.46 475.21,793.96 476.47,803.61 477.74,778.19 479,785.61 480.27,781.9 481.54,784.68 482.8,789.32 484.07,801.01 485.33,795.45 486.6,799.53 487.87,788.4 489.13,794.89 490.4,800.45 491.66,801.38 492.93,802.31 494.2,802.31 495.46,781.9 496.73,770.77 497.99,784.31 499.26,779.12 500.53,767.99 501.79,777.63 503.06,793.59 504.32,807.32 505.59,784.31 506.86,780.6 508.12,783.2 509.39,795.45 510.65,781.9 511.92,791.18 513.19,798.6 514.45,793.03 515.72,777.63 516.98,780.97 518.25,786.54 519.52,775.04 520.78,783.76 522.05,778.75 523.31,781.9 524.58,788.77 525.85,782.46 527.11,777.63 528.38,785.61 529.64,782.83 530.91,793.59 532.18,804.17 533.44,808.43 534.71,791.18 535.97,791.73 537.24,775.41 538.51,787.47 539.77,799.53 541.04,808.43 542.3,788.77 543.57,790.62 544.84,771.33 546.1,778.19 547.37,778.75 548.63,769.84 549.9,775.41 551.17,773.26 552.43,770.49 553.7,781.8 554.96,788.35 556.23,798.28 557.5,801.65 558.76,802.25 560.03,773.86 561.29,764.93 562.56,770.88 563.83,783.19 565.09,793.71 566.36,790.74 567.62,797.68 568.89,803.64 570.16,808.21 571.42,802.25 572.69,788.35 573.95,771.88 575.22,780.81 576.49,793.71 577.75,794.71 579.02,774.85 580.28,772.87 581.55,769.89 582.82,773.86 584.08,780.41 585.35,788.35 586.61,796.29 587.88,797.68 589.15,802.25 590.41,801.65 591.68,805.03 592.94,785.77 594.21,791.73 595.48,782.79 596.74,791.13 598.01,797.68 599.27,776.44 600.54,772.47 601.81,771.88 603.07,785.77 604.34,789.74 605.6,797.68 606.87,790.34 608.14,794.71 609.4,799.67 610.67,773.86 611.93,780.41 613.2,782.79 614.47,794.71 615.73,772.47 617,778.82 618.26,782.79 619.53,788.35 620.8,795.7 622.06,791.73 623.33,793.71 624.59,788.75 625.86,771.88 627.13,768.5 628.39,782.4 629.66,790.34 630.92,776.44 632.19,777.83 633.46,784.78 634.72,777.83 635.99,786.76 637.25,781.8 638.52,789.74 639.79,783.79 641.05,792.72 642.32,779.82 643.58,777.24 644.85,767.9 646.12,778.43 647.38,791.73 648.65,796.69 649.91,792.72 651.18,794.71 652.45,797.68 653.71,799.67 654.98,801.65 656.24,802.65 657.51,784.38 658.78,790.34 660.04,779.22 661.31,770.49 662.57,780.41 663.84,786.37 665.11,789.74 666.37,793.71 667.64,798.68 668.9,789.74 670.17,792.72 671.44,789.74 672.7,797.68 673.97,805.03 675.23,787.76 676.5,790.74" fill="none" stroke="#0000ff" stroke-width="1" stroke-linejoin="round"/>
<g fill="#00ff00" stroke="#0000ff" stroke-width="1"><circle cx="44.77" cy="855.19" r="1.5"/><circle cx="46.03" cy="845.91" r="1.5"/><circle cx="47.3" cy="843.13" r="1.5"/><circle cx="48.56" cy="836.63" r="1.5"/><circle cx="49.83" cy="856.11" r="1.5"/><circle cx="51.1" cy="852.4" r="1.5"/><circle cx="52.36" cy="853.33" r="1.5"/><circle cx="53.63" cy="853.33" r="1.5"/><circle cx="54.89" cy="842.2" r="1.5"/><circle cx="56.16" cy="833.29" r="1.5"/><circle cx="57.43" cy="842.2" r="1.5"/><circle cx="58.69" cy="833.29" r="1.5"/><circle cx="59.96" cy="829.77" r="1.5"/><circle cx="61.22" cy="851.47" r="1.5"/><circle cx="62.49" cy="862.24" r="1.5"/><circle cx="63.76" cy="852.4" r="1.5"/><circle cx="65.02" cy="857.97" r="1.5"/><circle cx="66.29" cy="843.13" r="1.5"/><circle cx="67.55" cy="856.11" r="1.5"/><circle cx="68.82" cy="842.2" r="1.5"/><circle cx="70.09" cy="856.11" r="1.5"/><circle cx="71.35" cy="843.13" r="1.5"/><circle cx="72.62" cy="840.71" r="1.5"/><circle cx="73.88" cy="832.55" r="1.5"/><circle cx="75.15" cy="856.11" r="1.5"/><circle cx="76.42" cy="862.24" r="1.5"/><circle cx="77.68" cy="871.88" r="1.5"/><circle cx="78.95" cy="868.54" r="1.5"/><circle cx="80.21" cy="872.81" r="1.5"/><circle cx="81.48" cy="868.54" r="1.5"/><circle cx="82.75" cy="871.51" r="1.5"/><circle cx="84.01" cy="843.68" r="1.5"/><circle cx="85.28" cy="849.62" r="1.5"/><circle cx="86.54" cy="830.7" r="1.5"/><circle cx="87.81" cy="847.7" r="1.5"/><circle cx="89.08" cy="831.99" r="1.5"/><circle cx="90.34" cy="856.11" r="1.5"/><circle cx="91.61" cy="862.24" r="1.5"/><circle cx="92.87" cy="845.54" r="1.5"/><circle cx="94.14" cy="834.41" r="1.5"/><circle cx="95.41" cy="849.25" r="1.5"/><circle cx="96.67" cy="851.47" r="1.5"/><circle cx="97.94" cy="873.18" r="1.5"/><circle cx="99.2" cy="864.46" r="1.5"/><circle cx="100.47" cy="860.75" r="1.5"/><circle cx="101.74" cy="863.53" r="1.5"/><circle cx="103" cy="860.75" r="1.5"/><circle cx="104.27" cy="881.53" r="1.5"/><circle cx="105.53" cy="883.94" r="1.5"/><circle cx="106.8" cy="877.45" r="1.5"/><circle cx="108.07" cy="868.54" r="1.5"/><circle cx="109.33" cy="872.81" r="1.5"/><circle cx="110.6" cy="869.1" r="1.5"/><circle cx="111.86" cy="865.39" r="1.5"/><circle cx="113.13" cy="842.2" r="1.5"/><circle cx="114.4" cy="849.62" r="1.5"/><circle cx="115.66" cy="840.71" r="1.5"/><circle cx="116.93" cy="862.98" r="1.5"/><circle cx="118.19" cy="856.67" r="1.5"/><circle cx="119.46" cy="869.1" r="1.5"/><circle cx="120.73" cy="867.24" r="1.5"/><circle cx="121.99" cy="861.68" r="1.5"/><circle cx="123.26" cy="868.54" r="1.5"/><circle cx="124.52" cy="866.32" r="1.5"/><circle cx="125.79" cy="853.33" r="1.5"/><circle cx="127.06" cy="838.49" r="1.5"/><circle cx="128.32" cy="852.96" r="1.5"/><circle cx="129.59" cy="851.47" r="1.5"/><circle cx="130.85" cy="843.68" r="1.5"/><circle cx="132.12" cy="842.57" r="1.5"/><circle cx="133.39" cy="841.27" r="1.5"/><circle cx="134.65" cy="857.04" r="1.5"/><circle cx="135.92" cy="858.9" r="1.5"/><circle cx="137.18" cy="858.53" r="1.5"/><circle cx="138.45" cy="843.68" r="1.5"/><circle cx="139.72" cy="851.47" r="1.5"/><circle cx="140.98" cy="851.1" r="1.5"/><circle cx="142.25" cy="852.96" r="1.5"/><circle cx="143.51" cy="856.67" r="1.5"/><circle cx="144.78" cy="869.1" r="1.5"/><circle cx="146.05" cy="875.22" r="1.5"/><circle cx="147.31" cy="857.97" r="1.5"/><circle cx="148.58" cy="870.96" r="1.5"/><circle cx="149.84" cy="858.53" r="1.5"/><circle cx="151.11" cy="859.82" r="1.5"/><circle cx="152.38" cy="861.68" r="1.5"/><circle cx="153.64" cy="859.82" r="1.5"/><circle cx="154.91" cy="863.53" r="1.5"/><circle cx="156.17" cy="865.39" r="1.5"/><circle cx="157.44" cy="867.24" r="1.5"/><circle cx="158.71" cy="852.4" r="1.5"/><circle cx="159.97" cy="837" r="1.5"/><circle cx="161.24" cy="845.54" r="1.5"/><circle cx="162.5" cy="854.26" r="1.5"/><circle cx="163.77" cy="845.54" r="1.5"/><circle cx="165.04" cy="845.54" r="1.5"/><circle cx="166.3" cy="855.19" r="1.5"/><circle cx="167.57" cy="857.97" r="1.5"/><circle cx="168.83" cy="846.84" r="1.5"/><circle cx="170.1" cy="849.62" r="1.5"/><circle cx="171.37" cy="841.27" r="1.5"/><circle cx="172.63" cy="848.69" r="1.5"/><circle cx="173.9" cy="859.82" r="1.5"/><circle cx="175.16" cy="867.24" r="1.5"/><circle cx="176.43" cy="859.27" r="1.5"/><circle cx="177.7" cy="869.1" r="1.5"/><circle cx="178.96" cy="859.82" r="1.5"/><circle cx="180.23" cy="878.93" r="1.5"/><circle cx="181.49" cy="869.1" r="1.5"/><circle cx="182.76" cy="881.53" r="1.5"/><circle cx="184.03" cy="871.51" r="1.5"/><circle cx="185.29" cy="851.85" r="1.5"/><circle cx="186.56" cy="843.13" r="1.5"/><circle cx="187.82" cy="841.27" r="1.5"/><circle cx="189.09" cy="845.54" r="1.5"/><circle cx="190.36" cy="846.84" r="1.5"/><circle cx="191.62" cy="861.68" r="1.5"/><circle cx="192.89" cy="842.57" r="1.5"/><circle cx="194.15" cy="836.63" r="1.5"/><circle cx="195.42" cy="849.25" r="1.5"/><circle cx="196.69" cy="843.68" r="1.5"/><circle cx="197.95" cy="844.98" r="1.5"/><circle cx="199.22" cy="846.84" r="1.5"/><circle cx="200.48" cy="843.13" r="1.5"/><circle cx="201.75" cy="845.54" r="1.5"/><circle cx="203.02" cy="850.55" r="1.5"/><circle cx="204.28" cy="841.83" r="1.5"/><circle cx="205.55" cy="850.55" r="1.5"/><circle cx="206.81" cy="848.69" r="1.5"/><circle cx="208.08" cy="854.81" r="1.5"/><circle cx="209.35" cy="865.39" r="1.5"/><circle cx="210.61" cy="852.4" r="1.5"/><circle cx="211.88" cy="855.19" r="1.5"/><circle cx="213.14" cy="851.47" r="1.5"/><circle cx="214.41" cy="841.83" r="1.5"/><circle cx="215.68" cy="836.63" r="1.5"/><circle cx="216.94" cy="833.85" r="1.5"/><circle cx="218.21" cy="857.97" r="1.5"/><circle cx="219.47" cy="858.9" r="1.5"/><circle cx="220.74" cy="866.87" r="1.5"/><circle cx="222.01" cy="848.14" r="1.5"/><circle cx="223.27" cy="859.27" r="1.5"/><circle cx="224.54" cy="858.9" r="1.5"/><circle cx="225.8" cy="870.03" r="1.5"/><circle cx="227.07" cy="865.39" r="1.5"/><circle cx="228.34" cy="855.74" r="1.5"/><circle cx="229.6" cy="850.55" r="1.5"/><circle cx="230.87" cy="840.71" r="1.5"/><circle cx="232.13" cy="842.9" r="1.5"/><circle cx="233.4" cy="845.05" r="1.5"/><circle cx="234.67" cy="853.64" r="1.5"/><circle cx="235.93" cy="842.9" r="1.5"/><circle cx="237.2" cy="835.42" r="1.5"/><circle cx="238.46" cy="845.7" r="1.5"/><circle cx="239.73" cy="852.24" r="1.5"/><circle cx="241" cy="855.51" r="1.5"/><circle cx="242.26" cy="874.21" r="1.5"/><circle cx="243.53" cy="851.31" r="1.5"/><circle cx="244.79" cy="861.31" r="1.5"/><circle cx="246.06" cy="849.91" r="1.5"/><circle cx="247.33" cy="847.57" r="1.5"/><circle cx="248.59" cy="859.44" r="1.5"/><circle cx="249.86" cy="862.99" r="1.5"/><circle cx="251.12" cy="860.65" r="1.5"/><circle cx="252.39" cy="848.04" r="1.5"/><circle cx="253.66" cy="848.97" r="1.5"/><circle cx="254.92" cy="848.97" r="1.5"/><circle cx="256.19" cy="857.38" r="1.5"/><circle cx="257.45" cy="852.71" r="1.5"/><circle cx="258.72" cy="848.22" r="1.5"/><circle cx="259.99" cy="848.97" r="1.5"/><circle cx="261.25" cy="848.97" r="1.5"/><circle cx="262.52" cy="854.11" r="1.5"/><circle cx="263.78" cy="848.79" r="1.5"/><circle cx="265.05" cy="850.37" r="1.5"/><circle cx="266.32" cy="851.31" r="1.5"/><circle cx="267.58" cy="845.23" r="1.5"/><circle cx="268.85" cy="861.87" r="1.5"/><circle cx="270.11" cy="880.28" r="1.5"/><circle cx="271.38" cy="865.05" r="1.5"/><circle cx="272.65" cy="876.54" r="1.5"/><circle cx="273.91" cy="877.94" r="1.5"/><circle cx="275.18" cy="869.72" r="1.5"/><circle cx="276.44" cy="856.26" r="1.5"/><circle cx="277.71" cy="866.26" r="1.5"/><circle cx="278.98" cy="855.05" r="1.5"/><circle cx="280.24" cy="863.18" r="1.5"/><circle cx="281.51" cy="858.32" r="1.5"/><circle cx="282.77" cy="870.93" r="1.5"/><circle cx="284.04" cy="853.46" r="1.5"/><circle cx="285.31" cy="841.31" r="1.5"/><circle cx="286.57" cy="846.17" r="1.5"/><circle cx="287.84" cy="852.24" r="1.5"/><circle cx="289.1" cy="860.37" r="1.5"/><circle cx="290.37" cy="869.35" r="1.5"/><circle cx="291.64" cy="871.87" r="1.5"/><circle cx="292.9" cy="865.79" r="1.5"/><circle cx="294.17" cy="862.99" r="1.5"/><circle cx="295.43" cy="873.27" r="1.5"/><circle cx="296.7" cy="861.68" r="1.5"/><circle cx="297.97" cy="864.46" r="1.5"/><circle cx="299.23" cy="862.61" r="1.5"/><circle cx="300.5" cy="873.74" r="1.5"/><circle cx="301.76" cy="862.61" r="1.5"/><circle cx="303.03" cy="860.38" r="1.5"/><circle cx="304.3" cy="847.76" r="1.5"/><circle cx="305.56" cy="841.83" r="1.5"/><circle cx="306.83" cy="852.4" r="1.5"/><circle cx="308.09" cy="867.24" r="1.5"/><circle cx="309.36" cy="883.39" r="1.5"/><circle cx="310.63" cy="874.67" r="1.5"/><circle cx="311.89" cy="862.61" r="1.5"/><circle cx="313.16" cy="857.04" r="1.5"/><circle cx="314.42" cy="862.61" r="1.5"/><circle cx="315.69" cy="849.62" r="1.5"/><circle cx="316.96" cy="854.81" r="1.5"/><circle cx="318.22" cy="852.96" r="1.5"/><circle cx="319.49" cy="846.28" r="1.5"/><circle cx="320.75" cy="848.69" r="1.5"/><circle cx="322.02" cy="854.26" r="1.5"/><circle cx="323.29" cy="860.75" r="1.5"/><circle cx="324.55" cy="846.84" r="1.5"/><circle cx="325.82" cy="861.12" r="1.5"/><circle cx="327.08" cy="855.19" r="1.5"/><circle cx="328.35" cy="840.34" r="1.5"/><circle cx="329.62" cy="842.6" r="1.5"/><circle cx="330.88" cy="852.96" r="1.5"/><circle cx="332.15" cy="849.62" r="1.5"/><circle cx="333.41" cy="850.55" r="1.5"/><circle cx="334.68" cy="851.47" r="1.5"/><circle cx="335.95" cy="864.09" r="1.5"/><circle cx="337.21" cy="872.81" r="1.5"/><circle cx="338.48" cy="877.45" r="1.5"/><circle cx="339.74" cy="867.8" r="1.5"/><circle cx="341.01" cy="873.37" r="1.5"/><circle cx="342.28" cy="849.99" r="1.5"/><circle cx="343.54" cy="846.84" r="1.5"/><circle cx="344.81" cy="851.1" r="1.5"/><circle cx="346.07" cy="859.82" r="1.5"/><circle cx="347.34" cy="862.24" r="1.5"/><circle cx="348.61" cy="856.11" r="1.5"/><circle cx="349.87" cy="855.19" r="1.5"/><circle cx="351.14" cy="847.76" r="1.5"/><circle cx="352.4" cy="844.05" r="1.5"/><circle cx="353.67" cy="841.3" r="1.5"/><circle cx="354.94" cy="849.25" r="1.5"/><circle cx="356.2" cy="852.96" r="1.5"/><circle cx="357.47" cy="879.3" r="1.5"/><circle cx="358.73" cy="877.08" r="1.5"/><circle cx="360" cy="869.1" r="1.5"/><circle cx="361.27" cy="843.68" r="1.5"/><circle cx="362.53" cy="862.98" r="1.5"/><circle cx="363.8" cy="850.55" r="1.5"/><circle cx="365.06" cy="876.52" r="1.5"/><circle cx="366.33" cy="871.88" r="1.5"/><circle cx="367.6" cy="865.95" r="1.5"/><circle cx="368.86" cy="881.16" r="1.5"/><circle cx="370.13" cy="865.39" r="1.5"/><circle cx="371.39" cy="871.51" r="1.5"/><circle cx="372.66" cy="842.8" r="1.5"/><circle cx="373.93" cy="844.7" r="1.5"/><circle cx="375.19" cy="843" r="1.5"/><circle cx="376.46" cy="846.7" r="1.5"/><circle cx="377.72" cy="849.99" r="1.5"/><circle cx="378.99" cy="847.39" r="1.5"/><circle cx="380.26" cy="848.69" r="1.5"/><circle cx="381.52" cy="849.62" r="1.5"/><circle cx="382.79" cy="860.75" r="1.5"/><circle cx="384.05" cy="859.82" r="1.5"/><circle cx="385.32" cy="862.24" r="1.5"/><circle cx="386.59" cy="845.54" r="1.5"/><circle cx="387.85" cy="862.98" r="1.5"/><circle cx="389.12" cy="860.75" r="1.5"/><circle cx="390.38" cy="882.64" r="1.5"/><circle cx="391.65" cy="874.67" r="1.5"/><circle cx="392.92" cy="851.1" r="1.5"/><circle cx="394.18" cy="844.05" r="1.5"/><circle cx="395.45" cy="853.33" r="1.5"/><circle cx="396.71" cy="863.53" r="1.5"/><circle cx="397.98" cy="865.39" r="1.5"/><circle cx="399.25" cy="835.71" r="1.5"/><circle cx="400.51" cy="840.34" r="1.5"/><circle cx="401.78" cy="856.11" r="1.5"/><circle cx="403.04" cy="858.53" r="1.5"/><circle cx="404.31" cy="857.04" r="1.5"/><circle cx="405.58" cy="867.24" r="1.5"/><circle cx="406.84" cy="862.61" r="1.5"/><circle cx="408.11" cy="862.24" r="1.5"/><circle cx="409.37" cy="856.11" r="1.5"/><circle cx="410.64" cy="859.82" r="1.5"/><circle cx="411.91" cy="864.46" r="1.5"/><circle cx="413.17" cy="859.82" r="1.5"/><circle cx="414.44" cy="839.42" r="1.5"/><circle cx="415.7" cy="850" r="1.5"/><circle cx="416.97" cy="849.25" r="1.5"/><circle cx="418.24" cy="845.91" r="1.5"/><circle cx="419.5" cy="857.5" r="1.5"/><circle cx="420.77" cy="852.96" r="1.5"/><circle cx="422.03" cy="849.99" r="1.5"/><circle cx="423.3" cy="865.39" r="1.5"/><circle cx="424.57" cy="784.68" r="1.5"/><circle cx="425.83" cy="786.54" r="1.5"/><circle cx="427.1" cy="771.33" r="1.5"/><circle cx="428.36" cy="765.76" r="1.5"/><circle cx="429.63" cy="776.34" r="1.5"/><circle cx="430.9" cy="772.63" r="1.5"/><circle cx="432.16" cy="786.17" r="1.5"/><circle cx="433.43" cy="797.67" r="1.5"/><circle cx="434.69" cy="807.32" r="1.5"/><circle cx="435.96" cy="781.9" r="1.5"/><circle cx="437.23" cy="788.4" r="1.5"/><circle cx="438.49" cy="793.03" r="1.5"/><circle cx="439.76" cy="802.31" r="1.5"/><circle cx="441.02" cy="805.09" r="1.5"/><circle cx="442.29" cy="807.32" r="1.5"/><circle cx="443.56" cy="797.67" r="1.5"/><circle cx="444.82" cy="791.73" r="1.5"/><circle cx="446.09" cy="797.3" r="1.5"/><circle cx="447.35" cy="776.89" r="1.5"/><circle cx="448.62" cy="770.21" r="1.5"/><circle cx="449.89" cy="768.36" r="1.5"/><circle cx="451.15" cy="776.89" r="1.5"/><circle cx="452.42" cy="791.73" r="1.5"/><circle cx="453.68" cy="804.17" r="1.5"/><circle cx="454.95" cy="778.19" r="1.5"/><circle cx="456.22" cy="779.12" r="1.5"/><circle cx="457.48" cy="785.61" r="1.5"/><circle cx="458.75" cy="789.32" r="1.5"/><circle cx="460.01" cy="795.45" r="1.5"/><circle cx="461.28" cy="799.9" r="1.5"/><circle cx="462.55" cy="787.47" r="1.5"/><circle cx="463.81" cy="786.54" r="1.5"/><circle cx="465.08" cy="769.47" r="1.5"/><circle cx="466.34" cy="783.2" r="1.5"/><circle cx="467.61" cy="778.75" r="1.5"/><circle cx="468.88" cy="770.77" r="1.5"/><circle cx="470.14" cy="774.48" r="1.5"/><circle cx="471.41" cy="773.55" r="1.5"/><circle cx="472.67" cy="781.53" r="1.5"/><circle cx="473.94" cy="782.46" r="1.5"/><circle cx="475.21" cy="793.96" r="1.5"/><circle cx="476.47" cy="803.61" r="1.5"/><circle cx="477.74" cy="778.19" r="1.5"/><circle cx="479" cy="785.61" r="1.5"/><circle cx="480.27" cy="781.9" r="1.5"/><circle cx="481.54" cy="784.68" r="1.5"/><circle cx="482.8" cy="789.32" r="1.5"/><circle cx="484.07" cy="801.01" r="1.5"/><circle cx="485.33" cy="795.45" r="1.5"/><circle cx="486.6" cy="799.53" r="1.5"/><circle cx="487.87" cy="788.4" r="1.5"/><circle cx="489.13" cy="794.89" r="1.5"/><circle cx="490.4" cy="800.45" r="1.5"/><circle cx="491.66" cy="801.38" r="1.5"/><circle cx="492.93" cy="802.31" r="1.5"/><circle cx="494.2" cy="802.31" r="1.5"/><circle cx="495.46" cy="781.9" r="1.5"/><circle cx="496.73" cy="770.77" r="1.5"/><circle cx="497.99" cy="784.31" r="1.5"/><circle cx="499.26" cy="779.12" r="1.5"/><circle cx="500.53" cy="767.99" r="1.5"/><circle cx="501.79" cy="777.63" r="1.5"/><circle cx="503.06" cy="793.59" r="1.5"/><circle cx="504.32" cy="807.32" r="1.5"/><circle cx="505.59" cy="784.31" r="1.5"/><circle cx="506.86" cy="780.6" r="1.5"/><circle cx="508.12" cy="783.2" r="1.5"/><circle cx="509.39" cy="795.45" r="1.5"/><circle cx="510.65" cy="781.9" r="1.5"/><circle cx="511.92" cy="791.18" r="1.5"/><circle cx="513.19" cy="798.6" r="1.5"/><circle cx="514.45" cy="793.03" r="1.5"/><circle cx="515.72" cy="777.63" r="1.5"/><circle cx="516.98" cy="780.97" r="1.5"/><circle cx="518.25" cy="786.54" r="1.5"/><circle cx="519.52" cy="775.04" r="1.5"/><circle cx="520.78" cy="783.76" r="1.5"/><circle cx="522.05" cy="778.75" r="1.5"/><circle cx="523.31" cy="781.9" r="1.5"/><circle cx="524.58" cy="788.77" r="1.5"/><circle cx="525.85" cy="782.46" r="1.5"/><circle cx="527.11" cy="777.63" r="1.5"/><circle cx="528.38" cy="785.61" r="1.5"/><circle cx="529.64" cy="782.83" r="1.5"/><circle cx="530.91" cy="793.59" r="1.5"/><circle cx="532.18" cy="804.17" r="1.5"/><circle cx="533.44" cy="808.43" r="1.5"/><circle cx="534.71" cy="791.18" r="1.5"/><circle cx="535.97" cy="791.73" r="1.5"/><circle cx="537.24" cy="775.41" r="1.5"/><circle cx="538.51" cy="787.47" r="1.5"/><circle cx="539.77" cy="799.53" r="1.5"/><circle cx="541.04" cy="808.43" r="1.5"/><circle cx="542.3" cy="788.77" r="1.5"/><circle cx="543.57" cy="790.62" r="1.5"/><circle cx="544.84" cy="771.33" r="1.5"/><circle cx="546.1" cy="778.19" r="1.5"/><circle cx="547.37" cy="778.75" r="1.5"/><circle cx="548.63" cy="769.84" r="1.5"/><circle cx="549.9" cy="775.41" r="1.5"/><circle cx="551.17" cy="773.26" r="1.5"/><circle cx="552.43" cy="770.49" r="1.5"/><circle cx="553.7" cy="781.8" r="1.5"/><circle cx="554.96" cy="788.35" r="1.5"/><circle cx="556.23" cy="798.28" r="1.5"/><circle cx="557.5" cy="801.65" r="1.5"/><circle cx="558.76" cy="802.25" r="1.5"/><circle cx="560.03" cy="773.86" r="1.5"/><circle cx="561.29" cy="764.93" r="1.5"/><circle cx="562.56" cy="770.88" r="1.5"/><circle cx="563.83" cy="783.19" r="1.5"/><circle cx="565.09" cy="793.71" r="1.5"/><circle cx="566.36" cy="790.74" r="1.5"/><circle cx="567.62" cy="797.68" r="1.5"/><circle cx="568.89" cy="803.64" r="1.5"/><circle cx="570.16" cy="808.21" r="1.5"/><circle cx="571.42" cy="802.25" r="1.5"/><circle cx="572.69" cy="788.35" r="1.5"/><circle cx="573.95" cy="771.88" r="1.5"/><circle cx="575.22" cy="780.81" r="1.5"/><circle cx="576.49" cy="793.71" r="1.5"/><circle cx="577.75" cy="794.71" r="1.5"/><circle cx="579.02" cy="774.85" r="1.5"/><circle cx="580.28" cy="772.87" r="1.5"/><circle cx="581.55" cy="769.89" r="1.5"/><circle cx="582.82" cy="773.86" r="1.5"/><circle cx="584.08" cy="780.41" r="1.5"/><circle cx="585.35" cy="788.35" r="1.5"/><circle cx="586.61" cy="796.29" r="1.5"/><circle cx="587.88" cy="797.68" r="1.5"/><circle cx="589.15" cy="802.25" r="1.5"/><circle cx="590.41" cy="801.65" r="1.5"/><circle cx="591.68" cy="805.03" r="1.5"/><circle cx="592.94" cy="785.77" r="1.5"/><circle cx="594.21" cy="791.73" r="1.5"/><circle cx="595.48" cy="782.79" r="1.5"/><circle cx="596.74" cy="791.13" r="1.5"/><circle cx="598.01" cy="797.68" r="1.5"/><circle cx="599.27" cy="776.44" r="1.5"/><circle cx="600.54" cy="772.47" r="1.5"/><circle cx="601.81" cy="771.88" r="1.5"/><circle cx="603.07" cy="785.77" r="1.5"/><circle cx="604.34" cy="789.74" r="1.5"/><circle cx="605.6" cy="797.68" r="1.5"/><circle cx="606.87" cy="790.34" r="1.5"/><circle cx="608.14" cy="794.71" r="1.5"/><circle cx="609.4" cy="799.67" r="1.5"/><circle cx="610.67" cy="773.86" r="1.5"/><circle cx="611.93" cy="780.41" r="1.5"/><circle cx="613.2" cy="782.79" r="1.5"/><circle cx="614.47" cy="794.71" r="1.5"/><circle cx="615.73" cy="772.47" r="1.5"/><circle cx="617" cy="778.82" r="1.5"/><circle cx="618.26" cy="782.79" r="1.5"/><circle cx="619.53" cy="788.35" r="1.5"/><circle cx="620.8" cy="795.7" r="1.5"/><circle cx="622.06" cy="791.73" r="1.5"/><circle cx="623.33" cy="793.71" r="1.5"/><circle cx="624.59" cy="788.75" r="1.5"/><circle cx="625.86" cy="771.88" r="1.5"/><circle cx="627.13" cy="768.5" r="1.5"/><circle cx="628.39" cy="782.4" r="1.5"/><circle cx="629.66" cy="790.34" r="1.5"/><circle cx="630.92" cy="776.44" r="1.5"/><circle cx="632.19" cy="777.83" r="1.5"/><circle cx="633.46" cy="784.78" r="1.5"/><circle cx="634.72" cy="777.83" r="1.5"/><circle cx="635.99" cy="786.76" r="1.5"/><circle cx="637.25" cy="781.8" r="1.5"/><circle cx="638.52" cy="789.74" r="1.5"/><circle cx="639.79" cy="783.79" r="1.5"/><circle cx="641.05" cy="792.72" r="1.5"/><circle cx="642.32" cy="779.82" r="1.5"/><circle cx="643.58" cy="777.24" r="1.5"/><circle cx="644.85" cy="767.9" r="1.5"/><circle cx="646.12" cy="778.43" r="1.5"/><circle cx="647.38" cy="791.73" r="1.5"/><circle cx="648.65" cy="796.69" r="1.5"/><circle cx="649.91" cy="792.72" r="1.5"/><circle cx="651.18" cy="794.71" r="1.5"/><circle cx="652.45" cy="797.68" r="1.5"/><circle cx="653.71" cy="799.67" r="1.5"/><circle cx="654.98" cy="801.65" r="1.5"/><circle cx="656.24" cy="802.65" r="1.5"/><circle cx="657.51" cy="784.38" r="1.5"/><circle cx="658.78" cy="790.34" r="1.5"/><circle cx="660.04" cy="779.22" r="1.5"/><circle cx="661.31" cy="770.49" r="1.5"/><circle cx="662.57" cy="780.41" r="1.5"/><circle cx="663.84" cy="786.37" r="1.5"/><circle cx="665.11" cy="789.74" r="1.5"/><circle cx="666.37" cy="793.71" r="1.5"/><circle cx="667.64" cy="798.68" r="1.5"/><circle cx="668.9" cy="789.74" r="1.5"/><circle cx="670.17" cy="792.72" r="1.5"/><circle cx="671.44" cy="789.74" r="1.5"/><circle cx="672.7" cy="797.68" r="1.5"/><circle cx="673.97" cy="805.03" r="1.5"/><circle cx="675.23" cy="787.76" r="1.5"/><circle cx="676.5" cy="790.74" r="1.5"/></g>
<polyline points="44.77,831.4 106.8,831.4 108.07,838.5 170.1,838.5 171.37,838.5 233.4,838.5 234.67,842.8 296.7,842.8 297.97,837.5 360,837.5 361.27,838.2 423.3,838.2 424.57,838.2 486.6,838.2 487.87,838.2 549.9,838.2 551.17,838.2 613.2,838.2 614.47,838.2 676.5,838.2" fill="none" stroke="#ff5050" stroke-width="1.6" stroke-dasharray="4.4 2.4"/>
<polyline points="44.77,977.85 46.03,978.23 47.3,985.51 48.56,979.19 49.83,965.98 51.1,971.53 52.36,977.27 53.63,988.76 54.89,990.68 56.16,977.27 57.43,970.19 58.69,975.4 59.96,968.28 61.22,964.83 62.49,972.49 63.76,986.85 65.02,980.53 66.29,977.85 67.55,977.27 68.82,966.8 70.09,971.53 71.35,966.74 72.62,970.96 73.88,965.79 75.15,969.62 76.42,971.53 77.68,1002.16 78.95,999.29 80.21,1016.52 81.48,982.06 82.75,982.06 84.01,980.53 85.28,978.61 86.54,975.2 87.81,982.06 89.08,969.62 90.34,966.74 91.61,985.51 92.87,991.25 94.14,1003.12 95.41,972.49 96.67,966.8 97.94,984.93 99.2,991.25 100.47,992.59 101.74,1001.59 103,1002.74 104.27,990.68 105.53,997.76 106.8,1008.48 108.07,998.91 109.33,1000.25 110.6,1000.82 111.86,980.15 113.13,980.53 114.4,977.85 115.66,976.7 116.93,976.7 118.19,979.19 119.46,981.1 120.73,983.02 121.99,1000.25 123.26,1015.57 124.52,1020.74 125.79,1005.99 127.06,981.1 128.32,966.74 129.59,983.98 130.85,976.32 132.12,993.17 133.39,993.55 134.65,991.25 135.92,988.19 137.18,995.46 138.45,1007.33 139.72,975.36 140.98,975.36 142.25,983.02 143.51,998.91 144.78,1013.08 146.05,985.89 147.31,988.76 148.58,978.61 149.84,983.02 151.11,987.42 152.38,985.89 153.64,986.85 154.91,991.25 156.17,995.46 157.44,1011.74 158.71,971.53 159.97,972.49 161.24,981.68 162.5,975.36 163.77,1004.65 165.04,991.25 166.3,977.27 167.57,980.15 168.83,983.02 170.1,985.09 171.37,972.29 172.63,979.49 173.9,981.07 175.16,1018.27 176.43,978.08 177.7,976.68 178.96,982.29 180.23,984.63 181.49,1002.66 182.76,1034.63 184.03,1001.92 185.29,1008.93 186.56,974.63 187.82,979.49 189.09,984.16 190.36,982.1 191.62,973.41 192.89,976.21 194.15,984.35 195.42,1008.93 196.69,1008.93 197.95,979.49 199.22,977.15 200.48,1008.93 201.75,1025.75 203.02,982.76 204.28,986.03 205.55,982.76 206.81,979.02 208.08,991.17 209.35,985.09 210.61,986.03 211.88,985.09 213.14,986.96 214.41,984.63 215.68,986.5 216.94,980.42 218.21,986.5 219.47,979.02 220.74,987.9 222.01,976.21 223.27,986.03 224.54,984.16 225.8,986.96 227.07,986.96 228.34,986.03 229.6,985.56 230.87,982.29 232.13,985.56 233.4,1006.12 234.67,1005.42 235.93,970.19 237.2,969.62 238.46,969.62 239.73,970.19 241,975.36 242.26,981.68 243.53,986.85 244.79,978.23 246.06,970.96 247.33,974.4 248.59,976.7 249.86,986.27 251.12,986.85 252.39,966.74 253.66,974.4 254.92,978.61 256.19,966.74 257.45,966.36 258.72,971.53 259.99,979.19 261.25,988.19 262.52,1004.08 263.78,983.02 265.05,992.02 266.32,975.36 267.58,974.79 268.85,986.85 270.11,1005.42 271.38,1009.82 272.65,988.19 273.91,980.15 275.18,987.42 276.44,1010.4 277.71,990.1 278.98,985.51 280.24,986.27 281.51,996.42 282.77,997.76 284.04,983.59 285.31,986.27 286.57,964.83 287.84,971.53 289.1,987.8 290.37,980.53 291.64,978.61 292.9,983.02 294.17,993.55 295.43,990.68 296.7,979.76 297.97,985.89 299.23,990.68 300.5,991.25 301.76,986.85 303.03,981.68 304.3,981.1 305.56,974.79 306.83,968.28 308.09,978.23 309.36,989.34 310.63,979.76 311.89,979.76 313.16,1009.25 314.42,979.19 315.69,981.68 316.96,988.19 318.22,1001.21 319.49,993.17 320.75,993.17 322.02,1013.65 323.29,989.72 324.55,987.42 325.82,975.36 327.08,987.8 328.35,979.19 329.62,991.63 330.88,987.8 332.15,987.8 333.41,977.85 334.68,993.17 335.95,1023.23 337.21,982.44 338.48,983.98 339.74,1018.82 341.01,989.34 342.28,980.15 343.54,989.34 344.81,1000.82 346.07,998.34 347.34,991.63 348.61,970.57 349.87,982.44 351.14,980.53 352.4,984.93 353.67,979.19 354.94,979 356.2,975.93 357.47,989.72 358.73,980.53 360,988.19 361.27,991.63 362.53,972.87 363.8,974.79 365.06,975.36 366.33,977.27 367.6,1008.48 368.86,1000.82 370.13,1000.82 371.39,980.15 372.66,982.06 373.93,986.85 375.19,991.63 376.46,991.63 377.72,991.25 378.99,972.87 380.26,993.93 381.52,990.68 382.79,1046.2 384.05,976.7 385.32,977.27 386.59,977.85 387.85,977.27 389.12,995.08 390.38,986.85 391.65,983.98 392.92,982.44 394.18,977.85 395.45,971.53 396.71,983.02 397.98,983.59 399.25,975.36 400.51,971.53 401.78,998.91 403.04,995.85 404.31,981.68 405.58,974.79 406.84,975.93 408.11,995.85 409.37,981.68 410.64,974.4 411.91,975.93 413.17,977.27 414.44,1008.48 415.7,1001.21 416.97,981.1 418.24,981.68 419.5,985.51 420.77,985.51 422.03,969.62 423.3,983.98 424.57,947.21 425.83,944.73 427.1,940.32 428.36,957.17 429.63,938.02 430.9,942.24 432.16,944.15 433.43,939.94 434.69,958.7 435.96,960.04 437.23,948.55 438.49,943.38 439.76,955.26 441.02,952.96 442.29,959.47 443.56,959.09 444.82,964.83 446.09,950.47 447.35,951.43 448.62,958.13 449.89,942.81 451.15,942.81 452.42,942.24 453.68,948.55 454.95,957.17 456.22,949.51 457.48,940.32 458.75,953.72 460.01,954.3 461.28,951.81 462.55,962.91 463.81,956.21 465.08,951.04 466.34,939.94 467.61,938.02 468.88,970.57 470.14,943.38 471.41,943.77 472.67,948.55 473.94,948.55 475.21,946.07 476.47,945.3 477.74,955.26 479,944.73 480.27,939.56 481.54,958.7 482.8,948.55 484.07,949.13 485.33,955.26 486.6,951.43 487.87,952.38 489.13,954.3 490.4,946.64 491.66,960.04 492.93,959.47 494.2,956.21 495.46,961 496.73,963.87 497.99,938.41 499.26,940.32 500.53,979.19 501.79,939.56 503.06,938.02 504.32,952.96 505.59,961.96 506.86,955.64 508.12,944.73 509.39,946.64 510.65,950.47 511.92,948.55 513.19,941.85 514.45,964.83 515.72,968.28 516.98,949.13 518.25,945.3 519.52,957.17 520.78,944.15 522.05,943.77 523.31,955.26 524.58,945.68 525.85,950.47 527.11,958.7 528.38,944.15 529.64,949.51 530.91,949.13 532.18,944.15 533.44,958.13 534.71,966.36 535.97,955.26 537.24,950.47 538.51,943.77 539.77,938.98 541.04,957.17 542.3,960.62 543.57,953.72 544.84,948.55 546.1,946.07 547.37,939.94 548.63,951.81 549.9,943.77 551.17,945.16 552.43,942.5 553.7,941.06 554.96,941.06 556.23,953.35 557.5,958.07 558.76,958.48 560.03,956.84 561.29,956.02 562.56,939.01 563.83,940.45 565.09,948.23 566.36,956.84 567.62,953.35 568.89,949.26 570.16,954.79 571.42,957.45 572.69,968.31 573.95,963.6 575.22,943.11 576.49,940.04 577.75,956.84 579.02,969.74 580.28,950.28 581.55,944.13 582.82,943.72 584.08,947.21 585.35,948.23 586.61,953.35 587.88,949.87 589.15,950.69 590.41,956.02 591.68,952.33 592.94,955.4 594.21,956.02 595.48,951.31 596.74,945.77 598.01,945.77 599.27,951.31 600.54,956.84 601.81,942.09 603.07,943.72 604.34,952.33 605.6,947.21 606.87,958.89 608.14,953.97 609.4,946.59 610.67,956.84 611.93,944.13 613.2,939.01 614.47,948.64 615.73,945.77 617,947.21 618.26,939.01 619.53,953.35 620.8,952.74 622.06,952.33 623.33,947.21 624.59,948.23 625.86,964.21 627.13,949.26 628.39,936.96 629.66,942.5 630.92,966.67 632.19,949.26 633.46,941.68 634.72,951.31 635.99,943.72 637.25,946.18 638.52,945.16 639.79,946.59 641.05,950.28 642.32,946.18 643.58,958.07 644.85,947.21 646.12,941.68 647.38,940.04 648.65,955.4 649.91,960.93 651.18,953.35 652.45,951.31 653.71,956.43 654.98,953.97 656.24,955.4 657.51,953.97 658.78,949.87 660.04,944.54 661.31,964.62 662.57,940.04 663.84,941.68 665.11,959.09 666.37,950.28 667.64,951.31 668.9,959.5 670.17,952.74 671.44,949.26 672.7,953.35 673.97,947.82 675.23,958.48 676.5,952.74" fill="none" stroke="#0000ff" stroke-width="1" stroke-linejoin="round"/>
<g fill="#00ff00" stroke="#0000ff" stroke-width="1"><circle cx="44.77" cy="977.85" r="1.5"/><circle cx="46.03" cy="978.23" r="1.5"/><circle cx="47.3" cy="985.51" r="1.5"/><circle cx="48.56" cy="979.19" r="1.5"/><circle cx="49.83" cy="965.98" r="1.5"/><circle cx="51.1" cy="971.53" r="1.5"/><circle cx="52.36" cy="977.27" r="1.5"/><circle cx="53.63" cy="988.76" r="1.5"/><circle cx="54.89" cy="990.68" r="1.5"/><circle cx="56.16" cy="977.27" r="1.5"/><circle cx="57.43" cy="970.19" r="1.5"/><circle cx="58.69" cy="975.4" r="1.5"/><circle cx="59.96" cy="968.28" r="1.5"/><circle cx="61.22" cy="964.83" r="1.5"/><circle cx="62.49" cy="972.49" r="1.5"/><circle cx="63.76" cy="986.85" r="1.5"/><circle cx="65.02" cy="980.53" r="1.5"/><circle cx="66.29" cy="977.85" r="1.5"/><circle cx="67.55" cy="977.27" r="1.5"/><circle cx="68.82" cy="966.8" r="1.5"/><circle cx="70.09" cy="971.53" r="1.5"/><circle cx="71.35" cy="966.74" r="1.5"/><circle cx="72.62" cy="970.96" r="1.5"/><circle cx="73.88" cy="965.79" r="1.5"/><circle cx="75.15" cy="969.62" r="1.5"/><circle cx="76.42" cy="971.53" r="1.5"/><circle cx="77.68" cy="1002.16" r="1.5"/><circle cx="78.95" cy="999.29" r="1.5"/><circle cx="80.21" cy="1016.52" r="1.5"/><circle cx="81.48" cy="982.06" r="1.5"/><circle cx="82.75" cy="982.06" r="1.5"/><circle cx="84.01" cy="980.53" r="1.5"/><circle cx="85.28" cy="978.61" r="1.5"/><circle cx="86.54" cy="975.2" r="1.5"/><circle cx="87.81" cy="982.06" r="1.5"/><circle cx="89.08" cy="969.62" r="1.5"/><circle cx="90.34" cy="966.74" r="1.5"/><circle cx="91.61" cy="985.51" r="1.5"/><circle cx="92.87" cy="991.25" r="1.5"/><circle cx="94.14" cy="1003.12" r="1.5"/><circle cx="95.41" cy="972.49" r="1.5"/><circle cx="96.67" cy="966.8" r="1.5"/><circle cx="97.94" cy="984.93" r="1.5"/><circle cx="99.2" cy="991.25" r="1.5"/><circle cx="100.47" cy="992.59" r="1.5"/><circle cx="101.74" cy="1001.59" r="1.5"/><circle cx="103" cy="1002.74" r="1.5"/><circle cx="104.27" cy="990.68" r="1.5"/><circle cx="105.53" cy="997.76" r="1.5"/><circle cx="106.8" cy="1008.48" r="1.5"/><circle cx="108.07" cy="998.91" r="1.5"/><circle cx="109.33" cy="1000.25" r="1.5"/><circle cx="110.6" cy="1000.82" r="1.5"/><circle cx="111.86" cy="980.15" r="1.5"/><circle cx="113.13" cy="980.53" r="1.5"/><circle cx="114.4" cy="977.85" r="1.5"/><circle cx="115.66" cy="976.7" r="1.5"/><circle cx="116.93" cy="976.7" r="1.5"/><circle cx="118.19" cy="979.19" r="1.5"/><circle cx="119.46" cy="981.1" r="1.5"/><circle cx="120.73" cy="983.02" r="1.5"/><circle cx="121.99" cy="1000.25" r="1.5"/><circle cx="123.26" cy="1015.57" r="1.5"/><circle cx="124.52" cy="1020.74" r="1.5"/><circle cx="125.79" cy="1005.99" r="1.5"/><circle cx="127.06" cy="981.1" r="1.5"/><circle cx="128.32" cy="966.74" r="1.5"/><circle cx="129.59" cy="983.98" r="1.5"/><circle cx="130.85" cy="976.32" r="1.5"/><circle cx="132.12" cy="993.17" r="1.5"/><circle cx="133.39" cy="993.55" r="1.5"/><circle cx="134.65" cy="991.25" r="1.5"/><circle cx="135.92" cy="988.19" r="1.5"/><circle cx="137.18" cy="995.46" r="1.5"/><circle cx="138.45" cy="1007.33" r="1.5"/><circle cx="139.72" cy="975.36" r="1.5"/><circle cx="140.98" cy="975.36" r="1.5"/><circle cx="142.25" cy="983.02" r="1.5"/><circle cx="143.51" cy="998.91" r="1.5"/><circle cx="144.78" cy="1013.08" r="1.5"/><circle cx="146.05" cy="985.89" r="1.5"/><circle cx="147.31" cy="988.76" r="1.5"/><circle cx="148.58" cy="978.61" r="1.5"/><circle cx="149.84" cy="983.02" r="1.5"/><circle cx="151.11" cy="987.42" r="1.5"/><circle cx="152.38" cy="985.89" r="1.5"/><circle cx="153.64" cy="986.85" r="1.5"/><circle cx="154.91" cy="991.25" r="1.5"/><circle cx="156.17" cy="995.46" r="1.5"/><circle cx="157.44" cy="1011.74" r="1.5"/><circle cx="158.71" cy="971.53" r="1.5"/><circle cx="159.97" cy="972.49" r="1.5"/><circle cx="161.24" cy="981.68" r="1.5"/><circle cx="162.5" cy="975.36" r="1.5"/><circle cx="163.77" cy="1004.65" r="1.5"/><circle cx="165.04" cy="991.25" r="1.5"/><circle cx="166.3" cy="977.27" r="1.5"/><circle cx="167.57" cy="980.15" r="1.5"/><circle cx="168.83" cy="983.02" r="1.5"/><circle cx="170.1" cy="985.09" r="1.5"/><circle cx="171.37" cy="972.29" r="1.5"/><circle cx="172.63" cy="979.49" r="1.5"/><circle cx="173.9" cy="981.07" r="1.5"/><circle cx="175.16" cy="1018.27" r="1.5"/><circle cx="176.43" cy="978.08" r="1.5"/><circle cx="177.7" cy="976.68" r="1.5"/><circle cx="178.96" cy="982.29" r="1.5"/><circle cx="180.23" cy="984.63" r="1.5"/><circle cx="181.49" cy="1002.66" r="1.5"/><circle cx="182.76" cy="1034.63" r="1.5"/><circle cx="184.03" cy="1001.92" r="1.5"/><circle cx="185.29" cy="1008.93" r="1.5"/><circle cx="186.56" cy="974.63" r="1.5"/><circle cx="187.82" cy="979.49" r="1.5"/><circle cx="189.09" cy="984.16" r="1.5"/><circle cx="190.36" cy="982.1" r="1.5"/><circle cx="191.62" cy="973.41" r="1.5"/><circle cx="192.89" cy="976.21" r="1.5"/><circle cx="194.15" cy="984.35" r="1.5"/><circle cx="195.42" cy="1008.93" r="1.5"/><circle cx="196.69" cy="1008.93" r="1.5"/><circle cx="197.95" cy="979.49" r="1.5"/><circle cx="199.22" cy="977.15" r="1.5"/><circle cx="200.48" cy="1008.93" r="1.5"/><circle cx="201.75" cy="1025.75" r="1.5"/><circle cx="203.02" cy="982.76" r="1.5"/><circle cx="204.28" cy="986.03" r="1.5"/><circle cx="205.55" cy="982.76" r="1.5"/><circle cx="206.81" cy="979.02" r="1.5"/><circle cx="208.08" cy="991.17" r="1.5"/><circle cx="209.35" cy="985.09" r="1.5"/><circle cx="210.61" cy="986.03" r="1.5"/><circle cx="211.88" cy="985.09" r="1.5"/><circle cx="213.14" cy="986.96" r="1.5"/><circle cx="214.41" cy="984.63" r="1.5"/><circle cx="215.68" cy="986.5" r="1.5"/><circle cx="216.94" cy="980.42" r="1.5"/><circle cx="218.21" cy="986.5" r="1.5"/><circle cx="219.47" cy="979.02" r="1.5"/><circle cx="220.74" cy="987.9" r="1.5"/><circle cx="222.01" cy="976.21" r="1.5"/><circle cx="223.27" cy="986.03" r="1.5"/><circle cx="224.54" cy="984.16" r="1.5"/><circle cx="225.8" cy="986.96" r="1.5"/><circle cx="227.07" cy="986.96" r="1.5"/><circle cx="228.34" cy="986.03" r="1.5"/><circle cx="229.6" cy="985.56" r="1.5"/><circle cx="230.87" cy="982.29" r="1.5"/><circle cx="232.13" cy="985.56" r="1.5"/><circle cx="233.4" cy="1006.12" r="1.5"/><circle cx="234.67" cy="1005.42" r="1.5"/><circle cx="235.93" cy="970.19" r="1.5"/><circle cx="237.2" cy="969.62" r="1.5"/><circle cx="238.46" cy="969.62" r="1.5"/><circle cx="239.73" cy="970.19" r="1.5"/><circle cx="241" cy="975.36" r="1.5"/><circle cx="242.26" cy="981.68" r="1.5"/><circle cx="243.53" cy="986.85" r="1.5"/><circle cx="244.79" cy="978.23" r="1.5"/><circle cx="246.06" cy="970.96" r="1.5"/><circle cx="247.33" cy="974.4" r="1.5"/><circle cx="248.59" cy="976.7" r="1.5"/><circle cx="249.86" cy="986.27" r="1.5"/><circle cx="251.12" cy="986.85" r="1.5"/><circle cx="252.39" cy="966.74" r="1.5"/><circle cx="253.66" cy="974.4" r="1.5"/><circle cx="254.92" cy="978.61" r="1.5"/><circle cx="256.19" cy="966.74" r="1.5"/><circle cx="257.45" cy="966.36" r="1.5"/><circle cx="258.72" cy="971.53" r="1.5"/><circle cx="259.99" cy="979.19" r="1.5"/><circle cx="261.25" cy="988.19" r="1.5"/><circle cx="262.52" cy="1004.08" r="1.5"/><circle cx="263.78" cy="983.02" r="1.5"/><circle cx="265.05" cy="992.02" r="1.5"/><circle cx="266.32" cy="975.36" r="1.5"/><circle cx="267.58" cy="974.79" r="1.5"/><circle cx="268.85" cy="986.85" r="1.5"/><circle cx="270.11" cy="1005.42" r="1.5"/><circle cx="271.38" cy="1009.82" r="1.5"/><circle cx="272.65" cy="988.19" r="1.5"/><circle cx="273.91" cy="980.15" r="1.5"/><circle cx="275.18" cy="987.42" r="1.5"/><circle cx="276.44" cy="1010.4" r="1.5"/><circle cx="277.71" cy="990.1" r="1.5"/><circle cx="278.98" cy="985.51" r="1.5"/><circle cx="280.24" cy="986.27" r="1.5"/><circle cx="281.51" cy="996.42" r="1.5"/><circle cx="282.77" cy="997.76" r="1.5"/><circle cx="284.04" cy="983.59" r="1.5"/><circle cx="285.31" cy="986.27" r="1.5"/><circle cx="286.57" cy="964.83" r="1.5"/><circle cx="287.84" cy="971.53" r="1.5"/><circle cx="289.1" cy="987.8" r="1.5"/><circle cx="290.37" cy="980.53" r="1.5"/><circle cx="291.64" cy="978.61" r="1.5"/><circle cx="292.9" cy="983.02" r="1.5"/><circle cx="294.17" cy="993.55" r="1.5"/><circle cx="295.43" cy="990.68" r="1.5"/><circle cx="296.7" cy="979.76" r="1.5"/><circle cx="297.97" cy="985.89" r="1.5"/><circle cx="299.23" cy="990.68" r="1.5"/><circle cx="300.5" cy="991.25" r="1.5"/><circle cx="301.76" cy="986.85" r="1.5"/><circle cx="303.03" cy="981.68" r="1.5"/><circle cx="304.3" cy="981.1" r="1.5"/><circle cx="305.56" cy="974.79" r="1.5"/><circle cx="306.83" cy="968.28" r="1.5"/><circle cx="308.09" cy="978.23" r="1.5"/><circle cx="309.36" cy="989.34" r="1.5"/><circle cx="310.63" cy="979.76" r="1.5"/><circle cx="311.89" cy="979.76" r="1.5"/><circle cx="313.16" cy="1009.25" r="1.5"/><circle cx="314.42" cy="979.19" r="1.5"/><circle cx="315.69" cy="981.68" r="1.5"/><circle cx="316.96" cy="988.19" r="1.5"/><circle cx="318.22" cy="1001.21" r="1.5"/><circle cx="319.49" cy="993.17" r="1.5"/><circle cx="320.75" cy="993.17" r="1.5"/><circle cx="322.02" cy="1013.65" r="1.5"/><circle cx="323.29" cy="989.72" r="1.5"/><circle cx="324.55" cy="987.42" r="1.5"/><circle cx="325.82" cy="975.36" r="1.5"/><circle cx="327.08" cy="987.8" r="1.5"/><circle cx="328.35" cy="979.19" r="1.5"/><circle cx="329.62" cy="991.63" r="1.5"/><circle cx="330.88" cy="987.8" r="1.5"/><circle cx="332.15" cy="987.8" r="1.5"/><circle cx="333.41" cy="977.85" r="1.5"/><circle cx="334.68" cy="993.17" r="1.5"/><circle cx="335.95" cy="1023.23" r="1.5"/><circle cx="337.21" cy="982.44" r="1.5"/><circle cx="338.48" cy="983.98" r="1.5"/><circle cx="339.74" cy="1018.82" r="1.5"/><circle cx="341.01" cy="989.34" r="1.5"/><circle cx="342.28" cy="980.15" r="1.5"/><circle cx="343.54" cy="989.34" r="1.5"/><circle cx="344.81" cy="1000.82" r="1.5"/><circle cx="346.07" cy="998.34" r="1.5"/><circle cx="347.34" cy="991.63" r="1.5"/><circle cx="348.61" cy="970.57" r="1.5"/><circle cx="349.87" cy="982.44" r="1.5"/><circle cx="351.14" cy="980.53" r="1.5"/><circle cx="352.4" cy="984.93" r="1.5"/><circle cx="353.67" cy="979.19" r="1.5"/><circle cx="354.94" cy="979" r="1.5"/><circle cx="356.2" cy="975.93" r="1.5"/><circle cx="357.47" cy="989.72" r="1.5"/><circle cx="358.73" cy="980.53" r="1.5"/><circle cx="360" cy="988.19" r="1.5"/><circle cx="361.27" cy="991.63" r="1.5"/><circle cx="362.53" cy="972.87" r="1.5"/><circle cx="363.8" cy="974.79" r="1.5"/><circle cx="365.06" cy="975.36" r="1.5"/><circle cx="366.33" cy="977.27" r="1.5"/><circle cx="367.6" cy="1008.48" r="1.5"/><circle cx="368.86" cy="1000.82" r="1.5"/><circle cx="370.13" cy="1000.82" r="1.5"/><circle cx="371.39" cy="980.15" r="1.5"/><circle cx="372.66" cy="982.06" r="1.5"/><circle cx="373.93" cy="986.85" r="1.5"/><circle cx="375.19" cy="991.63" r="1.5"/><circle cx="376.46" cy="991.63" r="1.5"/><circle cx="377.72" cy="991.25" r="1.5"/><circle cx="378.99" cy="972.87" r="1.5"/><circle cx="380.26" cy="993.93" r="1.5"/><circle cx="381.52" cy="990.68" r="1.5"/><circle cx="382.79" cy="1046.2" r="1.5"/><circle cx="384.05" cy="976.7" r="1.5"/><circle cx="385.32" cy="977.27" r="1.5"/><circle cx="386.59" cy="977.85" r="1.5"/><circle cx="387.85" cy="977.27" r="1.5"/><circle cx="389.12" cy="995.08" r="1.5"/><circle cx="390.38" cy="986.85" r="1.5"/><circle cx="391.65" cy="983.98" r="1.5"/><circle cx="392.92" cy="982.44" r="1.5"/><circle cx="394.18" cy="977.85" r="1.5"/><circle cx="395.45" cy="971.53" r="1.5"/><circle cx="396.71" cy="983.02" r="1.5"/><circle cx="397.98" cy="983.59" r="1.5"/><circle cx="399.25" cy="975.36" r="1.5"/><circle cx="400.51" cy="971.53" r="1.5"/><circle cx="401.78" cy="998.91" r="1.5"/><circle cx="403.04" cy="995.85" r="1.5"/><circle cx="404.31" cy="981.68" r="1.5"/><circle cx="405.58" cy="974.79" r="1.5"/><circle cx="406.84" cy="975.93" r="1.5"/><circle cx="408.11" cy="995.85" r="1.5"/><circle cx="409.37" cy="981.68" r="1.5"/><circle cx="410.64" cy="974.4" r="1.5"/><circle cx="411.91" cy="975.93" r="1.5"/><circle cx="413.17" cy="977.27" r="1.5"/><circle cx="414.44" cy="1008.48" r="1.5"/><circle cx="415.7" cy="1001.21" r="1.5"/><circle cx="416.97" cy="981.1" r="1.5"/><circle cx="418.24" cy="981.68" r="1.5"/><circle cx="419.5" cy="985.51" r="1.5"/><circle cx="420.77" cy="985.51" r="1.5"/><circle cx="422.03" cy="969.62" r="1.5"/><circle cx="423.3" cy="983.98" r="1.5"/><circle cx="424.57" cy="947.21" r="1.5"/><circle cx="425.83" cy="944.73" r="1.5"/><circle cx="427.1" cy="940.32" r="1.5"/><circle cx="428.36" cy="957.17" r="1.5"/><circle cx="429.63" cy="938.02" r="1.5"/><circle cx="430.9" cy="942.24" r="1.5"/><circle cx="432.16" cy="944.15" r="1.5"/><circle cx="433.43" cy="939.94" r="1.5"/><circle cx="434.69" cy="958.7" r="1.5"/><circle cx="435.96" cy="960.04" r="1.5"/><circle cx="437.23" cy="948.55" r="1.5"/><circle cx="438.49" cy="943.38" r="1.5"/><circle cx="439.76" cy="955.26" r="1.5"/><circle cx="441.02" cy="952.96" r="1.5"/><circle cx="442.29" cy="959.47" r="1.5"/><circle cx="443.56" cy="959.09" r="1.5"/><circle cx="444.82" cy="964.83" r="1.5"/><circle cx="446.09" cy="950.47" r="1.5"/><circle cx="447.35" cy="951.43" r="1.5"/><circle cx="448.62" cy="958.13" r="1.5"/><circle cx="449.89" cy="942.81" r="1.5"/><circle cx="451.15" cy="942.81" r="1.5"/><circle cx="452.42" cy="942.24" r="1.5"/><circle cx="453.68" cy="948.55" r="1.5"/><circle cx="454.95" cy="957.17" r="1.5"/><circle cx="456.22" cy="949.51" r="1.5"/><circle cx="457.48" cy="940.32" r="1.5"/><circle cx="458.75" cy="953.72" r="1.5"/><circle cx="460.01" cy="954.3" r="1.5"/><circle cx="461.28" cy="951.81" r="1.5"/><circle cx="462.55" cy="962.91" r="1.5"/><circle cx="463.81" cy="956.21" r="1.5"/><circle cx="465.08" cy="951.04" r="1.5"/><circle cx="466.34" cy="939.94" r="1.5"/><circle cx="467.61" cy="938.02" r="1.5"/><circle cx="468.88" cy="970.57" r="1.5"/><circle cx="470.14" cy="943.38" r="1.5"/><circle cx="471.41" cy="943.77" r="1.5"/><circle cx="472.67" cy="948.55" r="1.5"/><circle cx="473.94" cy="948.55" r="1.5"/><circle cx="475.21" cy="946.07" r="1.5"/><circle cx="476.47" cy="945.3" r="1.5"/><circle cx="477.74" cy="955.26" r="1.5"/><circle cx="479" cy="944.73" r="1.5"/><circle cx="480.27" cy="939.56" r="1.5"/><circle cx="481.54" cy="958.7" r="1.5"/><circle cx="482.8" cy="948.55" r="1.5"/><circle cx="484.07" cy="949.13" r="1.5"/><circle cx="485.33" cy="955.26" r="1.5"/><circle cx="486.6" cy="951.43" r="1.5"/><circle cx="487.87" cy="952.38" r="1.5"/><circle cx="489.13" cy="954.3" r="1.5"/><circle cx="490.4" cy="946.64" r="1.5"/><circle cx="491.66" cy="960.04" r="1.5"/><circle cx="492.93" cy="959.47" r="1.5"/><circle cx="494.2" cy="956.21" r="1.5"/><circle cx="495.46" cy="961" r="1.5"/><circle cx="496.73" cy="963.87" r="1.5"/><circle cx="497.99" cy="938.41" r="1.5"/><circle cx="499.26" cy="940.32" r="1.5"/><circle cx="500.53" cy="979.19" r="1.5"/><circle cx="501.79" cy="939.56" r="1.5"/><circle cx="503.06" cy="938.02" r="1.5"/><circle cx="504.32" cy="952.96" r="1.5"/><circle cx="505.59" cy="961.96" r="1.5"/><circle cx="506.86" cy="955.64" r="1.5"/><circle cx="508.12" cy="944.73" r="1.5"/><circle cx="509.39" cy="946.64" r="1.5"/><circle cx="510.65" cy="950.47" r="1.5"/><circle cx="511.92" cy="948.55" r="1.5"/><circle cx="513.19" cy="941.85" r="1.5"/><circle cx="514.45" cy="964.83" r="1.5"/><circle cx="515.72" cy="968.28" r="1.5"/><circle cx="516.98" cy="949.13" r="1.5"/><circle cx="518.25" cy="945.3" r="1.5"/><circle cx="519.52" cy="957.17" r="1.5"/><circle cx="520.78" cy="944.15" r="1.5"/><circle cx="522.05" cy="943.77" r="1.5"/><circle cx="523.31" cy="955.26" r="1.5"/><circle cx="524.58" cy="945.68" r="1.5"/><circle cx="525.85" cy="950.47" r="1.5"/><circle cx="527.11" cy="958.7" r="1.5"/><circle cx="528.38" cy="944.15" r="1.5"/><circle cx="529.64" cy="949.51" r="1.5"/><circle cx="530.91" cy="949.13" r="1.5"/><circle cx="532.18" cy="944.15" r="1.5"/><circle cx="533.44" cy="958.13" r="1.5"/><circle cx="534.71" cy="966.36" r="1.5"/><circle cx="535.97" cy="955.26" r="1.5"/><circle cx="537.24" cy="950.47" r="1.5"/><circle cx="538.51" cy="943.77" r="1.5"/><circle cx="539.77" cy="938.98" r="1.5"/><circle cx="541.04" cy="957.17" r="1.5"/><circle cx="542.3" cy="960.62" r="1.5"/><circle cx="543.57" cy="953.72" r="1.5"/><circle cx="544.84" cy="948.55" r="1.5"/><circle cx="546.1" cy="946.07" r="1.5"/><circle cx="547.37" cy="939.94" r="1.5"/><circle cx="548.63" cy="951.81" r="1.5"/><circle cx="549.9" cy="943.77" r="1.5"/><circle cx="551.17" cy="945.16" r="1.5"/><circle cx="552.43" cy="942.5" r="1.5"/><circle cx="553.7" cy="941.06" r="1.5"/><circle cx="554.96" cy="941.06" r="1.5"/><circle cx="556.23" cy="953.35" r="1.5"/><circle cx="557.5" cy="958.07" r="1.5"/><circle cx="558.76" cy="958.48" r="1.5"/><circle cx="560.03" cy="956.84" r="1.5"/><circle cx="561.29" cy="956.02" r="1.5"/><circle cx="562.56" cy="939.01" r="1.5"/><circle cx="563.83" cy="940.45" r="1.5"/><circle cx="565.09" cy="948.23" r="1.5"/><circle cx="566.36" cy="956.84" r="1.5"/><circle cx="567.62" cy="953.35" r="1.5"/><circle cx="568.89" cy="949.26" r="1.5"/><circle cx="570.16" cy="954.79" r="1.5"/><circle cx="571.42" cy="957.45" r="1.5"/><circle cx="572.69" cy="968.31" r="1.5"/><circle cx="573.95" cy="963.6" r="1.5"/><circle cx="575.22" cy="943.11" r="1.5"/><circle cx="576.49" cy="940.04" r="1.5"/><circle cx="577.75" cy="956.84" r="1.5"/><circle cx="579.02" cy="969.74" r="1.5"/><circle cx="580.28" cy="950.28" r="1.5"/><circle cx="581.55" cy="944.13" r="1.5"/><circle cx="582.82" cy="943.72" r="1.5"/><circle cx="584.08" cy="947.21" r="1.5"/><circle cx="585.35" cy="948.23" r="1.5"/><circle cx="586.61" cy="953.35" r="1.5"/><circle cx="587.88" cy="949.87" r="1.5"/><circle cx="589.15" cy="950.69" r="1.5"/><circle cx="590.41" cy="956.02" r="1.5"/><circle cx="591.68" cy="952.33" r="1.5"/><circle cx="592.94" cy="955.4" r="1.5"/><circle cx="594.21" cy="956.02" r="1.5"/><circle cx="595.48" cy="951.31" r="1.5"/><circle cx="596.74" cy="945.77" r="1.5"/><circle cx="598.01" cy="945.77" r="1.5"/><circle cx="599.27" cy="951.31" r="1.5"/><circle cx="600.54" cy="956.84" r="1.5"/><circle cx="601.81" cy="942.09" r="1.5"/><circle cx="603.07" cy="943.72" r="1.5"/><circle cx="604.34" cy="952.33" r="1.5"/><circle cx="605.6" cy="947.21" r="1.5"/><circle cx="606.87" cy="958.89" r="1.5"/><circle cx="608.14" cy="953.97" r="1.5"/><circle cx="609.4" cy="946.59" r="1.5"/><circle cx="610.67" cy="956.84" r="1.5"/><circle cx="611.93" cy="944.13" r="1.5"/><circle cx="613.2" cy="939.01" r="1.5"/><circle cx="614.47" cy="948.64" r="1.5"/><circle cx="615.73" cy="945.77" r="1.5"/><circle cx="617" cy="947.21" r="1.5"/><circle cx="618.26" cy="939.01" r="1.5"/><circle cx="619.53" cy="953.35" r="1.5"/><circle cx="620.8" cy="952.74" r="1.5"/><circle cx="622.06" cy="952.33" r="1.5"/><circle cx="623.33" cy="947.21" r="1.5"/><circle cx="624.59" cy="948.23" r="1.5"/><circle cx="625.86" cy="964.21" r="1.5"/><circle cx="627.13" cy="949.26" r="1.5"/><circle cx="628.39" cy="936.96" r="1.5"/><circle cx="629.66" cy="942.5" r="1.5"/><circle cx="630.92" cy="966.67" r="1.5"/><circle cx="632.19" cy="949.26" r="1.5"/><circle cx="633.46" cy="941.68" r="1.5"/><circle cx="634.72" cy="951.31" r="1.5"/><circle cx="635.99" cy="943.72" r="1.5"/><circle cx="637.25" cy="946.18" r="1.5"/><circle cx="638.52" cy="945.16" r="1.5"/><circle cx="639.79" cy="946.59" r="1.5"/><circle cx="641.05" cy="950.28" r="1.5"/><circle cx="642.32" cy="946.18" r="1.5"/><circle cx="643.58" cy="958.07" r="1.5"/><circle cx="644.85" cy="947.21" r="1.5"/><circle cx="646.12" cy="941.68" r="1.5"/><circle cx="647.38" cy="940.04" r="1.5"/><circle cx="648.65" cy="955.4" r="1.5"/><circle cx="649.91" cy="960.93" r="1.5"/><circle cx="651.18" cy="953.35" r="1.5"/><circle cx="652.45" cy="951.31" r="1.5"/><circle cx="653.71" cy="956.43" r="1.5"/><circle cx="654.98" cy="953.97" r="1.5"/><circle cx="656.24" cy="955.4" r="1.5"/><circle cx="657.51" cy="953.97" r="1.5"/><circle cx="658.78" cy="949.87" r="1.5"/><circle cx="660.04" cy="944.54" r="1.5"/><circle cx="661.31" cy="964.62" r="1.5"/><circle cx="662.57" cy="940.04" r="1.5"/><circle cx="663.84" cy="941.68" r="1.5"/><circle cx="665.11" cy="959.09" r="1.5"/><circle cx="666.37" cy="950.28" r="1.5"/><circle cx="667.64" cy="951.31" r="1.5"/><circle cx="668.9" cy="959.5" r="1.5"/><circle cx="670.17" cy="952.74" r="1.5"/><circle cx="671.44" cy="949.26" r="1.5"/><circle cx="672.7" cy="953.35" r="1.5"/><circle cx="673.97" cy="947.82" r="1.5"/><circle cx="675.23" cy="958.48" r="1.5"/><circle cx="676.5" cy="952.74" r="1.5"/></g>
<polyline points="44.77,972.9 46.03,966.8 106.8,966.8 108.07,974.3 170.1,974.3 171.37,976.7 233.4,976.7 234.67,965 296.7,965 297.97,974.3 360,974.3 361.27,973.1 423.3,973.1 424.57,975.9 486.6,975.9 487.87,974.8 549.9,974.8 551.17,972.9 613.2,972.9 614.47,976.3 676.5,976.3" fill="none" stroke="#ff5050" stroke-width="1.6" stroke-dasharray="4.4 2.4"/>
<text x="507.7" y="79.4" class="th">Threshold</text>
<line x1="504.1" y1="67.4" x2="489.39" y2="56.88" stroke="#000" stroke-width="1"/>
<path d="M484.1 53.1L490.9 54.77L487.88 59Z" fill="#000"/>
<text x="430.5" y="196.9" class="th">Threshold</text>
<line x1="482" y1="192.4" x2="502.39" y2="198.69" stroke="#000" stroke-width="1"/>
<path d="M508.6 200.6L501.62 201.17L503.15 196.2Z" fill="#000"/>
<text x="509.6" y="483.5" class="th">Threshold</text>
<line x1="505.9" y1="471.9" x2="491.48" y2="462.7" stroke="#000" stroke-width="1"/>
<path d="M486 459.2L492.88 460.51L490.08 464.89Z" fill="#000"/>
<text x="548.6" y="641.6" class="th">Threshold</text>
<line x1="544.9" y1="629.7" x2="530.49" y2="621.12" stroke="#000" stroke-width="1"/>
<path d="M524.9 617.8L531.82 618.89L529.16 623.36Z" fill="#000"/>
<text x="499.4" y="866.1" class="th">Threshold</text>
<line x1="495.8" y1="854.5" x2="477.47" y2="842.71" stroke="#000" stroke-width="1"/>
<path d="M472 839.2L478.87 840.53L476.06 844.9Z" fill="#000"/>
<text x="479.6" y="1003.5" class="th">Threshold</text>
<line x1="475.5" y1="992" x2="457.75" y2="980.45" stroke="#000" stroke-width="1"/>
<path d="M452.3 976.9L459.17 978.27L456.33 982.62Z" fill="#000"/>
<text x="359.3" y="358.7" class="lt" text-anchor="middle">(a)</text>
<text x="361.8" y="733.2" class="lt" text-anchor="middle">(b)</text>
<text x="359.3" y="1113.4" class="lt" text-anchor="middle">(c)</text>
</svg>
</body></html>
